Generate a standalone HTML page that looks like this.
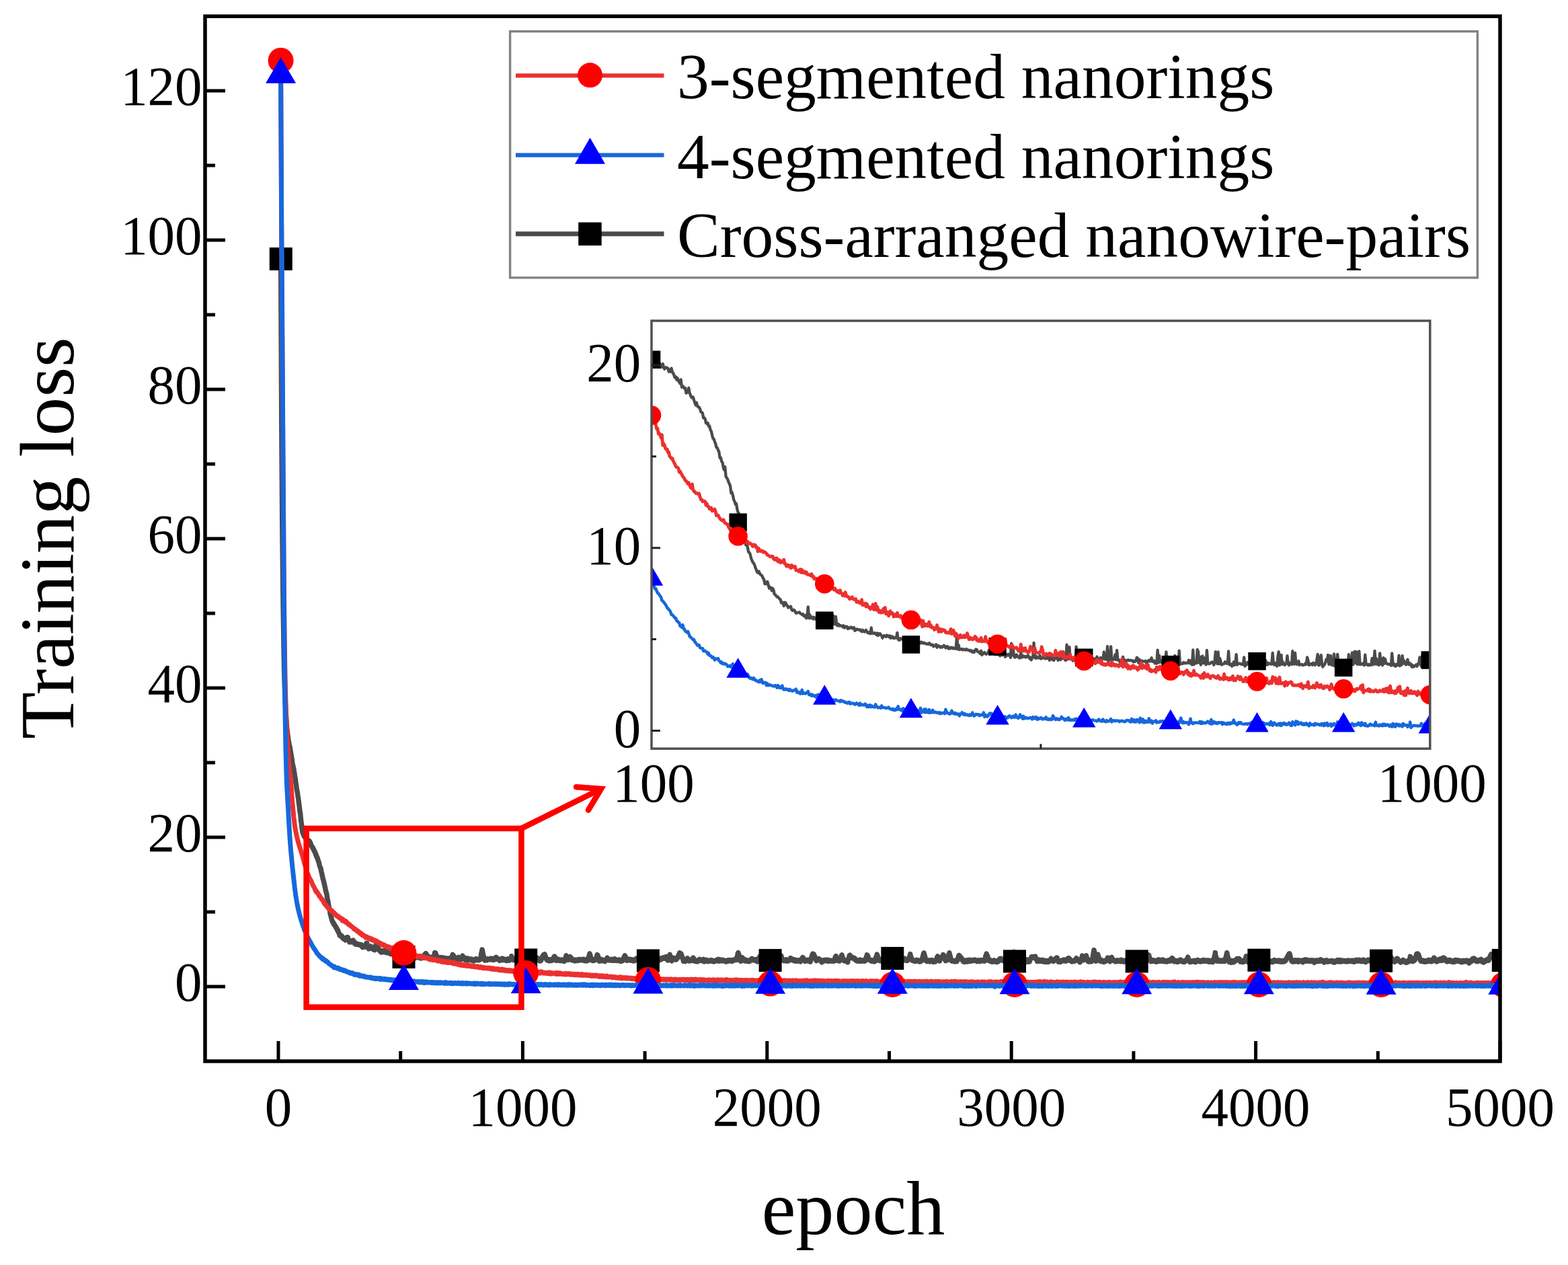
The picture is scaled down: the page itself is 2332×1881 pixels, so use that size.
<!DOCTYPE html><html><head><meta charset="utf-8"><title>Training loss vs epoch</title><style>html,body{margin:0;padding:0;background:#fff;overflow:hidden}svg{display:block}</style></head><body><svg width="2332" height="1881" viewBox="0 0 2332 1881">
<rect width="100%" height="100%" fill="#fff"/>
<defs><clipPath id="cm"><rect x="305.0" y="24.2" width="1926.0" height="1553.8"/></clipPath><clipPath id="ci"><rect x="969.0" y="477.0" width="1157.8000000000002" height="636.2"/></clipPath></defs>
<g clip-path="url(#cm)" fill="none" stroke-linejoin="round" stroke-linecap="round">
<path d="M417.6 383.7l.4 84.1 .4 75.9 .3 69.5 .4 64.8 .7 101.3 .4 40.9 .7 64.6 .4 26.7 .7 49.4 .4 20 .3 16.7 .4 14.7 .7 20.6 .4 8.9 .7 14.9 .4 5.3 .7 10.6 .4 5.8 .3 4.2 .4 3.3 .7 6.4 .4 3.2 .7 4.9 .4 2.3 .7 4 .4 1.7 .3 .9 .4 1.2 .7 5.1 .4 1.9 .7 4.4 .4 2.6 .7 3.6 .4 2.9 .3 2.7 .4 2.1 .7 3.4 .4 1.5 .7 3.4 .4 2.4 .7 4.1 .3 2.3 .4 2.9 .4 1.4 .7 6.2 .4 2.3 .7 4.4 .4 3.4 .7 3.8 .3 .6 .4 3.2 .4 3 .7 4 .4 4 .7 4.8 .4 3.2 .7 6.2 .3 1.4 .4 2.8 .4 3.5 .7 7.8 .4 1.8 .7 6.2 .3 2.5 .8 5.4 .3 .3 .4 1.6 .4 .7 .7 1.5 .4 1.7 .3-1.4 .4 1.1 .3 0 .4 0 .4 1.5 .3 1.4 .4-.2 .4 .5 .7-.2 .4 1.5 .3-.9 .4 1.4 .3-.6 .8 1.3 .3 .3 .4 .7 .4 .5 .3 1.1 .4-.4 .4-.6 .7 1.3 .3 .9 .4 1.5 .4-.3 .3 1.6 .4 .8 .4 .9 .7 1.6 .3 .6 .8 1.4 .3-.8 .8 2.6 .3 .2 .4 .6 .4 1.7 .7 .4 .3 1.2 .8 1 .3 2.1 .8 1.6 .3-.3 .4 2.8 .4 .1 .7 1 .3 1 .8 3.2 .3-.2 .8 3 .3 .5 .4 2 .4 1.8 .7 2.2 .3 .7 .8 2.1 .3 .6 .8 4.6 .3 1.1 .4 1.6 .3 1.8 .8 2.9 .3 2.4 .8 2.3 .3 1.4 .8 3 .3 1.8 .4 .8 .3 2 .8 3 .3 2.6 .8 2.5 .3 1.5 .8 2.6 .3 2.5 .4 2.5 .3 2.1 .8 3.1 .3 2.5 .8 4.2 .3 1.4 .8 4.1 .3 1.1 .4 .9 .3 3.8 .8 3.2 .3 .7 .8 3.6 .3 1 .7 2.3 .4 .6 .4 1.7 .3 .3 .8 .5 .3 .8 .4 1.6 .4-.1 .3-.1 .7 1.8 .4 1 .4-.2 .3 1.3 .8 1.5 .3-.6 .8 1.6 .3 1.6 .4-.1 .3 1.6 .4 .5 .4-.7 .3 1.7 .8 1.8 .3 .4 .7 1.7 .4 1.9 .4-.5 .3 .2 .4 .3 .4-.3 .3 .8 .8 1.4 .3-.7 .4-.2 .3 1.1 .4 .7 .4 .4 .3-.5 .4 1.9 .4-.1 .3-.1 .8 1 .3-.2 .7 .6 .4 .3 .4 .8 .3-1.1 .4-.9 .4 .5 .3-.9 .4-.9 .4 .4 .3-1.2 .4 .2 .3-.3 .4 .1 .7 3.1 .4 .3 .4 1.2 .3 .8 .7 1.7 .4-1.3 .4 .7 .3-.8 .4 .8 .4 .5 .3-.5 .4-.2 .4 .1 .3-.5 .7 .9 .4-2 .4-.1 .3 0 .4-.2 .7 1.5 .4 .8 .4 .3 .3-.2 .4 2.1 .3-.8 .4 1.6 .4 .3 .3-1.2 .4 .8 .4 .8 .3-.5 .4-.6 .4-.1 .3 1 .7-.4 .4 .8 .4-.4 .3 .3 .4 .4 .4 .1 .3-.2 .4 .1 .3 .5 .4 0 .4-.7 .3 .6 .4-.2 .4-.1 .3 .5 .4-.6 .4 1.9 .3-.6 .4 .9 .3-.9 .4 .3 .4 2.3 .3-.3 .4-.9 .4-.1 .3 0 .4 .4 .7-.4 .4 .4 .3-.7 .4 1.1 .4-2.3 .3 .2 .4-1.9 .7-.4 .4-1.5 .4 0 .3 1.2 .4 1.5 .3 .3 .4 .8 .7 2.7 .4 .5 .4 1.7 .3-.4 .4-.8 .3-.7 .4 .3 .4-.5 .3-.5 .4-.6 .4 .1 .3-.6 .4 1.2 .7 1.3 .4-.2 .7 1.4 .4-.9 .3 1.1 .4-.6 .4 .7 .3 1 .4 .1 .4-.3 .3 .4 .4 .2 .7-1.9 .4-2.3 .7-3.2 .4-.9 .3-1.4 .4-1.8 .7 3.2 .4 1.5 .7 2.6 .4 .7 .3-.2 .4 2.8 .4-.4 .3 1.6 .4-.4 .7 1.2 .4 .2 .3-.1 .4 1.4 .4 0 .3 .5 .4-.9 .4 .4 .3-.6 .4 .4 .3-1.1 .4 2 .4-.9 .3-.7 .4 .6 .4 .2 .3-.3 .4 .6 .4-.9 .3-1.3 .4 1 .7 1.5 .4 0 .3-.5 .4 1.2 .4 .2 .7-.8 .3 .5 .4 .2 .4 .1 .3-.6 .4 .7 .4-1.9 .3 .6 .4-.3 .4-.4 .7 2.3 .3-.8 .4 .2 .4 1.3 .3 .5 .4-.6 .4 .6 .3-1.8 .4 2 .4-.9 .7-.7 .3-.4 .4-.7 .4-.4 .3-1.4 .4 1.2 .4-1.9 .7-1.4 .4-.7 .7 2.7 .3 .2 .4 1.4 .4 1.6 .3-.4 .4 .9 .4 3.2 .7-2.2 .3 .9 .8 .5 .3 .1 .4-.2 .4 .2 .3-.6 .4 .8 .4 .1 .3 .6 .4-.5 .3 .6 .8-.8 .3 .4 .4-.1 .4 .1 .7 .3 .4 0 .3-.5 .4 1 .3-1.2 .8 1.6 .3 .1 .4 .3 .4-.3 .3 .7 .4-.8 .4 1 .3 .8 .4-.8 .3 .7 .8-1.8 .3 .2 .4 1.1 .4-.3 .3-1.4 .4 .8 .3 .2 .8-1.4 .3 .7 .4 .6 .4-.5 .3-.6 .4 .3 .4-.2 .3-1 .4 .1 .3-.9 .8-2 .3 1.6 .8-.8 .3-.5 .4-.6 .4 .7 .3-.1 .4 1.3 .3 .5 .8 1.1 .3 1.4 .8 1.1 .3 .6 .4 .6 .4-.3 .3 .9 .4-.5 .3-1.5 .4 2 .4-1 .3-.4 .4 .1 .4 0 .3-.7 .4-.3 .3-.2 .4 .7 .4-1.2 .3 .1 .8 .3 .3 .2 .8 1.5 .3-.4 .4 .3 .3 .4 .4-.3 .4 .7 .3-.1 .4-.7 .4 1 .3-1 .4 .3 .4-.3 .3 .8 .4-.5 .3-.6 .8-.6 .3 .6 .8 .4 .3-1.5 .7-1.6 .4-1.4 .4 .2 .3 0 .8-1.5 .3 .4 .4-.9 .4 1.2 .3 1.5 .4-.7 .3 .3 .4 1.4 .4 .7 .3 .1 .4 0 .4 .1 .3-.1 .8 .6 .3 .2 .7 1.9 .4-.7 .4-.3 .3 .4 .4-.7 .4 .8 .3 .3 .4-1.3 .4 .4 .3 .3 .7-.5 .4 .4 .4 1.6 .3-1 .8-.8 .3-1.7 .7-1.7 .4-.7 .4-2.8 .3 .4 .4-.6 .4 .3 .3 1 .8 1.9 .3 1.8 .7 1.9 .4 .7 .4 .8 .3-.5 .4 .2 .4-1.6 .3 2 .4-1.2 .4 .8 .3 .1 .7-.7 .4-.2 .7 .9 .4-.1 .4-.6 .3-.1 .4-.4 .4 .7 .3-.3 .4-.2 .3 .8 .4 1 .4-.1 .3 .2 .4-1.6 .4 1.4 .3-1.1 .4 .4 .3-.6 .4 .4 .7 .7 .4 0 .7 .6 .4-.2 .4-.8 .3 2 .4-1 .3 .8 .4-.7 .4-.5 .3 .4 .4-.5 .4 1.2 .3-1.6 .4 .8 .4-.8 .3 .4 .4 1.6 .3-1 .4-.5 .4-.6 .3 .7 .4 .1 .4 1 .3-2.3 .4-.9 .4 .3 .3-.6 .4 .1 .3-2.2 .4-1.7 .7 .6 .4 .9 .4 1.4 .3-.8 .4 1.9 .3-.1 .4 .2 .7 .7 .4 .2 .7 1.4 .4-.6 .7 1.2 .4 .2 .3-.6 .4 .5 .7-.5 .4-1.2 .7-1.5 .4 1.8 .7-.8 .4 .8 .3 .4 .4-.9 .7 2.1 .4 .3 .7-2.1 .4 .3 .7-2.2 .4-.7 .3 .1 .4-1.3 .7 2.5 .4-.2 .7 1.3 .4 1.4 .3-.4 .4 0 .4-.6 .3 2 .4-2.8 .4 1.9 .3-1.3 .4-.3 .7 .4 .4 1 .3-.7 .4 1 .4 1.3 .3-2.7 .4 1.5 .4-.4 .3 1.8 .4-1.5 .7-.4 .4 .7 .3 .5 .4-.8 .4 1 .7-1.2 .4 .8 .3-.2 .4 .2 .3-.9 .4 .5 .4 1 .3-.5 .4 1.2 .4-.2 .3-.7 .4 1.3 .4-.5 .3 .6 .4-.8 .3-.8 .4 1.2 .4-.7 .3 .4 .4-.1 .4-.1 .7-2.4 .4 .9 .3 .7 .4-.7 .3 .6 .4-.5 .4 .3 .3 .1 .4-.1 .4 .7 .3-.2 .4 .6 .4-.8 .3 .4 .4-.8 .3 .3 .4-.7 .4-.3 .7-2.6 .4-1.6 .7-4.9 .3-1.2 .4-1 .4-2.7 .7 3.6 .4 3 .3 3 .4-1.3 .4 2.4 .7 4.4 .3 .2 .4-.2 .4 .9 .7-1.1 .4 .1 .3-.6 .4 .6 .4-1.3 .3 1.6 .4-.7 .3 1.2 .4-.5 .4-1.5 .3 1.2 .4-.9 .4 .3 .3 .5 .4-.4 .4 0 .7-.7 .3 0 .4 .6 .4 .3 .3-.6 .4 .3 .4-.5 .3-.9 .4 1.1 .3 .6 .8 .5 .3 .1 .4 0 .4-.3 .3 0 .4-.6 .4 .6 .3-.1 .4 .3 .3-1.9 .4 .4 .4-1 .3 .3 .4-.6 .4 .7 .7-1.8 .4 2.4 .7-1.3 .3 .9 .8-.1 .3 1.2 .4-.4 .4 .9 .7 .3 .4-.1 .7 .1 .3 1.2 .4-2 .4 .3 .3 .2 .4 .5 .4-.3 .7-.4 .3 1 .8-2.6 .3 2.7 .4-1.6 .4 .3 .3 .3 .4-.9 .4 1.5 .7-1.3 .3 1.1 .4 .2 .4-.1 .3 .4 .4-1 .4 1.5 .3-1.1 .4 1 .4-1.2 .7 1.6 .3-1.7 .4 .5 .4-.5 .3-1 .8 1.7 .3-1.3 .4 .9 .3-.7 .8 1.7 .3-1.1 .8-1.7 .3-.1 .8-1.1 .3-.3 .4-2.1 .3 1.6 .8 1.2 .3-.2 .8 1.5 .3 .8 .8 1.1 .3-.2 .4-1.2 .3 .7 .8-.9 .3 .3 .4 .4 .4-1.1 .3 .9 .4 .6 .4-.5 .3 .3 .4 .8 .3-.5 .8 1.2 .3-1.1 .8 .1 .3 .6 .7-1 .4-.1 .4 .9 .3-.8 .4 1.2 .4-.3 .3-.7 .8 1.5 .3-.7 .4 .7 .3-.1 .4-.4 .4-.6 .3 1.8 .4-.9 .4 0 .3 0 .8-.5 .3-.8 .4 .5 .3-.7 .4-.4 .4 .5 .3-.6 .4-.6 .4 1 .3 .8 .4 0 .4 .8 .3-.4 .4-.1 .3 1.2 .4-.9 .4-1.4 .3 .3 .4-1 .4 .1 .3-.8 .7-2.9 .4 2 .7 1.3 .4 .3 .4 .2 .3 .8 .4-.5 .4 1.6 .3-1.1 .4 .1 .3-.7 .4 .7 .7-1.7 .4-.4 .4 .5 .3-1.3 .8 1.6 .3 .2 .7 .5 .4 1.3 .4 .2 .3-1.1 .4-.3 .4-.1 .3-.3 .8-1.2 .3-1.1 .4 .9 .3-1.1 .4 .6 .4 1.1 .3-.4 .4 1.5 .4 .5 .3 0 .4-.1 .3 .1 .4 .3 .4-.2 .3 1.5 .4-1.3 .4 1.2 .3-.2 .4 .1 .4-.6 .3-.8 .7-2.6 .4-1.3 .7-.9 .4-1.1 .7-1 .4 1.2 .4-2 .3 .7 .7-.8 .4-.5 .7 1.9 .4 1.4 .7 1.3 .4 1.7 .3 .1 .4 1.7 .7 .6 .4-.3 .4-.6 .3 1.2 .4-1.1 .7 .3 .4 1.4 .3-1.2 .4-.4 .4 .7 .3-.5 .4 1.4 .4-1.7 .3 .7 .4-.7 .4 1.6 .3-1.3 .4 .6 .3-.5 .4 1 .7-1.6 .4 1 .7-1.7 .4-.3 .7-3 .4 .6 .3-.2 .4-.9 .7 1.6 .4 .5 .7 2.1 .4 1.3 .3 .7 .4-1.4 .4 .9 .3-1.7 .4 1.2 .4 .3 .3-.8 .4-.6 .7 1.7 .4-.8 .3-.5 .4 1.1 .4 .2 .3-.9 .4 .6 .4 .8 .3-.4 .4 .2 .4-.6 .3 0 .4-.6 .7 1.5 .4-1.1 .3-.2 .4 .3 .4-.2 .3 .9 .4 .3 .4-.9 .3 1.1 .4 .7 .3-2.7 .4 .1 .4-1.1 .7-1.3 .4-1 .3-1.4 .4-1.3 .3 2.3 .4-.9 .4 1.9 .3 .7 .4-.2 .4 1.2 .3 1.6 .4-1.1 .4 1 .3-1.1 .4-.5 .3-1.2 .4 .5 .4-1.3 .3 .5 .4-1.6 .4 1.6 .3 .2 .4-.7 .4 1.3 .3 .7 .4-.7 .7 2.7 .4-.8 .3 1.1 .4-1.2 .4 .1 .7 1.1 .4-.3 .3 .1 .4 .5 .3-.9 .4 1.5 .4-1 .7-.1 .4-.4 .3 .8 .4-1 .3 .5 .4 .3 .4 .4 .7-.9 .4 .7 .7-1.1 .4-.1 .3-.3 .4 1 .3 .3 .4-1.2 .4 .3 .3-.5 .4 .7 .4-.6 .7 .3 .4 .2 .7 .2 .3 .1 .4-.5 .4 .9 .3-1.3 .4 1 .4-.6 .7 .7 .3-1.3 .8 2.1 .3-.2 .4-.1 .4-1.3 .3 1.2 .4-.2 .4 1.1 .7-1 .3-.7 .4 1.3 .4-.8 .3 .1 .4 .7 .4-.6 .7-1.2 .4-2.8 .7-1.9 .3-.8 .8-3.3 .3 .8 .4 1 .4 2.3 .7 2.3 .4 1.1 .7 2.4 .3-.6 .8 .8 .3 .1 .4-.3 .4 .7 .7-.3 .3 .1 .4-.4 .4 .1 .3-1.6 .8 .6 .3 .1 .4-1.4 .4 .2 .7-1.8 .3-.9 .8-1.5 .3-2.1 .8 1 .3 2 .4-.5 .4 2.3 .7 1.4 .3 .9 .4 2.4 .4-.5 .3 .4 .8-1 .3 0 .4 .1 .4-.3 .3 0 .4-.6 .3-.5 .4 1.9 .4-.9 .3 .2 .4-.5 .4 .9 .3-.4 .4 .6 .3-.8 .8 .7 .3-.2 .8 1.3 .3-1 .8-.6 .3-1.1 .4-.6 .3 .9 .8-2.5 .3-.4 .8 2 .3 0 .8 1.1 .3-.6 .4 1 .3 .2 .4-1.1 .4 .8 .3-.3 .8-.5 .3 .6 .4-.2 .4 .5 .3-1.4 .4 .7 .3 1.1 .8-.8 .3 .2 .4-.7 .4 .4 .3 .9 .4-.4 .3 .5 .4-.9 .4-.1 .3-1.6 .8 2.4 .3-.6 .4-.4 .4 .9 .3-.1 .7-.4 .4 .3 .4 .6 .3-1 .4 .7 .4-.1 .3 .5 .8-1.3 .3 1.3 .7-1.3 .4 .7 .4-.2 .3 .9 .4-1.3 .4 .3 .3 .5 .4 1.3 .4-.4 .3-1.1 .4-.4 .3 .8 .4-.5 .4 1 .3-.2 .8-1.3 .3 .1 .7-3.6 .4 .4 .7-2.8 .4-.4 .4 1.9 .3-.9 .8 2.5 .3-.5 .7 3.4 .4 .4 .4 .6 .3-.3 .4-.7 .4 .4 .3-.1 .4-1.3 .4 .4 .3-.1 .7 .3 .4-.5 .4 .8 .3-1 .4 1.6 .4-.3 .3 .6 .7-.9 .4-.5 .4 1.2 .3-.3 .4 .2 .7 .6 .4-.7 .4 1 .3-1 .7 .4 .4 .2 .4 .3 .3-1.8 .4 1.5 .4-1.8 .3 .3 .4 .3 .4 .2 .3-1.5 .4-.6 .3 1.3 .4-.2 .4-.5 .3 .6 .4-.7 .4 1.6 .3-.4 .4 1.2 .4-1.6 .3 1.5 .4 .8 .3-1.1 .4 0 .4-1.2 .3 1.2 .4-.2 .7-.9 .4 .9 .3-.6 .4 .3 .4 .4 .3-.2 .4 0 .4 .5 .3-1.9 .4 .8 .7-2.7 .4-.1 .3-.3 .4-1 .4-1.1 .3 .3 .4 .7 .7 1.4 .4 .1 .4 1.4 .3-.8 .4 .8 .3 .5 .4-.7 .7 2.6 .4-1.4 .4 1 .3-1.2 .4-.6 .4 1.8 .3-.3 .4 .3 .3-.2 .4-.1 .4-.2 .3 1.4 .4-1.3 .4 1.4 .3-.5 .4-.4 .7 1.3 .4 0 .3-.1 .4-.1 .4-1.3 .3 .7 .4-1.6 .7-1.3 .4-.6 .7-1.3 .4-.2 .3 .2 .4-.7 .4 2 .3-1.8 .4 .9 .4 0 .3 .3 .4 1 .3-.3 .4 .7 .4-.1 .3 1.6 .4-1.1 .4 1.1 .3 .8 .4 .2 .4-.1 .3 .1 .4-.4 .7-.5 .4 .6 .3-.7 .4 .1 .4-.8 .3-1.2 .4 .5 .7 .8 .4-.4 .7-1.4 .4 .7 .3-.5 .4 .4 .4-.5 .3-.7 .4 1.1 .3-.3 .4 .2 .4-1 .3 1 .4-.1 .4 .1 .7-1.2 .4-1.2 .3 2.4 .4-.5 .7 2.1 .4 .1 .7 1.2 .4-1 .3 1.1 .4-2.3 .3-1.1 .4-.5 .4-1.5 .7-2.1 .4-1.2 .7 3.7 .4-.8 .7 2.5 .3 1.2 .4 2.5 .4 .4 .7-.8 .4-1.4 .3 .5 .4-1 .4 .5 .7-2.2 .3 .8 .4 .4 .4-1.1 .7 2.3 .4 .2 .7-.9 .4 .6 .3 .2 .4-.5 .3-1.2 .4 .8 .4-1.7 .3-.3 .4 .4 .4-1.3 .7-2.4 .3 .5 .8-2.3 .3-.7 .4-1.4 .4 .5 .7 1.5 .4 0 .3-.9 .4 .1 .3 1.1 .8 2.1 .3 .9 .4 .9 .4 1.9 .7 1.5 .4 1.4 .3 1.5 .4-.7 .3 .4 .4-.7 .4 .7 .3 .2 .4-.2 .4 .2 .3 .4 .4-.7 .4-1.2 .7-1.4 .3 1.1 .8-1.7 .3-.9 .4 .8 .4 .5 .3-.2 .4 .8 .3 1.2 .4-.9 .4 .6 .3 1.4 .4-.9 .4 .7 .3-1.1 .4 .6 .4 .2 .3-.3 .4 .1 .3-.7 .8-.6 .3-.1 .4 1.4 .4-2.5 .3 .7 .4-1.5 .4-.9 .7 2 .3 .4 .8 1.3 .3 .6 .4 .8 .4-.6 .3 .7 .4-.5 .4 .7 .3-.1 .4 .2 .3-.3 .4-.2 .4 .4 .3 .3 .8-1.9 .3 .9 .4-.3 .3-1.2 .4-.1 .4 .1 .3 .5 .4-1.5 .4 1.1 .3 0 .8 1.1 .3 0 .4-1 .3 .1 .8 .9 .3 .2 .4-.6 .4 .7 .3-1.3 .8-1.1 .3 1.1 .4 .8 .3 .1 .4 1.4 .4-1.6 .3-.3 .4-.7 .4 .3 .3 .2 .4 .3 .4-.2 .3-.3 .4 1.5 .3-.3 .4 .7 .4-1.6 .3 .2 .8 1.5 .3-.6 .4 .3 .3-.1 .4 .2 .4-.6 .3 .4 .4-.8 .4 .2 .3 .1 .4-.2 .4 0 .3-.9 .4 .7 .3-.2 .4 .5 .4 .7 .3-1.3 .4 1.2 .4-.8 .3 .2 .4 1.2 .4-.3 .3-.2 .7 .6 .4-1 .4 .6 .3-.3 .4 .2 .4-.6 .3 .3 .7-1.2 .4 0 .7 .2 .4-.6 .4-.1 .3 .4 .4 .4 .4-.7 .3-1 .4 1.6 .3-.2 .4-.1 .4 1.6 .3-1.6 .4 .4 .4-1.2 .3 .9 .4 .2 .4-.3 .3-.1 .4 .6 .3-.2 .4 .9 .7-.9 .4-.5 .4 .9 .3 .2 .4-.5 .4 0 .3-.4 .7 .9 .4-.2 .4 0 .3 0 .4 .1 .4 .5 .3 .8 .4-.7 .3 .8 .4-1.2 .7 1 .4-1.3 .4-.1 .3 .4 .4-.9 .4-.1 .3 1.7 .4-1.3 .3 .3 .4-.2 .4-.4 .3 .8 .4-.2 .4 .1 .3-.2 .4-.5 .4 .9 .3-.1 .4-.8 .3 .4 .4-.1 .4 1.4 .3-.5 .4-.1 .4-.4 .3 .2 .4-1 .4 .5 .3-.2 .7-.6 .4 .5 .4-.9 .3 .4 .4 .2 .4 0 .3-.2 .4-.3 .3 0 .4 .3 .7-2.7 .4-2.1 .7-1.1 .4-3.3 .7-1.5 .4 1.1 .3 2 .4 0 .7 5.3 .4 .5 .7 2.5 .4 1.1 .4 .1 .3-1.9 .4-.3 .3-.5 .4 .3 .7-3.2 .4 2.4 .4-1.3 .3 1.4 .4-1.2 .7 2.3 .4-.3 .3 .8 .4 .6 .4-.7 .3 .6 .4 .7 .4-2.1 .3 1.3 .4 .2 .3-.6 .4 1.2 .4 .1 .3-.3 .4 .1 .7-.6 .4 1.1 .7-.6 .4 .9 .3-.9 .4 .6 .4-1.2 .7 .3 .4 .7 .3-1.2 .4 .2 .4-1.2 .3 .1 .4 .1 .7-1.5 .4 .4 .3-.7 .4 1.1 .4 .3 .3 0 .4 .8 .7 .3 .4-.7 .3 0 .4 1 .4-1.1 .3 .9 .4-.2 .4-.3 .3 .3 .4-1.2 .7 2.1 .4-1.3 .3 1 .4-.1 .4 1.6 .3-2.2 .4 .1 .4-.7 .3-.8 .4-1.1 .3 .3 .4-1.3 .4 .3 .7-2.4 .4 1 .3 1.6 .4-.2 .4 1 .3 1 .4 0 .7 2.4 .4 0 .3-1.3 .4 2 .4-.7 .7 .3 .3 1.2 .4-.2 .4-.4 .3-.6 .4 .7 .4 .1 .7-1.6 .4 .2 .3 .4 .4-.4 .3 .3 .4-.3 .4 1.3 .3-.6 .4 .3 .4 .7 .3-.6 .4 .2 .4 .4 .3-.3 .4 1.2 .3-.7 .4-.1 .4 .2 .3-.3 .4 1 .4-.1 .7-1.7 .4-1.2 .7 1 .3-1.2 .4 0 .4-.5 .3-3.2 .4 .4 .4-1.2 .7-2.4 .3 0 .8 2.4 .3 1 .4-.7 .4 .8 .7 2.4 .4 .8 .3 .6 .4-1.1 .3 .7 .8 .4 .3-.2 .4 .4 .4 0 .3 1 .4-.9 .4-1 .3 1.5 .4-.2 .3-.6 .4-.1 .4 .2 .3 .5 .4-2 .4 .2 .7-2.5 .4-.2 .7-3.5 .3 2 .8 2.2 .3 .5 .4 .8 .4 .4 .7 1.3 .3-.2 .8 .7 .3 0 .4-1 .4 .2 .3-.5 .4 0 .4 .7 .3-.5 .4 1.2 .3-2.1 .8 1.4 .3 .6 .4-.9 .4 1.3 .3-.6 .4-.9 .4 .4 .3 .3 .4-.8 .3 1 .4-.7 .4 .1 .3-.1 .4-1.1 .4 .5 .3-2 .4 1.1 .3-1.8 .4 1.4 .4-.7 .3 1.2 .4 .3 .4-.6 .3 0 .4 1.3 .4-1.1 .3 1.3 .4-.4 .3-.1 .4 0 .4 1.4 .3-1.8 .8 1.3 .3 .4 .4 .5 .4 0 .3-1 .4 .7 .3 .5 .8-1.2 .3 1.2 .8-1.3 .3 .3 .8 .3 .3 .3 .4-.4 .3-.5 .8-.2 .3 0 .8 .5 .3 .8 .4 .8 .3-.8 .4-.4 .4-.9 .3-.9 .8-.9 .3-1.3 .8-1 .3 .1 .7 2.3 .4 .2 .4-.3 .3 2.2 .4-.2 .4 .6 .3-.2 .4 1.2 .4-1.7 .3 .9 .4 .1 .3-.2 .4-.6 .4 .2 .3 .1 .4-.8 .4 1.1 .3 .2 .4-1.1 .4 .1 .3-.3 .4 1.2 .3-1 .4 .5 .4-.6 .3 1.8 .4-.6 .4 .4 .3 .9 .7-2.8 .4-.4 .7-3.5 .4-1.4 .4-1.4 .3-.3 .8-2.1 .3 1.1 .4 .3 .3-.6 .4-.2 .7 2.8 .4-.3 .4 .7 .3 .6 .8 2 .3 1.3 .7 2.2 .4 .5 .7-2.3 .4 .7 .4 .6 .3-.3 .4-.7 .4 .3 .3-.8 .4 .2 .3-.6 .4 1 .7 1.1 .4 .1 .4-.3 .3 .3 .4-.4 .3 1.3 .4-.6 .7 1.3 .4 1.4 .7-.8 .4-.7 .4 .3 .3-.6 .4 .3 .3-.3 .4-.2 .4-1.2 .3 .1 .4 .3 .4 .1 .3-.5 .4 .2 .4 .7 .3-1.4 .7 1 .4-.8 .7 .8 .4-.3 .4 .8 .3-.2 .4 .9 .3-2 .4 1.9 .4-1.3 .3 .9 .4 .3 .7-.5 .4 0 .4-.6 .3 .7 .4-.3 .3 .7 .4-.8 .7 .5 .4-.3 .7-.3 .4-.1 .7 .6 .4-.8 .3 1.3 .4-.6 .4-1.2 .3 1.6 .4-1.8 .4-1.5 .3 .6 .4-3.1 .4 2.1 .3-2.9 .4-.8 .3 1 .4 1.3 .7 1.7 .4-.3 .7 2 .4-.1 .3 1.2 .4-.3 .4-.3 .3 .9 .4-1.4 .7 1.6 .4-.8 .7-1.7 .4-1.4 .7-2.6 .4-.1 .3-1.9 .4-.5 .7 2.5 .4 1 .7 1.6 .4 .9 .7 2 .4 .5 .3 .3 .4-.4 .4 .2 .3-.8 .4 .3 .4 .9 .3-.1 .4-1 .7 1.3 .4-.7 .7 1.2 .4 .2 .3 1 .4-2.8 .7-1.8 .4-1.1 .7-2.9 .4-1.4 .7-.6 .4 1.4 .3-.5 .4 .6 .3 .8 .4-.6 .4 1.4 .7 .8 .4 .3 .7-.7 .4 1.4 .3-1.3 .4 .4 .3-.2 .4 .5 .4 1.2 .3 .2 .4-1.5 .4 1.2 .3 1.1 .4-.7 .4 .6 .3 1 .4 .5 .7-1 .4 .3 .3 .4 .4-.1 .4 0 .3 1.5 .4-1 .3 .2 .4 .3 .4-.4 .3-.3 .4 .1 .4 .6 .7-1.8 .4 1.8 .3 .4 .4-1.1 .3-.1 .4 .1 .4 1 .3-1.2 .4 1 .4 .2 .7-.6 .4-.5 .7 .4 .3-.5 .4 .4 .4-.5 .7 1.3 .4-1.3 .3 1.2 .4-.7 .4-1.1 .7-1.8 .3-2 .4 1.2 .4-2.9 .3-1.8 .4 .2 .4 1 .7 .7 .3 2.6 .8 1.3 .3 .5 .4 1.1 .4-.2 .3 .7 .4-.1 .4 .5 .3 .1 .4-.2 .3 .2 .4 .6 .4-1.4 .3 1 .4 .7 .4-1.3 .3 1.1 .4-.6 .4 .3 .3-.1 .4 .1 .3 .4 .8-1.4 .3 2.3 .4-1.2 .4-.2 .3 .8 .4-1 .3-3.1 .4 .2 .4-2.5 .3-.3 .8-2.3 .3-1.3 .4 .8 .4 1.4 .7 2.2 .3 .4 .8 3.4 .3 .8 .4-.5 .4 .6 .3-.1 .4 .4 .4-.3 .7-.6 .3 .6 .4-1.1 .4 1.2 .3-1.7 .8 1.5 .3 .6 .4 1.4 .4-1.4 .7-1 .3 1.9 .4-1.8 .4 1.3 .3-.4 .4 1.9 .4-1.4 .3 .1 .4-.7 .3 .2 .4 .6 .4-1.3 .3 .1 .8-.4 .3-.5 .8 .5 .3-.4 .4-1.9 .3-.1 .8-.2 .3 .2 .8 1.1 .3 .7 .4-1.1 .4 1.5 .3 .9 .4 .8 .3-.3 .8-.9 .3 .6 .4-.2 .4 .2 .3 .4 .4-1.3 .4 .5 .3-1.2 .4 1.8 .3-.4 .4-.5 .4 .6 .3 .6 .8-.8 .3-.2 .4 .2 .3-.6 .4-.1 .4 .4 .3 .1 .4 .1 .4-.2 .3-.1 .4 .7 .4 0 .3 .6 .4 .8 .3 0 .4-.8 .4 0 .3-.8 .4 .7 .4-.6 .3-.4 .8 .8 .3-.4 .4-.1 .3 .7 .4-.8 .4-.2 .3 .9 .4-1.3 .4 1.3 .3 .1 .8-.8 .3-1.1 .7-1.7 .4 0 .4-.4 .3-.1 .4 1.1 .4-.2 .3 .9 .4-.5 .3 1.1 .4-.5 .7 1.5 .4 .1 .4-.2 .3-.4 .4-.4 .4 .7 .3-.9 .4-1.4 .3 1.3 .4-.8 .7-1.1 .4-2.4 .4-.2 .3-1.1 .8-3 .3 3 .4-.1 .3 1.3 .4 1.2 .7 2.4 .4 .1 .4 1.6 .3 .2 .4-.5 .3 .3 .4 .2 .4 .2 .3-.8 .4 .7 .7 .7 .4-.4 .4 .4 .3-.8 .4-.1 .3 1.1 .4-1.2 .4-.4 .3 .3 .4 .6 .4-1.2 .3 1.1 .4 .3 .4 0 .3-.6 .4-.5 .3 0 .4 .6 .4 .9 .3-.2 .4 .3 .4-.3 .3 1 .4-1 .4-.4 .3 .3 .4-.5 .3 .6 .4 .1 .7-1.8 .4-.1 .7-2.9 .4-.6 .3-2.5 .4-.8 .7-3.1 .4-.5 .7 3.4 .4 .5 .7 3.2 .4 1.7 .3 .5 .4 2.6 .4 .1 .3-1.1 .4-.1 .7 1.8 .4-.7 .4-.6 .3 .3 .4-.8 .3 1.7 .4-1 .4 .8 .3-1 .4 .9 .4-.5 .3 1 .4 .3 .7-.8 .4 .1 .3-1.4 .4-.2 .7 1 .4-.3 .4 .5 .3-1 .4 .8 .7 .7 .4 1.1 .3-.5 .4 .1 .4-.8 .3 .1 .4 .5 .7-1.3 .4 1.4 .7-1.4 .4-.6 .7-2.5 .4-1.6 .3 1 .4-1.9 .4-.9 .3 .9 .4 1 .7 1.1 .4 1.7 .7 1.5 .4 .9 .3-.6 .4-1.3 .7-1 .4-.6 .7-.9 .4-.6 .3-1.1 .4 .1 .4-.3 .3-1.1 .4-.6 .3 .9 .4-2.4 .4 .5 .7 1.5 .4 1.5 .3 1.4 .4-.6 .4 2.8 .3 .5 .4 .4 .3 1 .4-.6 .4-.3 .3-1.2 .4 1.7 .4-.5 .3-.5 .4 .3 .4-.7 .3-2.2 .4-1.1 .7-3.2 .4-1.3 .7-2.2 .4 2.2 .7 2.2 .4 1.8 .3 1.1 .4 2 .7 1.2 .4 1.5 .3-.4 .4 .4 .4-.8 .7 .7 .3 .3 .4-.2 .4 .7 .3-.8 .4 .8 .4-.6 .3 .3 .4-.4 .4 .7 .3-.5 .4 .9 .3-1 .4 .3 .4-.4 .7-.7 .4 1.5 .3-1.5 .4 .1 .4-2.5 .3 .8 .4-1.5 .3-.6 .4-2.8 .4 .6 .3-1.7 .4 .8 .4 1.2 .7-.4 .3 1 .4-.2 .4 1.3 .3 .2 .4 .9 .4 .1 .3-.2 .4 1.4 .4 .7 .7 1.7 .3-.6 .4 1.4 .4-.1 .3-.5 .4 .2 .4-1.3 .3 2.4 .4-1.6 .4-.2 .3 1 .4-.3 .3-.6 .4-.7 .4 1.3 .3 .4 .4-1.5 .4-.3 .7 1.9 .4-2.2 .3 .9 .4-.9 .3 .6 .4 .1 .4 0 .3-1.1 .4 .1 .4 2.1 .7-2.1 .3 1.2 .4 .7 .4-.8 .3 .1 .4-.1 .4 .2 .3-.2 .4 .1 .4-.5 .3 .6 .4-.4 .3 0 .4-.9 .4 .5 .3 .3 .4-.4 .4 .1 .3-.4 .4 .3 .4-.6 .7 1.1 .3 .3 .4-.6 .4 .2 .3 .4 .8 1 .3-1.2 .4-.3 .4 0 .3 1.1 .4-1.3 .3 .8 .8-.5 .3 .6 .4-.1 .4 .8 .3-.7 .4 .5 .3-1.3 .4 .2 .4-.5 .3 .4 .4 .5 .4-.5 .3 .5 .4-.5 .4 .1 .3 .8 .4-.6 .3-.1 .4 .1 .4-.7 .3-.5 .4 1.1 .4-.1 .3 1 .8-3.6 .3-.4 .4-2.6 .3-1.5 .8-2 .3-1 .8 2.8 .3 .5 .4-.1 .4 2.3 .3 1 .4 1.5 .3 1.8 .8-.6 .3 .9 .8-1 .3 .3 .4 1.6 .3-.2 .4 .5 .4-1.3 .3 .5 .8 1.2 .3 .3 .4-.4 .4 .1 .3 .3 .7-1.3 .4 0 .4 .5 .3 .4 .8-1.7 .3 .5 .8 .7 .3-.5 .7 .8 .4 .9 .4 .1 .3-.5 .8 .6 .3-.5 .4-.9 .3 .5 .4-.8 .4 .8 .3-.4 .4 0 .4-1 .3-1.6 .4 0 .4-.7 .3-.6 .4-.1 .3 .2 .4 0 .4-.2 .3 .3 .4 .1 .4 .3 .3 .7 .4-.2 .4 .7 .3-.8 .4 2 .3-.8 .4-1.2 .7 2.5 .4-.4 .4-.5 .3 1 .4-.3 .4 .5 .3 .4 .4-1.8 .3 1.9 .4 .5 .7-.8 .4-.1 .4-.4 .3 .2 .4 .7 .3-1.2 .4 .3 .7 .7 .4-.4 .4 .1 .3-.4 .4 .9 .4-.8 .3-.1 .4 .5 .3-.6 .4-.1 .4-1.2 .3 1.6 .4-1.5 .4 .5 .3-.9 .4-2.3 .4-.7 .3-1.9 .7-4.1 .4-.9 .7-1.9 .4 1.6 .7 2.9 .4 1.7 .4 1.4 .3 2.5 .7 2.7 .4-.1 .4 .7 .3-.5 .4 .8 .4-.9 .3 .1 .4 .2 .3 .3 .4 0 .4 1.9 .3-1.9 .4 .6 .4-.1 .3 .2 .4 .7 .7-1.2 .4-.6 .3 1 .4 .1 .4-1.5 .3 1.2 .4-1.8 .7 1.6 .4-1 .4-.4 .3 1.7 .4-1.6 .3 1 .4-1 .7 1.9 .4-1.1 .7-.6 .4 .3 .7 1.3 .4 .2 .3-.2 .4 .1 .4-.4 .3 1.1 .4-1.7 .7-1.6 .4 .9 .3 .8 .4-.4 .4 1.1 .3-.2 .4 .9 .4-1.7 .3 .6 .4 1.1 .7-2.7 .4-.5 .7-.8 .4-.9 .7-2.3 .4 1 .3 .2 .4-1.2 .4 1.2 .3-1.1 .4 .5 .7-.7 .4 .5 .3 0 .4 .9 .4-.2 .3-.7 .4-.5 .3 0 .4-.5 .4 1.8 .7 .9 .4 1.2 .7 1.9 .4-.5 .3 1.9 .4-1 .3 .9 .4-1.5 .4 1 .3-1.1 .4 1.2 .4-.8 .3-1 .4 1.2 .4-.4 .3 .4 .4 1.1 .3-1.4 .4 0 .4 1 .3-.9 .4 .8 .4 .2 .3-.6 .4 .4 .4-1.6 .3 2.2 .4-1.3 .3-.1 .4 1.7 .4-.2 .3-1.2 .4 .5 .4-.5 .3-.4 .4 .9 .3 .3 .4 1.1 .4-1.6 .3 .8 .4-.6 .4 .1 .3 1.1 .4-1.7 .4 .5 .7 1.3 .3-.4 .4 .1 .4-.1 .3 .4 .4-.8 .4 .1 .7-.6 .4-1.5 .7 1.3 .3-1.7 .4-.8 .4-1.1 .7 1.4 .4 .6 .3-.4 .4 1 .4 .4 .3 .5 .4-.4 .3 .6 .4 .6 .4-1.4 .3 .7 .4-.6 .4-.1 .3-.5 .4 .1 .3 .4 .4-.8 .4 .2 .3-2.2 .4 .2 .4-1 .7 .9 .4-1.3 .7 2.2 .3 .8 .8 1.2 .3 1.9 .4-.8 .4 .8 .7-1.5 .4 .4 .7 1.3 .3-1.2 .4-.3 .4 .2 .3 .5 .4-.3 .4 .1 .7-1.3 .4-.3 .3 .9 .4-.6 .3-.2 .4 .6 .4-.2 .3-1.3 .4 1 .4-.4 .3 .8 .4-.2 .3 1 .8-1.4 .3-.4 .8 .9 .3 .5 .4-.3 .4-.8 .3-1 .4 .1 .3-1.5 .4 .5 .4-.2 .3-1 .8 1.2 .3-.8 .4 1.3 .4 .3 .7 .4 .3 1.6 .4-.9 .4 .7 .3 .3 .4 0 .4 1.2 .3-.2 .4-.3 .3-.2 .4 .5 .4-.1 .3-.7 .4-.3 .4 .4 .3-.3 .4 .8 .4 0 .3-.8 .4-.1 .3-.4 .4-1.6 .4 .6 .3-.1 .8-2.4 .3 1.3 .4-.4 .4 1.2 .3 .4 .4 .4 .3 0 .4-.9 .4 2 .3-1.3 .4 1.7 .4-.1 .3-.4 .8 .9 .3 1.3 .4-.8 .3-.3 .4-3.1 .4 .5 .3-1.3 .8-1.8 .3-.6 .4-2.3 .3 1.4 .4 .2 .4 1.4 .3 .6 .4-.2 .4 1.9 .3 1.2 .4-.5 .4 .1 .3-1.1 .4-1.4 .3 .2 .4-1.6 .4 .2 .3-2 .4-.6 .4 1.9 .3 .8 .8 1.5 .3 .4 .4 2.3 .3-.4 .4 2.2 .4-.3 .3 .5 .4-2.2 .4 1.1 .3-.1 .4 .5 .4-.9 .3 1.7 .7-2.2 .4 1.5 .4-.1 .3-.3 .4 .9 .4-.3 .3-.5 .7-3.8 .4-1.7 .7-4.5 .4-2.8 .4-1.7 .3-1.6 .8 3.5 .3 1.9 .7 5.6 .4 1.5 .7 3.9 .4-1.4 .4-1.5 .3-1.6 .8-1.5 .3-.9 .7-3.1 .4 1.8 .7 2.7 .4 .4 .4 1.9 .3 .3 .8 2.6 .3-.3 .4 0 .3 .7 .4-.4 .4-1.6 .3 1.9 .4-.5 .4-1 .3 .9 .7 1.1 .4-.8 .7-.1 .4 .9 .4-.3 .3 1 .4-.8 .4 .3 .3-.6 .7-.8 .4 1 .4-1.4 .3 .4 .4-.2 .4-1 .3 .1 .4-1.3 .4-.8 .3-.2 .4-1 .3 1.1 .4 .5 .4 1.4 .3-.1 .4 1.1 .7 .9 .4 .5 .4 .3 .3-.8 .7-2.6 .4-.7 .7-2 .4-.2 .7 1.9 .4 .5 .3 .3 .4 .2 .7 1.2 .4 .7 .4-.3 .3 .4 .4 .1 .7 .8 .4 .4 .3-.7 .4 .2 .7 .3 .4-1.5 .4 1.6 .3-.4 .4-.3 .4 .7 .3-.7 .4-1 .3 .5 .4 .2 .7 .3 .4-.5 .7 .7 .4-.3 .3-.5 .4 .3 .4-.2 .3 1.4 .4-1.8 .4-.7 .3 .5 .4 1 .4 .3 .3-.5 .4 .7 .3-.9 .4 .8 .4-.8 .3-.2 .4 1.9 .4-1.2 .3 .6 .4 .4 .7-.6 .4-.7 .3 1.5 .4-1.5 .4-.6 .3 .7 .4 0 .4 .3 .3 .5 .4-1 .4 .1 .3-.2 .4-.9 .7 1.4 .4-.6 .3 1.7 .4 0 .4-.4 .3 .2 .4-.7 .3 .6 .4-1.1 .4 .1 .7 1.1 .4-.5 .3-.2 .4 .9 .4-1 .3-.3 .4 .1 .3-.8 .4 0 .4 1 .3-.9 .4 .1 .4-1.2 .3 .3 .4-1.4 .4-.1 .3-.7 .4 .2 .3 1.3 .4-1.2 .4 1.6 .3-.2 .4 1.1 .4 .4 .3 0 .4 1.4 .4-.8 .3 1.5 .4-1.5 .3 .4 .4-.2 .4-.3 .7-1.2 .4 2 .3-1 .4 .5 .3-.9 .4 .9 .4-.4 .3 .5 .4-.5 .4-.1 .3 .8 .4-.2 .4 .8 .7-1.2 .3 .9 .4-.9 .4 1.2 .7-1.3 .4-1 .7-1.3 .4-.5 .3-.9 .4 1.1 .3 .9 .4 .4 .4-1.4 .3 2.9 .4-.7 .4-.5 .3 1 .4-.3 .4-1.5 .7-2.8 .3 .1 .4-2 .4-.7 .3-1.6 .4 1 .4 2 .7 1.8 .3 .3 .8 3 .3-.1 .4 1.8 .4-1.2 .3 .6 .4-.4 .4-.2 .3-.9 .4 1.2 .3-.3 .4 .6 .4-1.1 .3 .6 .4-.4 .4 .9 .7-1 .4 .7 .3-.4 .4 .1 .3 .6 .4 .7 .4-1.3 .3 .5 .4-.4 .4 1.7 .3-.4 .4 0 .3-.9 .4-1.3 .4 .1 .3 .1 .8-.9 .3 .7 .4-.2 .4 .3 .3 1.5 .4-.9 .3-.8 .8 1.1 .3 .1 .8-1.3 .3 .6 .4 .3 .4 1 .3-1.6 .4 .6 .3 .1 .4-1.3 .4 .2 .3 1.6 .4-1.4 .4 .4 .3 .8 .4-.6 .4 1.4 .3-.1 .4 .2 .3-.1 .4-.9 .4 1.3 .3 0 .4 0 .4-.7 .3 .2 .4-.8 .3 .7 .4 .3 .4-.6 .3-.4 .4 .4 .4-.7 .3-.8 .4 1.3 .4-.4 .3-.7 .4 1.1 .3 .1 .4 .1 .4-1.3 .3-.6 .8-.7 .3-1.1 .4-.3 .4 .8 .3-1.3 .4 .6 .3 .2 .8 2 .3 .4 .4 1.4 .4-.4 .3 .9 .4-.7 .4 .7 .3-.4 .4 .2 .3 0 .4-1.1 .4 .5 .3-.6 .4 1.1 .4-.5 .3 1.2 .4-.5 .3 .2 .4-.4 .4 .4 .3 .4 .8-1 .3-.6 .4-.5 .4 .1 .3-.3 .4-.7 .3 0 .4-.1 .4-.1 .3 .5 .8 1.8 .3-.4 .4 .4 .4-.4 .3 .9 .7-.4 .4 .7 .4-.1 .3-.9 .8 .7 .3 0 .4 .5 .4-1 .3 .1 .4-.3 .3 .2 .4-.5 .4-.1 .3-.9 .8-1.3 .3 .5 .7-1.3 .4-1.1 .4-1.4 .3 .9 .4 1.4 .4 .3 .3 1.4 .8 1.9 .3 .5 .4-.5 .3 1.5 .4-1.5 .4-.1 .3 .8 .4-.1 .4 .3 .3-.4 .4-.4 .4 .3 .3-.6 .4-.1 .3 .4 .4 0 .4 .1 .3-.2 .4 .7 .4-.8 .3 .2 .4 .6 .4-1.6 .3 1.8 .7-.6 .4 1.2 .4-.8 .3 .3 .4-.5 .4-.6 .3-.4 .7-.6 .4-.4 .7 1.2 .4-.8 .7 1.2 .4-1 .4 .5 .3 .5 .7-.4 .4 1.2 .4-.7 .3 .6 .4-.7 .4 .4 .3-1.1 .4 .2 .4 .5 .3-.6 .4 .4 .3-.9 .4-.5 .4 0 .3 1 .4-.7 .4-.2 .3 .3 .4-.3 .3 1.6 .4-.8 .4 .9 .3-.3 .4-.2 .4-.3 .3 .6 .4-.6 .7 .6 .4-1.2 .3 .2 .4 1 .7-.5 .4-.7 .7 .7 .4 1.6 .7-1.1 .4 .1 .3 0 .4 .4 .4-1.1 .3 .2 .4 .9 .4 .5 .3-1.6 .4 1.5 .7-1.2 .4 1.6 .3-.6 .4 .4 .7-1.8 .4-2.5 .7-2 .4-2.1 .7-2.3 .4-3 .3 3.1 .4 1.2 .7 3.1 .4 1.9 .4-.4 .3 2.4 .4 1.3 .3-.2 .4 .3 .4 0 .7-2.1 .4 .9 .3-.1 .4 1.2 .4-.8 .3 .7 .4-1.1 .3 .6 .4-.1 .4 .1 .7 .9 .4-1.2 .3 1 .4-.1 .4-.5 .3 .2 .4-.6 .3-.4 .4 .4 .4 0 .3 .2 .4-.5 .4 1.5 .3-1.2 .4 .7 .3 .2 .4-.7 .4-1.1 .7-3.6 .4 .5 .7-5.1 .4-.8 .3-1.7 .4 2.3 .7 3.6 .4 .5 .7 3.8 .4 1.3 .7 2.3 .4-.7 .3-1 .4-.3 .3 1.4 .4-1.1 .4 1.4 .7 1 .4-1.9 .3 .7 .4-1.6 .4 1.1 .3 0 .4 1.1 .3-1.9 .4 1 .4 0 .3 1.1 .4-1.7 .4 0 .3 .9 .4-.3 .3-.1 .4-.8 .4 0 .3-1.3 .4 .7 .4-.3 .3-.5 .4 .7 .4-1.4 .3-1 .4 .3 .3 .5 .4-.7 .4 1.3 .7-1.6 .4-.2 .3 1.3 .4-.4 .4-.1 .3 1.7 .4-.2 .3 1.8 .4 .7 .4-1 .3 .4 .4-.1 .4 .5 .7-.7 .3-.4 .8 1.9 .3-1.7 .4 .3 .4-.2 .3 .2 .4-1.3 .4 1.1 .3-.4 .4 1.2 .3-1.6 .8-2.2 .3-1.1 .4-.4 .4-2.3 .3 .6 .4-1.2 .4 .8 .7 2.2 .3 1.2 .4 1.7 .4 0 .3 2.2 .4 1.1 .4 .3 .3 0 .4-.9 .4-.6 .7-1.4 .3 1.4 .4-1.1 .4 .6 .3-1.6 .4 1.3 .4 .1 .3 .6 .4-.9 .3 .9 .4-.2 .4 .6 .3-2.5 .8-1 .3-1.1 .4 .1 .4-.7 .3-1.1 .4 .8 .3 1.1 .8 1.5 .3 0 .8 1.8 .3-.4 .4 1.8 .4-.8 .3-1.2 .4 1.1 .3 .6 .4-1.8 .4 .4 .3 .9 .4-.9 .4 1.1 .3 .3 .4-.5 .4 .3 .3 .5 .4-.3 .3 .5 .8-.7 .3-.5 .8 1.1 .3-.1 .4-.6 .3-1.1 .8-.8 .3-1.9 .4 .2 .4-2.2 .3-.2 .8-2.6 .3 1.1 .4 .2 .3 1.3 .8-.2 .3-1.1 .8 3.3 .3 1 .4-.8 .4 2 .3-.1 .4-.3 .3 1.3 .4-1.1 .4 .6 .3 1 .8 .5 .3 .1 .8-1 .3 .2 .4 .1 .3 .6 .4-.4 .4 1.1 .3-.7 .4-.7 .4 .2 .3 1.1 .4 .1 .3-1.2 .4-.3 .4 1.6 .3-.7 .8-1.3 .3 1 .4-1 .4 .5 .3-1.6 .7 1.4 .4 0 .4-.8 .3 .2 .4 .9 .4-.7 .3 .9 .4-.3 .4 .3 .3 0 .4-.4 .3 .2 .4-.8 .4-.2 .3 .6 .4 .5 .4-1.1 .3 1.6 .7-1.5 .4 0 .4 0 .3 .7 .4 .7 .4-.3 .3-.5 .8 1 .3 .5 .7-1.5 .4 .1 .4 .8 .3-.2 .4-.4 .4-.7 .3 .8 .4-.5 .4 1.1 .3-.5 .7-1.3 .4 1.2 .7-1.1 .4-.2 .4-.7 .3-1.4 .8-1.9 .3-.6 .7-1.1 .4-.6 .4 .2 .3-.8 .4-1.6 .4 .9 .3-2 .7-.5 .4 1 .7 2.4 .4 2.2 .7 2.6 .4 .2 .4 1.9 .3 1.1 .4-.3 .3 .3 .4-.3 .7-1.1 .4 2.3 .4-1.5 .3 .3 .4 .5 .4-.4 .3 .1 .7-.9 .4 1.3 .4-1.7 .3 1 .4-1 .4 .7 .3-.4 .4 .4 .4-.2 .3 .6 .4 .6 .3-.8 .4 0 .4-.8 .3 2.3 .4-1 .4-.7 .3 1.3 .4-.5 .3-1.4 .4 .3 .4 1.2 .3-1.3 .4 0 .7 .3 .4 0 .4 .7 .3 0 .4-.6 .3 .4 .4-.8 .7 2.6 .4-1.1 .7-.9 .4-.1 .4 .2 .3-1.6 .4 1 .3-1.1 .4 .3 .4 .7 .3-1.3 .4 2.3 .7-1.3 .4 .7 .4-.5 .3 .6 .4 .2 .3-1.5 .4 1.3 .4-.1 .3 .5 .4-.2 .4-.8 .3 0 .4 .3 .3 .5 .4-.8 .4 1.4 .3-.7 .4 0 .4 .4 .3-.5 .4 .5 .4 .1 .3-1.4 .4 .7 .3-.2 .4 .7 .4-.5 .3 .2 .4-.2 .4-.6 .3 1.4 .4-.2 .7 2.1 .4-1.1 .7-1.2 .4 .6 .7-1.2 .4 .9 .3-1.1 .4-.3 .7 1.5 .4-1.3 .7 1 .4-.2 .3 .4 .4-.9 .4 .2 .3-.3 .4 .3 .3 .7 .4-.5 .4-.6 .3 .6 .4-2 .4 1.7 .3 .2 .4-.9 .4 .2 .3 .5 .4 .1 .7-.5 .4 .1 .3 .7 .4-.2 .4-.1 .7 2.5 .4-1.1 .3 .1 .4-.2 .7-.9 .4 0 .3 .2 .4-.2 .4-1.1 .3 1.1 .4-.6 .3-.6 .4 .9 .4 1.4 .3-1.2 .4 .6 .4 0 .3-.5 .4 .5 .4 .3 .3-.7 .4 .2 .3 .1 .4-.2 .4 0 .3 .2 .4 0 .4-.3 .7 .6 .4-1.4 .3 .8 .4-.2 .3 .1 .4-.2 .4 .2 .7 .9 .4-.8 .3 1.1 .4-.7 .4 1.8 .7-1.7 .3 .4 .4 .1 .4-.8 .3 .5 .4-.9 .4 1.1 .3-1.2 .4 .1 .3-.7 .4-.2 .4 1 .3-1.4 .4 1.2 .4 .8 .3 .2 .4-2.2 .4 1 .7 .4 .3 .2 .4-1.3 .4 .8 .3-1 .4 1.2 .4 1.2 .3-1.7 .4 .7 .4-.1 .3-1 .4 1.1 .3-.8 .8 1.1 .3-.7 .4 .6 .4-1 .7 .6 .4-.3 .7 .6 .3-.6 .4 .7 .4-.4 .3 1 .4-.6 .4-.1 .3 .6 .4-.3 .3 0 .4-.8 .4 .8 .3-.8 .4-.6 .4 .5 .3 1.2 .4-1 .4-.5 .3 .8 .4-.7 .3 .3 .8 .5 .3 .1 .8-.5 .3-.3 .4 0 .4 .3 .7-.5 .3 1.3 .4-.4 .4 .2 .3-.2 .8 .3 .3 .5 .4-.7 .4 0 .3 .9 .4-1 .3 .4 .4-1.7 .4 1 .3-.1 .4-.5 .4 .2 .3-.1 .4-.9 .3 .8 .8-.5 .3 1.2 .4-1.5 .4 .6 .3-.1 .4 1 .4-.9 .3 .3 .4 .5 .3-1.5 .8 1.5 .3-.2 .8-.5 .3 .4 .8-.5 .3 1.6 .4-.6 .3 .1 .8-1.6 .3 .2 .4 .8 .4-.5 .3-.9 .7 1.2 .4 0 .4 1.5 .3-1.1 .8 .7 .3 1.1 .8-.7 .3-.7 .7-.4 .4-1.1 .4 0 .3 .9 .8-1.3 .3 1.1 .8-1 .3 1.2 .7-.3 .4 .5 .4 .1 .3-.3 .4-.7 .4 .7 .3-.1 .8 .6 .3-1.6 .4 2.1 .3-.9 .4-.7 .4 1.1 .3-1.2 .4-.3 .4 1.1 .3-.5 .4 .9 .3-.8 .4 .4 .4 0 .3-.5 .4 .6 .4-.4 .3 .4 .4 .9 .4-.8 .3-.2 .4 1.1 .3-1.6 .4 .6 .4-.2 .3 .5 .4-.7 .4-.4 .3 .1 .4-.4 .4 1 .3-2.1 .7 1.9 .4-.6 .4 .1 .3-.6 .4 .9 .4-.5 .3 .8 .4-1.6 .4 .9 .3-.7 .4 1.6 .3-.9 .4 1 .7-.9 .4 1.3 .4-.1 .3 .2 .4 .4 .3-.2 .4 .3 .4 .5 .3-.7 .4-.1 .4 .8 .3-.7 .4-.5 .4-.2 .3 0 .7-1.3 .4-.2 .7-1.9 .4-.5 .4 .6 .3-.7 .4-1.4 .4 .5 .3-1.2 .7 .9 .4-.1 .4 .9 .3-.4 .4 .9 .4-2.2 .3 .6 .4 .6 .4 1.1 .3 .1 .7 1 .4 .6 .4 1.5 .3-.2 .4 .7 .7 .7 .4-.7 .3-.1 .4 1.5 .4-1.5 .3 .4 .4 .3 .7-1.4 .4-1.2 .4 .1 .3-.3 .4-1.4 .3 .7 .4-.8 .4 0 .3 .9 .4 .2 .7 1 .4 .9 .4 1 .3-.1 .4 .2 .3-.5 .4 .1 .7 1.8 .4 .3 .7-1.2 .4 .2 .3-.1 .4 .1 .4-1.3 .3 .1 .4-.2 .7-1.1 .4 1.3 .4-.8 .3 .4 .4 .9 .3-.3 .4 .8 .4 .6 .3-.3 .4 .3 .4-.8 .3 .2 .4-.3 .4-.2 .3 2.2 .4-1.9 .3 1.1 .4-1.2 .4 .5 .7-1.4 .4 1.7 .3-1.2 .4 .1 .4 .2 .3-2.3 .4-.5 .7-1.3 .4-3 .3 1.1 .4-.1 .4 .4 .3 .5 .4 .8 .7 2 .4 0 .7 2.7 .4-.4 .7-1.1 .4 .2 .3 .4 .4-.3 .7-1.3 .4 .3 .7-3.1 .4-.3 .7-3 .4-.9 .3-1.8 .4-.1 .7 1 .4-.1 .3-1 .4 2 .4-.6 .3-.2 .4 1.5 .4 .8 .3 1.4 .4 .8 .7 2.7 .4 .9 .7 1.4 .4-.2 .3 .7 .4-1.1 .3-.5 .4 0 .4 .3 .3 1.3 .4-1.3 .4 1.3 .7-1.2 .4 1.8 .3-1 .4 .5 .3 .3 .4 .3 .4-.7 .3 .4 .4-.9 .4-.2 .3 1.4 .4-.5 .4-.2 .3 .4 .4-.2 .3-.8 .4 0 .4 .7 .7-1.4 .4 .8 .7-1.5 .4 .1 .3 1.6 .4-.1 .3-1 .4 .9 .4-.5 .3 .1 .4-.5 .4 1.8 .7-.7 .3-1.2 .8 1.6 .3-1.8 .4-.6 .4 0 .7-1.4 .4-.9 .3 .1 .4-.8 .3 1 .8 1.7 .3-.1 .4 .9 .4 .6 .3 0 .4 .8 .4-.3 .3 1.3 .4-1.3 .3 .6 .4 0 .4 0 .3-1.2 .4 .1 .4 .6 .7-1 .4 0 .3-1.5 .4 1.5 .3-.1 .8-1.2 .3 .1 .4-.2 .4-.6 .7 1.8 .3 .8 .8-1.8 .3 .2 .4-1.3 .4 .2 .3-1.3 .4 .2 .4 .3 .3-.7 .4 1.1 .3 .6 .4-.5 .4 .2 .3-.1 .8 2.3 .3 1.1 .4-1.1 .4 .4 .3 .6 .4-.6 .3 .1 .4 1.5 .4-1.4 .3 .4 .4 .2 .4 0 .3-1.3 .4 0 .3-.2 .4 1.6 .4-.4 .3-.9 .4 1.3 .4-.1 .3 .7 .4-1.8 .4 .6 .3 .4 .4 .3 .3 .5 .4 .1 .4-.5 .3 .8 .4-1 .4 1 .3 .3 .4-1.1 .4 .8 .3-.7 .4 .3 .3 .7 .4-1.9 .4 .7 .3-1.6 .4 1.1 .4-.1 .3-1.1 .8 .4 .3 .9 .4-1 .3 1.4 .4-.4 .4 .3 .3-.3 .4-.7 .4 .8 .3-.7 .4-.1 .3 1.3 .4-.4 .4-.5 .3 .4 .4-.3 .4 1.5 .3-1.3 .8 1 .3 .9 .4-.6 .3 .2 .4-.8 .4 .2 .3-.6 .4 .5 .4-1.2 .3 2 .8-1.7 .3 1.1 .4-1.2 .3 1.1 .4-.7 .4 .6 .3-.2 .4-.4 .4 .2 .3 .2 .4-1.4 .4 1.3 .3 .5 .4-1 .3 .1 .4-.2 .4-.2 .3 1.7 .4-.9 .4 .1 .3 .7 .7 2 .4-1.2 .4-1.5 .3 1.8 .4-.9 .4-.7 .3-.4 .4-.8 .4 1.7 .3-1.2 .4-.9 .3 .7 .4-1.2 .7-1.7 .4 0 .4 1.3 .3-1.9 .8 .9 .3 .3 .4-1.4 .3 2.2 .4 .8 .4-.3 .3 .7 .4 .2 .4-.1 .3-.3 .8 1.3 .3-.5 .4-.2 .3 .6 .4-1 .7 1.1 .4-.8 .4-1 .3 .2 .4 .8 .3-.6 .4 .6 .4 .1 .3-1.4 .4-.1 .7-.5 .4-.5 .4 .2 .3 .1 .7 1.5 .4 .1 .7 2.1 .4-.6 .7 .9 .4-.1 .4 .4 .3-1.2 .4-.5 .3 .9 .4-1.4 .7-.3 .4 .7 .4-1 .3 1 .4-1.8 .3 .7 .4 .6 .7-1.5 .4 .8 .4-1.7 .3 1.7 .4-.9 .4-.6 .3 1.8 .4-2 .3-.3 .4-1 .7-2.1 .4-.2 .7-2.3 .4-.5 .4-1 .3 2.1 .4 .2 .3 .3 .4 .4 .7 .6 .4 1.1 .7 1.1 .4 .2 .7 2 .4 1.4 .3-1.7 .4 1.3 .4 .4 .3-.1 .4 .5 .4 .3 .3-.4 .4 0 .7 .6 .4-.9 .3-.8 .4 .3 .4-.5 .3 .8 .4-1.3 .4-.3 .3 .3 .4 .6 .3-.8 .4 1.1 .4-.3 .3 .9 .4-.2 .7 1.9 .4-.8 .4 .1 .3-.6 .4 .5 .7-.8 .4-.2 .3 .1" stroke="#4b4b4b" stroke-width="7.5"/>
<g fill="#000" stroke="none"><rect x="400.8" y="368.0" width="34" height="34"/><rect x="583.5" y="1406.0" width="34" height="34"/><rect x="765.2" y="1410.5" width="34" height="34"/><rect x="946.9" y="1411.5" width="34" height="34"/><rect x="1128.6" y="1411.1" width="34" height="34"/><rect x="1310.3" y="1408.0" width="34" height="34"/><rect x="1492.0" y="1412.4" width="34" height="34"/><rect x="1673.7" y="1412.4" width="34" height="34"/><rect x="1855.4" y="1410.7" width="34" height="34"/><rect x="2037.1" y="1411.7" width="34" height="34"/><rect x="2218.8" y="1411.0" width="34" height="34"/></g>
<path d="M417.6 89.8l.4 103.1 .4 88 .3 76.1 .4 65.4 .7 112.2 .4 49.9 .7 93 .4 48.4 .7 104.1 .4 45.1 .3 36.9 .4 30.4 .7 49.8 .4 19.6 .7 32.4 .4 13.3 .7 20.9 .4 7.7 .3 6.5 .4 5.7 .7 11.3 .4 5.6 .7 10.6 .4 4.9 .7 8.8 .4 3.7 .3 3.3 .4 3.1 .7 6.3 .4 3.5 .7 8.6 .4 4.9 .7 9.8 .4 4.5 .3 4.4 .4 4.3 .7 8.2 .4 3.8 .7 7.2 .4 3.3 .7 6.1 .3 2.7 .4 2.3 .4 2.3 .7 4.1 .4 1.9 .7 3.5 .4 1.6 .7 3.1 .3 1.6 .4 1.4 .4 1.5 .7 2.7 .4 1.3 .7 2.4 .4 1.1 .7 2.3 .3 1.2 .4 1.1 .4 1.1 .7 2.4 .4 1.1 .7 2.3 .3 1.1 .8 2.4 .3 1.3 .4 2.1 .4 .6 .7 3.1 .4 1.1 .7 3.1 .3 1 .8 2.5 .3 1.2 .4 1.6 .4 .7 .7 3.4 .4 .2 .7 2.4 .3 1.1 .8 1.7 .3 1.4 .4 .4 .4 .7 .7 2.1 .4 .8 .7 1.2 .3 .5 .8 1.4 .3 .8 .4 .6 .4 .7 .7 1.7 .3 .9 .8 1.8 .3 .8 .8 1.7 .3 0 .4 .9 .4 .7 .7 1.1 .3 1.3 .8 1.8 .3 .9 .4 .5 .4-.9 .3 2.1 .4-.4 .4 .1 .3 1.4 .4-.3 .3 .4 .4 .9 .4-.1 .3 1.3 .4 1.1 .4 0 .3 .9 .4 .9 .4 .5 .3-1.1 .4 1.7 .3 .3 .8 1 .3 .6 .8 1.5 .3 .7 .4 .2 .3 .1 .4-.2 .4 1 .3 .2 .8 1.9 .3 1.1 .4 0 .4 1.4 .3-.2 .4-.4 .3 1.1 .8 1.3 .3 1 .8 .5 .3-.3 .8 1.8 .3 .3 .4 .3 .3 .5 .4 .8 .4-.2 .3 .2 .8 1.4 .3-.1 .4 1.1 .4-.9 .3 1.2 .4 0 .3 .4 .8 1 .3 .6 .4-1.2 .4 .9 .3 .3 .4-.5 .3 1.3 .4 0 .4 .6 .3-.2 .8 1 .3 .6 .4 0 .4 0 .3 1.7 .4-.5 .3 .4 .4 .3 .4 1.1 .3-.9 .8 1.1 .3 .4 .4 .8 .4-.2 .3 .9 .4-.1 .3 .1 .4 .1 .4 .3 .3 .4 .4-.7 .4 1 .3 1 .7 .3 .4 .1 .7 .8 .4-.9 .4 1 .3 .4 .8 .4 .3-.5 .4 .6 .3 0 .4 2.1 .7-1.4 .4-.2 .4 1.1 .3 1 .4-.8 .4 .8 .3 .8 .7-.8 .4 .2 .7 1.5 .4-1.4 .4 2 .3-.3 .4 .9 .4-.9 .3 .7 .7 .7 .4 .4 .7 1.4 .4-1 .4 .3 .3 .9 .7 .3 .4-.2 .7 1.2 .4 .6 .4 .7 .3-.1 .4 0 .4 .4 .3 .2 .4 0 .3 .4 .4 .4 .7 .6 .4 .4 .7 1.3 .4-1 .4 1.4 .3-.7 .4 .7 .3-.2 .4 .7 .4 .8 .3-.7 .4 .7 .7 .6 .4-.1 .4 .3 .3 .6 .4 1 .3-.2 .4 0 .4-.4 .3 .8 .4 .5 .4-.3 .3 .8 .4 .3 .3 .1 .4 1 .4-.8 .3 .5 .4 .5 .4 .7 .3-.4 .4-.2 .7 1.6 .4-.5 .3 1.2 .4 .5 .4-.5 .3 .3 .4 .1 .4 .3 .3-.2 .4 .5 .7 .6 .4-.3 .3 .1 .4 .2 .7 2.3 .4-.8 .7-.2 .4 1 .4-1.2 .3 .7 .4 .6 .3-.2 .4 .4 .4 .4 .3-.4 .4 .6 .4 .6 .3-.2 .4-.1 .3 .6 .4-.9 .4 1.2 .3-1.1 .4 .5 .4 1 .3-.3 .4-.3 .7 1.3 .4-.4 .3-.7 .4 1.7 .4-.7 .7 .6 .4 .3 .3 .1 .4-.4 .7 1.2 .4-1 .3 1.4 .4-.7 .4 .4 .3-.3 .4 .6 .4-.2 .3 .7 .4-.3 .4 .5 .3-.7 .4 1.5 .3-.7 .4 .5 .4 .4 .3 .5 .4-.3 .4 1.1 .3 .1 .4-.7 .3 1.2 .4-1.2 .4 1 .3-.1 .4 .3 .4 0 .7 .7 .4 .1 .3-.3 .4 .1 .7 .7 .4 .5 .3 .8 .4-.9 .4 .1 .3 .8 .4-.4 .4-.1 .3 .7 .4-.2 .7 1.5 .4-.4 .3 .2 .4-.3 .4 .8 .3 0 .4 .4 .3-.3 .4 .1 .4-.2 .7 .6 .4 .1 .7 .4 .4-.5 .3 1.9 .4-.8 .3-.1 .4-.2 .4 1.1 .7-.6 .4 .7 .3 .8 .4-.6 .4 .5 .3-.6 .4 .7 .3-1 .4 .9 .4 .5 .3 0 .4 .4 .4-.6 .3-.4 .4 .9 .4-.4 .3 1 .4-.5 .3-.8 .4 1.8 .4-1.1 .7 1.6 .4-.1 .7-.9 .3 .8 .8-.3 .3 .3 .4 .1 .4 .3 .3-.5 .4 .9 .4-.9 .7 1.3 .3-.6 .8 1.4 .3-.9 .4 .9 .4-.2 .3-.6 .4 .9 .4-.4 .3 .4 .4-.9 .3 1 .8 .7 .3 0 .4-.3 .4 .2 .3-.3 .4 .5 .4 .1 .7 .4 .3-.1 .4-.1 .4 .1 .3 .7 .4 .7 .4-.3 .3-.4 .4 1.4 .3-.8 .4-.3 .4 .6 .3 .4 .4-1.2 .4 .3 .3 .8 .4-.6 .4 .1 .3 1.2 .4-1.5 .3 1.7 .4-.2 .4 .4 .3-.4 .4 .7 .4-.4 .3-.4 .4 .4 .4 .3 .3-.7 .4 1.2 .3-.7 .4 .6 .4-.1 .3 .1 .8 .2 .3 .4 .4 0 .4-.3 .7 .8 .3-.1 .4 .1 .4-.2 .3 0 .8 .5 .3-.2 .4 .7 .3 .7 .4-1.2 .4 .8 .3-.2 .4 .2 .4-.8 .3 .9 .4-.5 .4 .4 .3 .4 .4 .2 .3-.8 .4 .1 .4-.1 .3-.4 .8 .9 .3 .3 .4 0 .4 .2 .3 .4 .4-1.2 .3 1.8 .4-.9 .4 0 .3 .2 .4 .6 .4-.2 .3 .2 .4 .3 .3-.3 .4 .2 .4 .2 .3-.5 .4 .9 .4-.6 .3 .6 .4-.4 .4 .2 .3 .1 .4 .6 .3 0 .4 .1 .4-.4 .3-.1 .4-.1 .4 .8 .3-.2 .8 1.2 .3-.5 .4 0 .3 .5 .4 .2 .4-1 .3 .7 .4 .5 .4-1.7 .3 1 .4 .3 .4-.4 .3 .8 .4-1 .3 1.5 .4-.1 .4-.4 .3 .4 .4-.9 .4 1.4 .3-.3 .7-.4 .4-.2 .4 .4 .3-.7 .4 1.2 .4-.2 .3-.2 .8 .6 .3 .2 .7 .4 .4-.1 .4 .5 .3-.8 .4 .9 .4-1.5 .3 .2 .8 1 .3 .2 .4-.7 .3 .5 .4-.1 .4 .6 .3-.7 .4 .9 .4-.3 .3 .8 .8-.8 .3 .5 .4 0 .3-.5 .4 .4 .4-.5 .3 1.7 .4-1.3 .4 .1 .3 .9 .7-.9 .4 .9 .7-.7 .4 .5 .4-.3 .3 .6 .4-.5 .4-.3 .3 .4 .4 1.2 .3-1.3 .4 .4 .4 .4 .3-.9 .4 1.4 .4-1.6 .3 1.2 .4-.9 .4 .8 .3 .6 .7-.6 .4-.1 .4-.1 .3 .9 .4-.5 .4-.1 .3 .5 .4 .4 .4 .1 .3-.7 .7 .9 .4 .3 .4-1.1 .3 1.3 .4-.6 .7 1 .4-.8 .3 .2 .4-.6 .4-.3 .3 1.2 .4-.5 .7 .9 .4 .2 .4-1 .3 1 .4-.1 .3 .2 .4 0 .4 .3 .3-.6 .4-.1 .7 1.3 .4-.6 .4 .8 .3-.4 .4-.7 .3-.4 .4 .9 .4 .7 .3-.8 .4 1.4 .7-1.5 .4 .4 .7 1.2 .4-1.1 .3 .5 .4 .3 .4-.4 .3 .5 .4 .6 .4-1.1 .3 .7 .4 .2 .3 .2 .4-.7 .4 .6 .3-.6 .4 .4 .4-.5 .3 .7 .4 .2 .4 .6 .3-.3 .4-.8 .3-1 .4 2 .4-.1 .7-.5 .4 .5 .3-.3 .4 .8 .7-1 .4-.2 .7 .9 .4-.3 .3-.2 .4 .3 .4 .6 .3-.4 .4-.3 .7 1.2 .4-.8 .3 .1 .4-.2 .4 .4 .3 .4 .4 0 .4 .3 .3 0 .4-.1 .3 0 .4-.7 .4 1.1 .3-.5 .4 .3 .4-.8 .7 .9 .4-.5 .3 .4 .4 .3 .3-.9 .4 .4 .4-.4 .7 .5 .4 .4 .3 .6 .4-.8 .4 .3 .3-.2 .4 .4 .7 .5 .4-.7 .3-.2 .4 .7 .4-.3 .3-.3 .4 1 .3-.2 .4 .4 .4-.9 .7 .8 .4 .5 .7-1 .4 .6 .3 .1 .4-.4 .3 .8 .4-.5 .4-.2 .7 .7 .4-.4 .7 .3 .4-.2 .7 .6 .3 0 .4-.5 .4-.2 .3-.1 .4 1 .4-.8 .7 .6 .4-.2 .7-.5 .3 1.3 .4-.7 .4 .4 .3 .1 .4-.6 .4 .2 .3 .8 .4-.2 .3-.2 .4 .8 .4-1 .3 .4 .4 0 .4-.1 .3-.6 .4 .9 .4 .2 .3-.9 .4 1 .3 .1 .4 .4 .4-1 .3 .4 .4-.1 .4 .2 .7 .5 .4 0 .3-.5 .4 .2 .3-.6 .4 1.1 .4-.1 .3 .3 .4-1 .4 1.1 .7-1.1 .4 .8 .3-.4 .4 1.3 .3-.7 .4 .6 .4-.8 .3 .2 .4 .3 .4-.7 .7 .7 .3 .1 .4 .4 .4-.5 .3-1 .4 1.3 .4-.4 .3 .4 .4-.5 .4 .2 .7 1 .3-.5 .4-.7 .4 .7 .3-.4 .8 1.2 .3-1 .4 .1 .4 .5 .7-.4 .3 .5 .4-.4 .4 .3 .3 .9 .4-.9 .4 .2 .3 .2 .4-.5 .3 .4 .8-.6 .3 .4 .4 .8 .4-.3 .3-.7 .8 .8 .3-.3 .4-.2 .3 .1 .4-.1 .4 .7 .3-.3 .4 .1 .4-.1 .3 .9 .4-.8 .4 .6 .3-1.2 .4-.1 .3 0 .8 1 .3-.6 .4 .5 .4-.3 .3 .7 .8-.5 .3-.6 .4 .8 .3-1 .4-.2 .4 1.8 .3-.5 .4 .5 .4-.4 .3 .2 .7-.6 .4 0 .4 .4 .3 .1 .4 0 .4 0 .3-.2 .4 .3 .4-.2 .3 .8 .7-1.3 .4 .8 .4 .7 .3-1.2 .8 1.9 .3-1.1 .4-.4 .4 .1 .3-.3 .7 .5 .4 1 .4-.4 .3-.5 .4-.2 .4 .8 .3-.2 .4-.5 .4 1.1 .3 .1 .7-1 .4 .4 .4 .8 .3-1 .4 .6 .4-.8 .3 .3 .7-.3 .4 .6 .7-.8 .4 .4 .4-.3 .3 .8 .4-.6 .4 .3 .3 .6 .4-.4 .3 .2 .4 0 .7-.6 .4 .6 .4-.2 .3 .7 .8-1.1 .3 .2 .7 .6 .4 .2 .4-.3 .3 .5 .4 0 .4-.9 .3 .8 .4-1.2 .4 1.5 .3-.8 .4 .7 .3-.6 .4 .6 .4-.5 .3 .1 .4 .2 .4-.4 .3-.4 .4 .9 .3-.6 .4 .4 .4 0 .3-.9 .4 1.9 .4-.6 .3 .5 .4-.6 .4-.1 .3-1.7 .4 1.5 .3-.6 .4 .2 .4 .8 .3-.4 .4-.5 .7 .7 .4-.1 .4 .9 .3-.3 .7-.5 .4 .6 .7-.3 .4 0 .4-.3 .3 .3 .4 0 .3 .7 .4-.2 .4-.6 .3 .9 .4-.8 .7 .5 .4-.6 .7 .7 .4-.1 .3-.3 .4-1.1 .4 2.1 .3-.9 .4 .1 .4-.5 .3 .6 .4 1 .4-1.7 .3 1.1 .4-.4 .3 .6 .4-.1 .7-.9 .4 .1 .4 .6 .3-.4 .4 .4 .7-.2 .4-.2 .3 .5 .4-.2 .4-.1 .3 .1 .4 .4 .4-1.1 .3 1 .4-.5 .3 .2 .4-.4 .4 1.5 .3-1.8 .4 1 .4 .5 .3-.6 .4-1 .7 1.6 .4-.3 .3-.8 .4 1.3 .4-.6 .3 .1 .4-1.1 .4 1.1 .3-.6 .4 .8 .4 .1 .3-.8 .4 .2 .3 1.1 .4-1 .4 0 .3 .6 .4-.4 .4 0 .3 .4 .4 0 .4 .1 .3-.2 .4 .5 .3-.5 .4 .6 .4-.7 .7 .6 .4-.8 .3-.5 .4 .3 .3 1.2 .4-1.2 .4 .5 .7 .4 .4-.2 .3-.6 .4 .4 .4 .4 .3 .2 .4-.1 .7-1 .4 1.3 .3-.4 .4 .1 .4 .2 .7-.5 .4 .9 .3-.2 .4-.9 .3 .4 .4-.1 .4 .5 .7-.4 .4 .4 .3 .3 .4-.5 .4-.3 .3 .8 .4-.9 .7 .9 .4-.3 .3 0 .4-.3 .4 0 .7 1 .3-1.1 .4 .5 .4-.2 .3 .1 .4-.5 .4 1.2 .3-1 .4 .9 .4-.7 .3-.2 .4 1.2 .3-.8 .4 .4 .4 0 .3-.1 .4 .5 .4-.1 .7-.7 .4 .6 .3 .4 .4-1.6 .3 .6 .4 .3 .4 .6 .7-.5 .4 .6 .3-1.1 .4 .6 .3-.1 .4 .7 .4 0 .3-.1 .4-.4 .4 .2 .3 .1 .4-.3 .4 .1 .3-.5 .4 .7 .3 .4 .8-1 .3 .9 .4-.3 .4 .2 .3-.3 .4 .1 .4 .5 .7-.7 .3 0 .8 .1 .3 .6 .4 0 .4-.5 .3 .9 .4-.5 .4 .9 .3-.7 .4 .2 .3 .3 .4-.8 .4 .6 .3-.1 .4-.1 .4 .3 .3-.9 .4 .8 .3-.2 .4 .6 .4-.3 .3 0 .8 .1 .3-.2 .4-.6 .4 .7 .7 .2 .3-1.2 .8 .9 .3-.1 .4 .7 .4-.2 .3-.2 .4 .1 .4 .5 .7-.6 .3 .1 .4 1.1 .4-.9 .3-.5 .4 .9 .4-.4 .3 .8 .4-1 .4 .9 .3 .1 .4-.4 .3-1.1 .8 1.6 .3-.7 .4 .1 .4-.6 .3 1.3 .4 .2 .3-.5 .4-.3 .4 0 .3-.2 .4 1.1 .4-.2 .3-.3 .4-.4 .4 .2 .3 .4 .4 .3 .3-.8 .4 0 .4-.8 .3 1.3 .4-.7 .4 1.2 .3-.2 .4 .1 .4-.1 .3 .2 .4-.1 .3-.2 .4 .2 .4-.4 .3 .3 .8-.6 .3 .5 .8 .2 .3 0 .4-.2 .3 .7 .8-1 .3 .2 .8 1.2 .3-.4 .7-.5 .4 .4 .4 .1 .3-.7 .4 .9 .4-.7 .3 .1 .4 1 .4-.7 .3 .4 .7 .6 .4-.1 .4-.8 .3 .4 .4-.3 .4 .6 .3-.3 .8 .6 .3 .1 .4-.9 .3 .2 .4 .4 .4-.3 .3-.3 .4-.5 .4 1.2 .3-.6 .4-.6 .4 .9 .3-.6 .4 1.8 .3-1.7 .4 .6 .4 .9 .3-1.2 .8-.1 .3 0 .7 .9 .4-.1 .7-.3 .4 .4 .4-.2 .3-.4 .4 .3 .4-.8 .3 0 .4 1.5 .3-.2 .4 .3 .7-.7 .4 .7 .4 0 .3-.3 .4-.5 .4 .6 .3 0 .4-.6 .3 .3 .4 0 .4-.2 .3 .9 .4-.5 .4 .3 .3-.7 .7 1 .4-1 .4 1.1 .3-1 .4 .4 .7 .6 .4-.3 .4-.1 .3 .3 .4-.5 .3 .8 .4-.5 .7 .8 .4-.9 .7 1.2 .4-.8 .4-.1 .3-.5 .4 .6 .3-.8 .4 0 .4 .2 .3-.1 .4 .4 .4 .5 .3-.6 .4-.1 .4 .4 .3 .2 .4 .6 .3-1 .4 .2 .4 .7 .3-.6 .4-.3 .4 .4 .3-.4 .4 .1 .3 1 .4-.5 .7-.5 .4-.2 .4 1.4 .3-.8 .4-.3 .7-.4 .4 1.2 .3-.3 .4 .3 .4-.8 .3 1 .4-1.1 .7 .3 .4 1.2 .7-1.3 .4 1 .3-.5 .4-.1 .4-.4 .3 .3 .4 0 .4 .3 .3-.2 .4 .1 .4-.4 .3 .5 .4-.6 .3 1.2 .4-1.2 .4 .6 .3-.6 .4 .5 .7-.6 .4 .9 .3-.3 .4 .2 .4-.2 .3 .8 .4-.6 .7 .3 .4-.3 .4 .6 .3-1.3 .4 .5 .3-.7 .4 1.3 .4 .1 .3-.6 .4 .8 .4-.8 .3 .4 .4-.1 .4-.3 .3 .1 .4-.8 .7 1.4 .4-.9 .3 1 .4-.6 .4 .6 .3-.2 .4-.9 .7 .8 .4 0 .7-.9 .4 1.2 .3 0 .4-.8 .4 1 .3-.5 .4-.7 .7 .7 .4 .2 .3 .1 .4-.2 .4-.3 .3-.5 .4 .2 .4 .6 .3 .1 .4-.6 .3 1.1 .4-.6 .4 0 .3 .3 .4 0 .4-.6 .3 .9 .4-.3 .4-.1 .3-.4 .4 .7 .3-1.1 .4 .6 .4 0 .7 .2 .4 .2 .3-1 .4 .5 .3 .1 .4-.5 .4 .8 .3-.6 .4 .3 .4 .4 .3-.7 .4 1 .4-1 .3 .7 .4-.5 .3-.5 .4 .4 .4 .5 .3-.2 .4 .1 .4 .4 .7-.5 .4-.2 .3 1 .4-.8 .3-.2 .4 .2 .4 .5 .3-.9 .4 1 .4-.8 .3-.4 .4 1.6 .4-1 .3-.1 .4 .1 .3 .4 .4-.2 .4 .5 .7-.8 .4 .5 .3 .1 .4-.2 .3-.2 .4 0 .4 .1 .3-.1 .4 .6 .4 .7 .7-1.8 .4 1.2 .7-.7 .3-.3 .4 .1 .4-.2 .3 .6 .4-.2 .4 0 .3 .3 .4-.7 .4 .3 .3-.2 .4 .6 .3-.6 .4 .9 .4-.6 .3 1.3 .4-.7 .4-.7 .3 .5 .4-.3 .4 .8 .3-1.3 .4 .4 .3 .2 .4-.1 .4 0 .3-.5 .4 .6 .4 .7 .7-1.2 .3 .3 .4 .5 .4-.5 .3 .2 .4-.2 .4 1 .3-.3 .4-.7 .4 .4 .7-.9 .3 1 .4-.3 .4 .4 .3 0 .4-.2 .4 .6 .3 .3 .4-1.5 .4 .6 .3-.5 .4 .4 .3 0 .8-.2 .3 .8 .4-1 .4 .9 .3-.5 .4-1 .4 1.1 .3-.7 .4 .9 .3-.4 .4 .2 .4-.1 .3 .5 .4 .1 .4-.6 .3 .9 .4-.4 .3-.6 .8 .7 .3 .1 .4-.6 .4 .3 .3-.2 .4 .1 .4-.9 .3 1 .4 .7 .3-.9 .4 0 .4 0 .3 .7 .4-1.1 .4 .5 .3 0 .4 .7 .4-.9 .3 .2 .4-.6 .3 .8 .4 .3 .4-.6 .3 .5 .4-.6 .4 .7 .3-.4 .4 0 .4-.1 .3 .3 .4 .1 .3-.3 .4 .2 .4-.3 .3 .2 .4 .8 .4-.9 .3-.6 .4 .4 .3-.1 .4 .1 .4 .4 .3 .4 .8-1.1 .3 .3 .8 0 .3 .2 .4-.1 .3 .1 .4-.1 .4 .5 .3-.1 .4-.5 .4 .4 .3 .9 .4-1.1 .4 1 .3-1.8 .7 .6 .4 .6 .4 .2 .3-.4 .4-.1 .4 .3 .3-.4 .4-.2 .3 0 .4 .7 .4 .5 .3-.9 .4 .3 .4-.5 .3-.5 .8 .6 .3-.3 .4-.3 .3 .7 .4-.1 .4-.2 .3 .4 .4 .2 .4 .1 .3-.3 .4 .2 .4-.6 .3 .5 .4-.7 .3 .1 .4 1 .4-1 .3 .7 .4-.8 .4 .4 .3 .2 .4-.3 .4 .6 .3-.4 .4 0 .3 .2 .4-.2 .4 .6 .3-.7 .4 .8 .4-.8 .3 0 .4 0 .3 .5 .4-1.5 .4 1.4 .3-.2 .4 .4 .4-.9 .3 .8 .4-.6 .4 .8 .3-.5 .4 .2 .3-.5 .4 .5 .4 .3 .3-.6 .4 .7 .7-.8 .4 1.1 .4-1.1 .3 .5 .4 .2 .3-.5 .4-.1 .4 .5 .3-.2 .4-.4 .7 .4 .4 .3 .4 .1 .3-.2 .4-.5 .3 0 .4 .1 .4-.4 .3 .7 .4 0 .4 0 .3-.9 .4 1.7 .3-1 .4-.1 .4 .2 .3-1 .4 .5 .7 .9 .4-.6 .4 .4 .3-.2 .4-.1 .3 .3 .4-.4 .4-.4 .3 .2 .4 .4 .4 .9 .3-1.3 .4 0 .7 .7 .4-.5 .3 .6 .4-.7 .4 .8 .3 0 .4-.4 .4 .6 .3-.6 .4-.2 .4 .7 .3-.9 .4 .6 .3-.4 .4 .1 .7 .3 .4 .5 .4-.4 .3 .1 .4-1 .7 1.2 .4-.9 .3 .3 .4 .2 .7-.5 .4 .6 .7-.3 .4 .5 .3-.5 .4 .1 .4 .3 .3 0 .4-.4 .4-.3 .3 .3 .4 .5 .4-.7 .3 .2 .4-.1 .3-.3 .4 .9 .4-.3 .7 .3 .4-1.2 .3 .4 .4 1.2 .3-.9 .4 .4 .4-.7 .7 .5 .4-.1 .3-.1 .4 .2 .4 .1 .3-.1 .4-.2 .3 .7 .4-.5 .4 0 .3 .2 .4-.5 .4 .8 .3-.3 .4 .2 .4-.6 .3 .4 .4-.2 .3-.1 .4 .8 .4-.9 .3 .5 .4-.2 .4 0 .3-.4 .4 0 .4-.4 .3 .7 .4 .3 .3 0 .4-.5 .4-.4 .7 .9 .4-.3 .7 .1 .3 .3 .4 .8 .4-.9 .3-.6 .4 .3 .4 1 .3-.9 .4 .8 .4-1.6 .7 1.3 .3-.8 .4 .7 .4-.6 .7 .7 .4-.7 .3 .8 .4-1.1 .4 .5 .7 .8 .3-1.4 .4 .1 .4 1.1 .3-1.2 .4 .6 .4 .2 .3-.1 .4 .1 .4-.7 .7 1.4 .3-1.6 .4 .5 .4 .8 .3-.3 .4 .2 .4-.4 .3-.1 .4 0 .3 .4 .4 .1 .4-.7 .3 .4 .4-1 .4 1.3 .3-.7 .4 .4 .4 .3 .3-.9 .4 .5 .3 .5 .8-.8 .3 .9 .4-1.1 .4 .3 .3 .4 .4-.6 .4-.2 .7 .7 .3-.7 .8 1.1 .3-.3 .4 0 .4 .1 .3 .5 .4-1 .4 .3 .7-.5 .3 .8 .8-.3 .3 .3 .4-.2 .4-.3 .3 .3 .4-.6 .3 .9 .4-.4 .4 .7 .3-.5 .4 .2 .4-.9 .3 .3 .4 .1 .4-.5 .7 .4 .3 .6 .4 .3 .4-.5 .3 .1 .4 .1 .4-.1 .3 .5 .4-1.3 .4 1.1 .7-.7 .3 1 .8-1.1 .3 .5 .4 .3 .4-.2 .3 .6 .4-1.4 .3 .6 .8 .4 .3-.6 .4-.4 .4 1.1 .3-.2 .4 .5 .4-1.1 .3 .3 .4-.9 .3 1 .8 .2 .3-.6 .4 1 .4-1 .3 .2 .8 .5 .3-.8 .4-.3 .3 1 .8-1 .3 1 .4-.1 .4 .4 .3-.4 .4-.1 .4 .2 .3 .1 .4 .4 .3-.1 .8-.9 .3 .5 .4 .2 .4-.7 .3 .1 .4 .5 .3 0 .4-.5 .4 .1 .3 .5 .4-.5 .4 .2 .3-.5 .4 .8 .4-.7 .3 .2 .4 .6 .3-.9 .4 .1 .4 .9 .3-1.4 .4 1.4 .4-.1 .3-.3 .4-.4 .4 0 .3 .3 .4-.6 .3 .4 .4-.4 .4-.6 .3 1.1 .4 1.2 .4-.9 .3 .3 .4-.5 .4 0 .3 .6 .7-.5 .4 0 .4 1.1 .3-1.6 .8 .5 .3-.2 .4 .6 .3-.4 .4-.5 .4 0 .3 .3 .4 .3 .4 .2 .3-.9 .8 .8 .3 .7 .4-.5 .3 .4 .4-1.3 .7 .8 .4-.2 .4-1.2 .3 .6 .4 1.1 .4-.5 .3 .5 .4 .2 .3-.8 .4-1 .7 1 .4 .2 .4-.2 .3-.4 .8 1.3 .3-1.7 .4 .7 .3-.5 .4 .6 .4-.6 .3 .9 .4-.4 .4-.5 .3 .2 .4 .7 .3-.6 .4 .7 .4 .3 .3-.8 .4-.4 .7 1.2 .4-1 .4 .1 .3 .5 .4 .9 .3-1.5 .4 0 .7 1.2 .4-.1 .4-1.1 .3 .1 .4 .1 .4 .3 .3-.2 .4 .4 .3-.1 .4 .2 .4-.5 .3 .3 .4-.6 .7 .8 .4-1.1 .3 1.3 .4-.7 .7-.4 .4 1.6 .7-1.6 .4 0 .4 1.6 .3-.7 .4-.3 .3 .2 .4-.8 .4 .9 .3-.8 .4 .3 .4 .9 .3-.2 .4-.3 .7-.6 .4 .5 .3-.5 .4 1.1 .4 .7 .3-1.2 .4-.4 .7 .7 .4-.6 .4-.7 .3 .9 .4 .3 .3 0 .4-1.2 .4 .9 .3-.3 .4-.3 .7 1 .4-.8 .7 .2 .4-.3 .3 .7 .4-.2 .4 .2 .3-.5 .4 .6 .4-.5 .3 .7 .4-.4 .3 .1 .4-.1 .4-.1 .3 .1 .4 0 .4 .8 .3-1.4 .4 .8 .4-.2 .3 .3 .4-.8 .3 .8 .4-.6 .4-.3 .3-.2 .4 .2 .4 .3 .3 .8 .4-1.1 .7 .2 .4 0 .7 .6 .4-.7 .3-.1 .4 1 .4-.8 .3 .3 .4-.3 .3 .3 .4-.4 .4 0 .7 1.1 .4-1 .7 .9 .4-.8 .3 .9 .4-1 .3-.3 .4 .9 .4-.6 .3 .2 .4-.1 .4 .9 .3-.8 .4 .2 .4-.3 .3 .3 .4-.4 .3 .3 .4-.2 .4-.3 .3 .6 .4-.4 .4 .4 .3-.2 .4 .5 .4-.6 .3-.2 .4 .6 .3-.4 .4 .2 .4 .7 .7-1.1 .4 .8 .3 .6 .4-.9 .3 .4 .4-1.1 .4 .8 .3 0 .4 .3 .4-.4 .7 .5 .4-.4 .3 .4 .4-1 .3 1.1 .4-.5 .4 .3 .3 .3 .4-1.3 .4 1.6 .3-1.5 .4 1.2 .4-.6 .3-1 .4 2 .3-.4 .4-1.1 .4 .5 .3 .3 .4-.2 .4 .4 .7-1.1 .4 .8 .7-.7 .3-.3 .4 1.1 .4-.4 .7 .5 .4-.2 .7 .6 .3 .1 .8-.9 .3-.4 .4 .7 .4-.1 .7-.4 .4 .4 .7-.9 .3 1 .8 .5 .3-.9 .4 .3 .4-.9 .3 1 .4-.5 .4-.1 .3-.3 .4 1.3 .3-1.2 .8 .7 .3 .1 .4 0 .4 0 .3 .9 .4-1.3 .3 .2 .4 .5 .4-.4 .3-1 .8 1.1 .3-.9 .4 1.1 .4-.3 .3 .2 .4-.1 .3-.4 .8 .6 .3-.3 .4 0 .4 .2 .3-.2 .4 .3 .4 0 .3-.3 .4 .5 .3-.7 .8 .6 .3-.1 .8-.2 .3-.1 .4 .1 .4 .3 .3-1 .4 .2 .3 .4 .4-.4 .4 .3 .3 .3 .8-1.3 .3 .7 .4 0 .3 .6 .8-1.1 .3 .8 .8-.4 .3 .3 .4-.4 .4 .6 .3-.1 .4 .4 .3-1.4 .8 1.1 .3-.5 .4 .8 .4-.2 .3 .3 .4-.3 .4 .2 .3-.4 .4 .3 .3 .2 .8-.2 .3 .1 .4-.6 .4 .1 .3 .3 .4 .5 .4-.7 .3 .8 .4-.7 .3 .1 .8 .4 .3-.1 .4-1.1 .4 .9 .3 0 .4-.5 .3 .3 .4-.3 .4 1 .3-.1 .4-1.9 .4 1.5 .3 .1 .8-.6 .3 1 .4-.7 .3 .2 .4-.3 .4 .2 .3 .3 .8 .8 .3-1.4 .4 1 .4-.4 .3-.9 .4 .9 .3-.5 .4 .4 .4-.4 .3 .3 .4 .2 .4-.8 .3 .7 .4 .5 .4-.5 .3-.3 .4 .7 .3-.8 .4 0 .4-.6 .3 1.2 .4-.6 .4 1 .3-.5 .7-.3 .4 .2 .7 .2 .4-.1 .4-.3 .3-.1 .8-.2 .3-.1 .4 1.3 .3-.5 .4-.2 .4 .2 .3-.7 .4 .1 .4 .4 .3-.1 .4-.5 .4 .7 .3 0 .4-.5 .3 .2 .4-.4 .4 .4 .3-.1 .4 .5 .4 .2 .3-.4 .4 1.1 .3-1.3 .4-.2 .7 .5 .4-.6 .4 .5 .3-.4 .4-.5 .4 .6 .3-.1 .7 .3 .4 0 .4 .1 .3-.4 .4 1.1 .7-1 .4 .7 .4-.3 .3 .2 .7-.6 .4-.3 .7 .9 .4-.4 .7-.4 .4 1.5 .4-1.1 .3 .9 .4-1 .3 .1 .4-.1 .4-.1 .3 .2 .4 .4 .7-.7 .4 .5 .3 0 .4 .5 .4-1 .3 .7 .4 .1 .4-.1 .3 .2 .4-.3 .4-.6 .3 .2 .4-.3 .3 0 .4 1 .7-1 .4-.4 .7 1.6 .4-.8 .7 .6 .4-.5 .3 .5 .4 .6 .7-1 .4-.2 .4-.2 .3 .4 .4 .1 .7 .6 .4-.5 .3-.6 .4 .2 .4-.6 .3 .9 .4 .7 .7-1.2 .4 1 .3 .1 .4-.7 .4-.2 .3 .7 .4-.3 .7 .4 .4 0 .4-.6 .3 .2 .4 .2 .3 .8 .4-1.9 .4 1.2 .3-.4 .4 .5 .4-.7 .3 .8 .4-.6 .4 .1 .3-.5 .4 .9 .7-.4 .4-1 .3 1.5 .4-.7 .4 .4 .3-.4 .4-.2 .4 .3 .3-.1 .4 0 .3 .4 .4-.2 .4 .6 .3-.5 .4 .2 .4-.3 .3-.4 .4 .2 .7-.3 .4 1.5 .3-1.2 .4 .2 .4 0 .3 .5 .4-.8 .4-.2 .3 0 .4 .5 .7-.4 .4-.4 .7 .7 .4 0 .7 0 .4 .3 .3-.5 .4 .6 .3 0 .4-.5 .4 .4 .3-.1 .4 .8 .4-1.2 .7 .3 .4-.2 .3 .1 .4 .4 .3-1.1 .4 1 .4-.6 .3-.4 .4 1.1 .4-.3 .3 .4 .4-.8 .3 .6 .4 .3 .4-1 .7 .9 .4-.9 .3 .4 .4-1 .4 .4 .3 1 .4-.2 .3 .3 .4-.4 .4 0 .3-.3 .4 .3 .4 .7 .7-1.3 .4 .2 .3 .5 .4 0 .3 0 .4-.1 .4 .8 .3-1.1 .4 .6 .4-.3 .3 1.1 .4-1.1 .3-.5 .4 1.5 .4-1.6 .3 .5 .4 .5 .4 .4 .3-1.2 .4 .4 .4-.2 .7 .6 .3-.7 .4 .8 .4-.8 .3 1.1 .4-.3 .4 .2 .3-1.2 .4 1.3 .4-.2 .3-.8 .4 .2 .3-.8 .8 .6 .3 0 .4 1.1 .4-.4 .7-.3 .4 .5 .7-.2 .3-.8 .8 .6 .3-.1 .4-.2 .4 .4 .3-.2 .4 .7 .3-1 .4-.2 .4 .3 .3-.1 .4 .1 .4-.7 .3 .8 .4 .6 .4-.1 .7-.9 .3 .1 .4 0 .4 .3 .3 .7 .4-.3 .4 .4 .3-.6 .4 .4 .4-.6 .7 .9 .3-1.1 .4 0 .4 .9 .3-.7 .4-.2 .4 .4 .3-.5 .4 .3 .4-.4 .7 .6 .3-.3 .4-.1 .4 .2 .3 .3 .4 .1 .4-.1 .3 0 .4-.3 .3 0 .4 .1 .4 0 .3-.1 .4-.6 .4 .2 .3 .8 .4-.5 .4 .4 .3-.1 .4 0 .3 .2 .8 .8 .3-1.2 .4-.4 .4 .9 .3-.6 .4 .4 .4-.3 .3 .5 .4-.3 .3 0 .4 1 .4-1.1 .3 .1 .4 1 .4-1.3 .3 .3 .8-.2 .3 .3 .4 .3 .3-.2 .8-1.2 .3 .2 .4 1 .4-.1 .3-.3 .4-.1 .3 .6 .4 .1 .4-1.3 .3 .4 .8 1.2 .3-.4 .8-.5 .3 .3 .4 .6 .3-.8 .4-.2 .4 .3 .3 .2 .4-.4 .4 .2 .3 .5 .4-.5 .4 .6 .3-1 .7 .8 .4-.5 .4-.4 .3 1.4 .8-1.6 .3 1.4 .4-.6 .3 .5 .4-.5 .4 1 .3-.4 .4-.4 .4-.3 .3-.1 .8-.4 .3 .2 .4 0 .3 .8 .4-.4 .4-1.4 .3 .4 .4 .6 .4 0 .3-.1 .4 .6 .4-1 .3 1 .7-1.1 .4 1.9 .4-1.1 .3 .9 .4-.5 .4-.2 .3 .1 .4-.2 .4 .4 .3-.3 .4 .5 .3-.4 .4 .5 .4-.9 .3 .8 .4-.8 .4 .5 .3-.1 .4-.6 .3 .4 .4 .9 .4-1 .3 1.5 .4-1.4 .7 .7 .4-.6 .4 .1 .3-1 .4 1.1 .3-1.1 .4 .3 .7 1 .4-1 .4 .7 .3-.2 .4 .2 .4 .4 .3-.3 .7 .5 .4-.6 .4-.9 .3 .1 .4 .7 .7-.2 .4-.4 .4 .5 .3 .3 .7-.7 .4-.6 .7 2 .4-1.2 .4 .4 .3-.1 .4-.5 .3 .5 .4 .6 .4 .3 .3-.8 .4 .4 .4-.6 .3 .7 .4-.4 .4 .5 .3-.5 .4 0 .3-.4 .4-.3 .7 .9 .4-1.2 .4 .7 .3-.1 .4 0 .4-.4 .3 .2 .4 .2 .3-.1 .4 .7 .7-.3 .4-.1 .4 .1 .3-.2 .4 .2 .7 .7 .4-1.1 .3 .1 .4 .7 .4-.6 .3 0 .4 .1 .4 .9 .3-.3 .4-.3 .3-.9 .4 1.1 .4-.3 .3 .4 .4-.3 .4-.4 .3 1.1 .4 .3 .4-1.5 .3 .3 .4 .3 .3-.7 .4 0 .4 1.3 .7-1.4 .4 .8 .3-.2 .4-.5 .7 .9 .4-.2 .3 .3 .4-.8 .4 1 .3-1.2 .4 1.1 .4-.7 .3 .7 .4-.5 .7-.7 .4-.1 .3 .7 .4-.1 .4-.1 .3-.2 .4 .5 .4-.7 .3 .4 .4-.4 .3 .3 .4-.1 .4 .7 .3-.2 .4 .4 .4-.4 .7-.5 .4 .9 .3-2 .4 1.5 .3-.6 .4 .1 .4 1.6 .7-1.8 .4 1.7 .3-1.4 .4 .8 .4-.2 .3-.3 .4 .9 .3-.9 .4 .3 .4 .1 .7-1.9 .4 1.4 .3-.1 .4 .3 .3 .3 .4-.5 .4-.5 .3 .6 .4-.3 .4 .5 .3-1.3 .4 1.9 .4-1 .7 .2 .3 .6 .4 0 .4-.4 .3-.2 .4 .6 .4 0 .7-1 .4 .7 .7 .1 .3-1.4 .4 .9 .4 .2 .7-1 .4 .5 .3 1.1 .4-.6 .4 .2 .3 0 .4 .3 .3-.3 .4 .3 .4-.6 .7 .7 .4 .2 .7-1.1 .3 .1 .8 1.7 .3-1.3 .4 .1 .4-.1 .3 .4 .4-.4 .4 .1 .3-1.5 .4 .9 .3 .4 .4-.1 .4 .1 .3-.2 .4 .3 .4-.2 .3-.4 .4 .1 .4 .2 .3-.5 .4 .5 .3 .6 .4 .3 .4-.5 .3-.2 .4-.2 .4-.3 .7 .8 .4-.7 .3-.2 .4 .8 .3-.4 .4-.5 .4 .5 .3 .2 .4 .9 .4-1.5 .7 .5 .3 .3 .4 .3 .4-.5 .3 0 .4-.5 .4 1 .3-1.2 .4 .6 .4-.5 .3 1 .4-.6 .3-.4 .8 1.2 .3-.5 .4-.4 .4 .9 .3 0 .4-.7 .4 .5 .3-.7 .4 .8 .3 .3 .8-1.5 .3 1.1 .8-.5 .3 .5 .4-.9 .3 .4 .4-.1 .4 .9 .3 .1 .4 .4 .4-1.1 .3 0 .8-.8 .3 .8 .4 0 .3-.3 .4-.5 .4 1.1 .3-.7 .8 .4 .3-.5 .8 .9 .3-.8 .4 .3 .3 .1 .8-.3 .3 .4 .4-.5 .4 .1 .3-.5 .8 .3 .3 .5 .4-.1 .3 .3 .4-1.6 .4 1.4 .3-.3 .4-.4 .4 1.2 .3-.2 .4-.2 .3 .3 .4 .1 .4-.3 .3-.9 .8 .6 .3 0 .4 .8 .4-1.1 .3 .1 .4 .7 .3-.6 .4 .2 .4 .2 .3 .2 .4-.2 .4 .2 .3-.7 .8 .1 .3 .2 .4 .1 .3-1.1 .4 1.8 .4-1.4 .3 .4 .8 .4 .3-.2 .8 .6 .3-.6 .4 .7 .3-1.1 .4-.1 .4 2 .3-.9 .4-.8 .4 .1 .3 0 .7-.3 .4 0 .4-.4 .3 .7 .4-.3 .4 1.1 .3-.7 .4 .5 .4-1.2 .3-.4 .7 1.6 .4-.5 .7-.1 .4-.4 .4 0 .3 1.6 .4-1.7 .4 .8 .3 0 .4-.9 .3 .8 .4 .5 .7-.6 .4-.4 .4-.3 .3 .8 .4 .1 .4-.9 .3 .9 .4-.9 .3 .6 .4 0 .4 .2 .3-.2 .4 .3 .4 .1 .3-.3 .4 .3 .3-.4 .4 .1 .4 .1 .3 0 .4 0 .4-.9 .3 .8 .4 .3 .4-.2 .3-.4 .4 .4 .3 0 .4 0 .7-.3 .4 0 .4 .9 .3-.2 .4 .7 .4-1.5 .3-.2 .4-.1 .3 .5 .4-.4 .7 .6 .4 .6 .7-.4 .4-.7 .4-.3 .3 .9 .4-.3 .3 0 .4 .5 .4 .4 .3-.4 .4 .3 .7-.6 .4 0 .3 0 .4-.3 .4 .6 .3-.8 .4 1.2 .7-.9 .4 .5 .4 .3 .3-.9 .4 .5 .3-.6 .4 0 .4 .3 .3 0 .4-.4 .7 .9 .4-.5 .4-.2 .3 .2 .4 0 .3 .1 .4 0 .7 .6 .4-1.1 .4 .7 .3-.3 .4 .7 .3-.7 .4 .4 .4-1.7 .3 1.8 .4 0 .7-.9 .4 1.4 .7-1.3 .4 .9 .3-.8 .4 .5 .4 .2 .3-.3 .4 .1 .4 .4 .3-1.6 .4 1.2 .4 .1 .3-.7 .4 .4 .3-.6 .4 .7 .4-.3 .3 .1 .4 0 .4 .2 .3-.1 .4-.8 .4 1.1 .3-.1 .4-.1 .3-.4 .4 .1 .4-.2 .3 1 .4-.7 .4 .2 .3 0 .4-.2 .3 1 .4-1 .4 0 .3 .7 .4-.6 .4-.7 .3 .9 .4-.5 .4 .4 .3 .3 .4 0 .7-1 .4 .2 .3 .7 .4-.7 .4 .5 .3 .2 .4-.5 .4 .6 .3 .3 .4-1.3 .3 1.4 .4-1 .4 .9 .3-.7 .4 .1 .4 .1 .3 .8 .4-.9 .4-.1 .3 .4 .4-.4 .3-.4 .4 .7 .4-.4 .3 .6 .4-.7 .4-.1 .3-.8 .4 .7 .3 .2 .4-.4 .4 1.1 .3-.9 .4 .7 .4 0 .3-.8 .4 .4 .4-.5 .3 1.3 .4-.8 .3 .4 .4-.2 .4 .8 .3-1.3 .4 .3 .4 .6 .3 .1 .4-.2 .4-1 .7 .8 .3-.4 .4 .2 .4-.1 .3-.2 .4 .2 .4-.2 .3 .9 .4-.6 .4 .2 .3-.2 .4 .1 .3 .2 .4-.1 .4-.6 .7 1 .4-.8 .3-.2 .4 .6 .3-.2 .4 .4 .4-.3 .3-.5 .4 .1 .4 .3 .7 .8 .4-.9 .7-.3 .3-.4 .4 .7 .4-.3 .3 .9 .4-1 .4 .2 .3-.2 .4 .3 .4 .1 .3-.5 .4 .9 .3-.5 .4-.2 .4 .8 .3 .2 .4-.7 .4 .1 .7-.2 .3 .6 .8-.8 .3 .6 .4 0 .4 .4 .3-.9 .4-.5 .4 1.5 .7-1 .3 .6 .4-.1 .4 .3 .3-.1 .8-.6 .3 .2 .4-.3 .4 .3 .3 .6 .4-1.2 .3 .2 .4 .8 .4-1.1 .3 .6 .4 .1 .4-.8 .3 2 .4-.4 .4-1 .7 .7 .3-1.1 .8 1.2 .3-.2 .8-1.1 .3 1.7 .4-1 .3 .3 .4 .5 .4-.6 .3 .6 .8-1.4 .3 .5 .4-.1 .4 0 .3 .1 .4-.2 .3 .9 .8-.9 .3 .7 .8-.8 .3-.2 .8 1.1 .3-.7 .4 .2 .3 .4 .4-.6 .4 .1 .3 .2 .4-1.3 .4 .7 .3 .2 .8-.9 .3 .8 .4 .8 .3-.4 .8 .4 .3-.4 .8 .1 .3 .2 .4-.5 .3 1 .4-1 .4 .3 .3-.1 .4 1.1 .4-1.7 .3 1.5 .8-1.1 .3 .6 .4-.1 .3 .8 .4-.8 .4-.3 .3-.2 .4 .4 .4-.2 .3-.1 .8 .6 .3-1.2 .4 1.2 .3-.9 .4 .5 .4-.6 .3 .9 .4-.5 .4 .1 .3 .2 .4-.2 .4 .5 .3-.3 .4 .1 .3-.5 .4 .4 .4 .5 .3-.4 .4-.1 .4 .3 .3-.9 .4 .4 .3-.2 .4 .7 .7-.8 .4 1.1 .4-.8 .3 .1 .4 .3 .4-.3 .3 .5 .4-.5 .3 .6 .4 0 .4-1.2 .3 1 .4 .6 .4-1.4 .3 .8 .4 1.2 .4-1.5 .3-.4 .4 .2 .3-.6 .4 .8 .4-.3 .3 .7 .4-.5 .4-.6 .3 .4 .8 1.1 .3-.7 .4 .4 .3-.9 .4 .7 .4-.5 .3 .6 .4-1.3 .4 1.4 .3-.6 .4-1.1 .3 1.1 .4 .5 .7-.9 .4 .1 .4 1.2 .3-.9 .4 1 .4-1.8 .3 .8 .4 .3 .3-.5 .4 .1 .4 .7 .3-1.2 .4 .8 .4 .7 .3-1.4 .4-.1 .4 .1 .3 .3 .4 .7 .3-.8 .4-.4 .4 .4 .3-.3 .4 1 .4-.8 .3 .1 .4 1 .3 .1 .4-.4 .7-.5 .4 .3 .4-.1 .3 0 .4 0 .4-.3 .3 .1 .4 .2 .3-.1 .4 .3 .4-.5 .3 .5 .4-.9 .4 .7 .3-.1 .4 .4 .7-.4 .4 .1 .3 .3 .4 .2 .7-.6 .4-.1 .4-.3 .3 .7 .4 .7 .4-.8 .3 .7 .4-.2 .3-1 .4 .2 .4 .5 .3 0 .4-.2 .4 .7 .3-1 .4 .4 .3-1 .4 1.3 .4-.9 .3 .7 .4-.7 .4 .9 .3-.8 .4 .5 .4 .2 .3-.3 .4-.3 .3 .1 .4-.6 .4 .4 .3 1.5 .4-1 .4 .7 .3-.7 .4-.4 .4 .8 .3 0 .4-.6 .3 .2 .4-.9 .4 .6 .7-.6 .4 1 .3-.3 .4 .5 .7-.9 .4-.2 .7 1 .4 0 .3 .3 .4-.7 .4-.6 .3 1.7 .4-.1 .3-1.6 .4 1.4 .4-.9 .3 .7 .4-.9 .4 0 .3 .3 .4-.3 .4 .3 .3-.2 .4-.6 .7 1.1 .4 .1 .7-.2 .4-.2 .3 .3 .4-.5 .4 .2 .3-.1 .4 .2 .3-.3 .4 .8 .4-1.2 .3 .5 .4 0 .4-.1 .3-.2 .4 .1 .4 .3 .3 .1 .4 .7 .3-.8 .4 .2 .4 0 .3-1.2 .4 1.9 .4-.9 .3-.5 .4 .1 .3-.1 .4 1.1 .4-.1 .3-.7 .4 .4 .4-.9 .7 .7 .4-.1 .3 .3 .4-.2 .3 .4 .4-.3 .4 .2 .3-.3 .4 .7 .4 0 .3-.8 .4 .1 .4 .5 .3-.3 .4 .4 .3-1.4 .4 1.6 .4-1.5 .3 1.2 .4-.6 .4 .3 .3 .1 .4-.6 .3 0 .8 .8 .3-1.3 .4 .3 .4 .5 .3 .2 .4-.2 .4 .1 .3-.5 .4 .9 .3-.4 .4 .3 .4-.9 .3-.2 .4 .8 .4-.2 .3-.4 .4 .7 .4 .3 .3-.9 .4 .3 .3 .3 .4-.7 .4 .5 .3 .9 .4-.9 .4 .1 .3-.8 .4 .8 .4 .1 .3-.3 .4 .1 .3 .7 .4-.6 .4 .2 .3-.8 .4-.4 .4 1.5 .7-.1 .3-.1 .4 0 .4-.3 .3-.5 .8 1.2 .3 .1 .4-1.3 .4-.1 .7 1.4 .3-.8 .4-.5 .4 .1 .3 .3 .4-.2 .4 .2 .3 .4 .4-1.1 .4 .8 .3 .5 .4-.3 .3 .5 .8-1.1 .3 1 .8-1.5 .3 .8 .4 .7 .4-.2 .3-.2 .4 .4 .3 0 .8-.5 .3-.3 .4 .8 .4-1.4 .3 .4 .4 .1 .3 .6 .4-1 .4 .9 .3-1 .8 1.3 .3-.2 .4-1.1 .4 .4 .3 .5 .4-.1 .3 0 .4 .4 .4-.3 .3 .3 .8-.5 .3 .6 .4-.8 .4 .3 .3-.3 .4 0 .3-.2 .4 .3 .4 0 .3 .3 .4-.3 .4 .7 .3-.3 .4-.5 .4 .4 .3-.2 .4 .6 .3-1 .4 .8 .4-.4 .3 .2 .4-.4 .4 .5 .3 .3 .4 .4 .3-.7 .4 .4 .4-.8 .3-.4 .4 1.7 .4-.4 .3-.8 .4-.4 .4 .5 .3-.1 .7-.1 .4-.4 .4 .4 .3 .8 .8-.6 .3 .5 .4-.3 .4 .1 .3 .1 .4-.6 .3 .5 .4 .3 .4-.2 .3-.3 .4-.9 .4 .8 .3-.6 .7 1.7 .4-1.2 .7 .8 .4-.1 .4-1.3 .3 1.5 .8-1.2 .3 .2 .4 1.1 .3-.7 .4 .1 .7-.5 .4 .6 .4-.1 .3-.8 .4 1.4 .4-.6 .3-.4 .4 .8 .3-.3 .4 .3 .4-.6 .3 .3 .4-.6 .4-.1 .3 .4 .4 .2 .4-.3 .3 .1 .4 .6 .3-1.1 .4 .4 .4-.2 .3 .9 .4-1 .4-.5 .3 .7 .4 .9 .3-.7 .4 .1 .4-.2 .3 .2 .4-.3 .4 .4 .3-.3 .4 .4 .4-.3 .3-.4 .4 .7 .3-.6 .4 .7 .7-.2 .4-.7 .4 .9 .3-.9 .4 1.2 .4-.6 .3-.5 .7 .9 .4 .1 .4-.9 .3 .9 .4-.8 .4 .5 .3-.2 .4-1.1 .4 .4 .3 .3 .4 1 .3-.8 .4 .1 .4 .1 .3-.6 .4 1.3 .4-.9 .3 .1 .4 .4 .3-1.1 .4 1.3 .7-.6 .4 1.1 .7-.6 .4-.8 .4-.1 .3 .2 .4 .2 .3 1.1 .4-1.1 .4 .3 .3-.7 .4-.1 .4-.4 .3 .7 .4-.1 .4 .8 .3-.5 .4 .6 .3-.9 .4 .9 .4-.4 .3 .3 .4-.2 .4-.4 .3 .4 .4-.3 .4 .5 .3-1 .4 .9 .3-.8 .4-.5 .4 2.1 .3-.7 .4-.3 .4-.6 .3 .7 .4-.4 .3 .5 .4-.6 .4 .8 .3-.9 .4 1.8 .7-2.2 .4 .7 .4 .5 .3-1.4 .4 .5 .3 0 .4 .7 .4-.5 .7 1.1 .4-1.1 .3 .4 .4-.7 .4 0 .3 .9 .4 0 .7-.6 .4 .5 .7-.5 .4 .1 .3-.3 .4 .4 .7 .9 .4-1.1 .7 .5 .4 0 .3 .5 .4-.5 .4 1 .3-1 .4 .2 .3-1.2 .4 .6 .4 .3 .7-.4 .4 .7 .3-.3 .4 .1 .4-1.3 .3 1.1 .4 .9 .7-2 .4 1.6 .3-2 .4 1.6 .4-.5 .3 .7 .4-.1 .4 .4 .3-.1 .4 .5 .3-1.5 .4 1.1 .4-.7 .7 .4 .4-.3 .7 .3 .3-.3 .4 0 .4 .5 .3 .2 .4-.3 .4-.4 .7-.6 .4 .5 .3-.3 .4 .4 .3-.4 .4 .4 .4-.1 .3 .3 .4-.1 .4-.9 .3 1.4 .4-.5 .4 .2 .7-1.1 .3 1 .4 1.1 .4-1.5 .7 1 .4-.6 .3-.1 .4 1 .4-1.3 .7 .2 .3 .6 .4-.2 .4 0 .3-.5 .4 .6 .4-1.1 .7 1.7 .3-1.8 .8 1 .3-.3 .4 .9 .4-.9 .3 1.2 .4-.6 .4-1.1 .7 .8 .3 .2 .4-.8 .4 .4 .3-.1 .4-.2 .4 .8 .3-.9 .4 1.4 .4-1.7 .3 1.4 .4-.4 .3 0 .8-.6 .3 .1 .4 0 .4 0 .7 1.1 .4 .2 .7-1.1 .3 .1 .8-.2 .3 .2 .4 .4 .4 .2 .3 .2 .4-1.4 .3 .1 .4 1.1 .4-.5 .3-.4 .4-.5 .4 1 .3-.4 .4-.4 .4 1.3 .7-.7 .3 .3 .4-1.3 .4 .5 .3 .3 .4 .6 .4-.9 .3 .1 .4 .6 .4-.1 .3 .5 .4-.6 .3-.5 .4 0 .4 .2 .3-.1 .4 .6 .4 0 .3-.8 .4 .3 .4 .6 .7-.7 .3 0 .8 .6 .3-.4 .4-.6 .4 .7 .3 .4 .4-.5 .3 .7 .4-.6 .4 .2 .3-.6 .4 .4 .4-.4 .3-.6 .8 1.4 .3-.5 .4 .2 .3-.1 .4 .3 .4-.5 .3 .2 .4 1.1 .4-.9 .3-.3 .4-.4 .4 .8 .3 .1 .4-.9 .3 .9 .8-.5 .3-.2 .8 .9 .3-1 .7 .7 .4-1.1 .4 .5 .3 .9 .8-.4 .3 .2 .4 .6 .4-1.3 .3 0 .7 .6 .4-.3 .4-.2 .3 .8 .4-.4 .4 .1 .3-.5 .8 .9 .3-.3 .4-1.1 .3 1.2 .4-.5 .4 .4 .3-.9 .8 .8 .3 .3 .8-.9 .3 .1 .4 .9 .3-1.3 .4 .8 .4 .4 .3-.6 .4 .4 .4 0 .3 0 .4-.2 .3 .1 .4 .6 .4-1 .3 .5 .4-.8 .4 .3 .3-.1 .4 .2 .4-.5 .3 .8 .4 .3 .3-.6 .4 1.4 .7-1.4 .4 .3 .4-.8 .3 .3 .8 .5 .3-.7 .4 .8 .3-.1 .4-.5 .4 .1 .3-.7 .4 1 .4 .8 .3-1.2 .4-.2 .4 .6 .3-.8 .4-.1 .3 1.1 .4 0 .4 .3 .3-.8 .4-.1 .4 .1 .3 .8 .4-.2 .3 .3 .4 .1 .4-.1 .3 .1 .4-.7 .7-.3 .4 .3 .4 .3 .3-.3 .4-.3 .3 .4 .4-.2 .7 .3 .4-.3 .4 .6 .3-1 .4 1.2 .4-1 .3 .9 .4-1.3 .3 .3 .4 .7 .4-.1 .3 .3 .4-.5 .7-1.2 .4 1.8 .4-1.2 .3 .8 .7-.6 .4 .1 .7 .4 .4-.1 .7-.6 .4 1.2 .3-.4 .4 .3 .7-.2 .4-.8 .4-.5 .3 .4 .4 1.1 .4-.6 .3 .6 .4-.7 .3-.4 .4 .3 .4-.1 .3 .4 .4 .9 .4 0 .3-.9 .4-.3 .4-.3 .3 .7 .4-.1 .3-.1 .4-.4 .7 1 .4-1 .7 .3 .4 .8 .3-.6 .4 .8 .4 .1 .3-.8 .4 .1 .7-.9 .4 .7 .4-.8 .3 1.1 .4-.7 .3 1 .4-.7 .4 .2 .3 0 .4-.4 .4 1.2 .3-1 .4 .5 .7-.6 .4 .4 .7 .3 .4-.7 .3 .5 .4-.5 .4 .9 .3-1.3 .4 1.1 .4-1 .3 .7 .4-.4 .3 .3 .4-.4 .4 .3 .3-.6 .4 .3 .4 0 .3-.4 .4 1 .3-.9 .4 .6 .4 .7 .3-.9 .4 .3 .4-.8 .3 .9 .4-.2 .4-.1 .3 1 .4-1.1 .3 .7 .4-1.1 .4-.1 .7 1.4 .4-.8 .3 0 .4-.2 .4 .5 .3 .4 .4-.5 .3 .4 .4-1.3 .4 1.2 .7-.3 .4 .5 .7-.5 .4 .2 .3-.1 .4-.7 .7 1.1 .4-.4 .3-.5 .4 .6 .4-.3 .3 .1 .4-.3 .3 .3 .4 0 .4 .3 .3-.5 .4 .6 .4-1.2 .7 .8 .4-.4 .3 .4 .4-.1 .3 .1 .4 .3 .4 .1 .7-1 .4 .8 .3-.1 .4 .1 .4-.6 .3-.5 .4 1.3 .3-.7 .4 .2 .4 .2 .3-.4 .4 .8 .4-.9 .7 .8 .4-1.2 .3 .4 .4-.2 .3 1.2 .4-.5 .4 .1 .7-.8 .4 1.4 .3-.8 .4 0 .3-.5 .8 1 .3-.4 .4 .3 .4-.1 .3-.3 .4 .2 .4-.4 .3 .9 .4-1.8 .3 .5 .8 1.2 .3 .4 .4-.6 .4-.3 .3-1.1 .4 .4 .4 .8 .7-.8 .3 .6 .4-.6 .4 .4 .3 .5 .4 .2 .4-.5 .3-.5 .4 1.1 .4 .1 .3-1 .4 1.5 .3-2 .4 1 .4-.5 .3-.6 .4 1.6 .4-.2 .3-1.5 .4 1.1 .3 0 .8-.6 .3-.1 .8 .7 .3-.1 .4-.1 .4-.5 .3 .5 .4-.7 .3 1.2 .8-1.2 .3 .2 .8 1 .3-.1 .4-.2 .4-.2 .7 .8 .3-.4 .8-.7 .3 1 .4-.4 .4 .6 .3-.5 .4-1.9 .3 1.6 .8 .3 .3 .3 .4 .3 .4-.9 .3 .1 .4-.8 .4 1.5 .3-1 .4-.4 .3 1.5 .4-1.2 .4 1.1 .3-1 .4-.4 .4 .6 .3-.1 .4 .4 .4-.4 .3-.4 .4 .6 .3 0 .8-.4 .3 1.1 .4-.8 .4 .3 .3-.5 .4-.2 .4 .3 .3-.5 .4 1.1 .3-.3 .4 .3 .4-.5 .3 0 .8 .6 .3-.5 .4 .1 .3-.4 .4 .4 .4-.7 .3 .4 .4 1 .4-.8 .3 .6 .8-1.3 .3 .7 .4-.3 .3 .9 .4 .4 .4-.8 .3-.1 .4 .5 .4-.7 .3-.1 .8-.6 .3 .4 .4 .5 .3-.2 .4-.2 .4 .7 .3-1.1 .8 .8 .3 .1 .4-2 .4 1.4 .3-.1 .4-.4 .3 .4 .4 .4 .4-.3 .3 .8 .4-.8 .4 1.1 .3-.9 .4-.1 .3 1 .4-1.6 .4 1.4 .3-1 .4 .7 .4-.4 .3 .5 .4-1.5 .4 .7 .3-.4 .7 .5 .4 .3 .4 .2 .3-.4 .4 .2 .4 .1 .3 .6 .8-.9 .3 .5 .4-.4 .3 .2 .4 .4 .7-.1 .4-.2 .4 0 .3-.6 .8 1.4 .3-1.2 .4 .5 .3-.2 .4-1.2 .7 .9 .4-.2 .4 .4 .3-.4 .7 .8 .4-.1 .4-.9 .3 0 .4 1 .4-.9 .3 .7 .4-.6 .4 .6 .3-.6 .7 .6 .4-.1 .4-.1 .3 .3 .4 .4 .4-1.4 .3 1 .4 .6 .4 .2 .3 .3 .7-1.9 .4 1.3 .4-.6 .3 .7 .4-1.3 .7 .3 .4-.4 .3-.2 .4 .3 .7 1.1 .4-.1 .4 .3 .3-1.6 .4 .9 .7-.2 .4-.8 .3 1.2 .4-.8 .7 .6 .4 .8 .4-1.3 .3 .7 .4-.1 .4-.3 .3 .1 .4-.5 .3 .8 .4-.4 .4 0 .3 .1 .4-.3 .4 .4 .3-.6 .4 .8 .4 .4 .3-.7 .4-.5 .3 .7 .4 .1 .7-.4 .4 .2 .4-.2 .3 .9 .4-1.5 .7 1.1 .4-1 .3 .4 .4-.5 .4 1.3 .3-1.3 .4 .7 .4 1 .3-1.3 .4 .5 .3 .3 .4-.4 .4 .8 .3-1.1 .4 .3 .4 0 .3-.7 .4 .6 .7 .5 .4-.4 .3-.6 .4 .8 .4 .2 .3-.9" stroke="#ec3030" stroke-width="7"/>
<g fill="#f00" stroke="none"><circle cx="417.6" cy="89.9" r="19"/><circle cx="600.5" cy="1417.0" r="19"/><circle cx="782.2" cy="1447.0" r="19"/><circle cx="963.9" cy="1457.0" r="19"/><circle cx="1145.6" cy="1462.6" r="19"/><circle cx="1327.3" cy="1464.0" r="19"/><circle cx="1509.0" cy="1464.0" r="19"/><circle cx="1690.7" cy="1464.0" r="19"/><circle cx="1872.4" cy="1464.0" r="19"/><circle cx="2054.1" cy="1464.0" r="19"/><circle cx="2235.8" cy="1464.5" r="19"/></g>
<path d="M417.6 110.6l.4 85.3 .4 72.9 .3 62 .4 51.2 .7 107.5 .4 61 .7 121.7 .4 58.3 .7 119.7 .4 51.8 .3 43.2 .4 36.9 .7 62.3 .4 25.2 .7 39.8 .4 16 .7 26 .4 10.3 .3 8.5 .4 7.2 .7 12.5 .4 6.2 .7 12.9 .4 6.5 .7 12.7 .4 6 .3 5.8 .4 5.6 .7 10.2 .4 4.7 .7 8.5 .4 3.9 .7 7.5 .4 3.5 .3 3.5 .4 3.5 .7 6.8 .4 3.3 .7 6.7 .4 3.3 .7 6.2 .3 3 .4 2.9 .4 2.8 .7 5.3 .4 2.5 .7 4.6 .4 2.1 .7 3.9 .3 1.9 .4 1.8 .4 1.7 .7 3.3 .4 1.6 .7 3 .4 1.4 .7 2.7 .3 1.4 .4 1.2 .4 1.3 .7 2.5 .4 1.1 .7 2.3 .3 1.1 .8 2.2 .3 1.1 .4 1.2 .4 .9 .7 1.8 .4 1.1 .3 1.7 .4-.2 .3 1.4 .8 1.6 .3 .7 .4 .6 .4 1.4 .7 1.4 .4 1 .7 1.6 .3 .9 .4-.1 .4 1.6 .3 .2 .4 1.2 .4 .3 .7 1.2 .4 1.3 .7 .8 .3 1 .8 .8 .3 .6 .4 1.2 .4 .5 .7 1.7 .3 .1 .8 1.4 .3 1 .8 1.2 .3 .1 .4 1 .4 .3 .7 1.3 .3 .5 .4-.2 .4 1.1 .3 .2 .8 1.4 .3 .6 .4 1.2 .4-.1 .7 1.6 .3 0 .8 .7 .3 .4 .8 .9 .3 1 .4 .4 .4 0 .7 .7 .3 .6 .8 .6 .3 .4 .4 .4 .4-.6 .3 .8 .4 .9 .3-.3 .8 .3 .3 .9 .4 .6 .4-1.1 .3 1.4 .4 .3 .4-.2 .3-.1 .4 .3 .3 .9 .4 0 .4 .5 .3 0 .4 .5 .4-.8 .3 .7 .8 1 .3-.3 .4 1 .3 .1 .8 .5 .3-.3 .8 1.6 .3 .3 .8 .6 .3 .3 .4 .1 .3-.1 .8 .8 .3 0 .8 .7 .3 .5 .4-.3 .3 .5 .4 .3 .4 .3 .3 0 .8 .9 .3-.1 .8 1.2 .3-.4 .4-1.1 .3 1.6 .4-.4 .4-.1 .3 .5 .8 .5 .3 .1 .8 .4 .3-.2 .4-.1 .3 0 .4-.1 .4 .5 .3-.7 .8 1.7 .3 .2 .7-.5 .4 .1 .4 .4 .3-.3 .4 .6 .4 .2 .3 .1 .4 0 .4 0 .3 .7 .4 .1 .3-.6 .4 .6 .4-.4 .3 .3 .4 .3 .4-.2 .3 .6 .4-.2 .4 .1 .3 .1 .4 .8 .3-.2 .4-.4 .4 .4 .3-.1 .4 .1 .4 .8 .3 0 .4-.4 .4 .4 .3 .6 .4-.3 .3 .2 .4 .4 .4 .1 .3-.3 .4 .2 .4 .7 .3 .1 .4-.1 .3 0 .4 .1 .4 .4 .3-.3 .4 1 .7-.5 .4 .1 .4 .2 .3-.1 .7 .5 .4-.6 .4 .7 .3-.8 .4 1.6 .4-.8 .3 .8 .4 .3 .4-.1 .3 .7 .7-.7 .4 .4 .7-.3 .4 .5 .4-.5 .3 .7 .4-.8 .4 .7 .3 .6 .4-.6 .3 .2 .4 .7 .4-1 .3 .9 .4-.3 .4-.6 .3 1.2 .4 .1 .3-.3 .4 1.1 .4-1.1 .3 .7 .4-.7 .7 1.1 .4 .1 .4-.8 .3 .9 .4-.3 .3-.1 .4 0 .7 .7 .4-.5 .4 .2 .3-.1 .4 .8 .4-.8 .3 .4 .4 .4 .3-.3 .4 .3 .4 .7 .3-.3 .4-.3 .7 .2 .4 .4 .4 .2 .3-.2 .4-.1 .3 .1 .4 0 .7 .4 .4 .1 .4-.1 .3 .2 .4-.1 .3 .2 .4-.6 .4 .8 .3 .1 .4-.4 .4-.3 .3 .7 .4 .4 .4-.6 .3 .6 .4-.2 .7 .5 .4-.7 .7 .5 .4-.1 .3 .5 .4-.2 .7-.3 .4 1 .3-.8 .4 .6 .4 .4 .7-1 .4 .8 .3-.6 .4 .3 .7-.5 .4 .2 .7 .9 .4-.1 .3-.1 .4 .1 .4-.2 .3-.1 .4-.4 .7 1.2 .4-1.3 .7 1.1 .4 .5 .7-1.3 .4 .8 .3-.2 .4 .1 .3-.2 .4 .7 .4 0 .7-.5 .4 .6 .7-.5 .4 .2 .3 .3 .4-.8 .7 .5 .4 .3 .3 .4 .4-.2 .4-.1 .3 .3 .4-.6 .3 .8 .4-1 .4 .8 .3 .1 .4-.1 .4-.3 .3-.1 .4 .7 .4-.5 .7 .7 .3 0 .4-.8 .4 .9 .7-.4 .4-.5 .3 1.3 .4-.7 .4 0 .3 .6 .4-.4 .3 0 .4-.2 .4 .3 .3 .1 .4-.2 .4-.3 .3 .9 .4-.5 .4 .1 .7-.3 .3 .6 .4 .3 .4-.4 .3 .4 .4-1 .4 .1 .3 .9 .4-.3 .3 .5 .4-.4 .4 .1 .3-.8 .4 .5 .4 .2 .3-.3 .4 .5 .4-.3 .3 .5 .4 0 .3-.8 .4 1.6 .4-1.1 .3 .5 .4-.6 .4 .6 .3-.3 .4 .6 .4-.8 .7 .9 .3 .7 .8-1.3 .3 .7 .4 0 .4-.4 .3 .1 .4-.1 .4 .2 .3-.7 .4 1.1 .3-.2 .8-.3 .3-.3 .4 .5 .4-.2 .3 .1 .4-.8 .3 1.3 .4-.7 .4 .5 .3-.1 .8-.2 .3 .6 .4-.1 .4 .3 .3 .6 .4-1.6 .3 .7 .8 .4 .3-.2 .8-.4 .3 .3 .4 .1 .4 .4 .7-.3 .3 .7 .8-.6 .3-.5 .4 1.1 .4-.1 .3-.7 .4 1.1 .4-1.6 .3 .8 .4-.3 .3 .2 .4 .8 .4-.8 .3 .6 .8-.3 .3-.1 .4-.1 .3 .2 .4-.3 .4 .3 .3 .3 .4-.3 .4 .3 .3-.4 .8 .4 .3-.4 .4 1 .3-.8 .4 .4 .4-.4 .3 0 .4 .6 .4-.5 .3-.4 .4 .7 .4-.4 .3-.5 .4 1.5 .3-.6 .4-.7 .4 .7 .3 .1 .8 .9 .3-1.2 .4 .1 .3-.3 .4 .3 .4 .6 .3 .3 .8-1.1 .3 .3 .8-.4 .3 .8 .7-.5 .4 .5 .4 .2 .3-.1 .4-.4 .4 .5 .3-.1 .4-.2 .4 .4 .3-.1 .4-.2 .3 0 .4 .3 .4 0 .3-.5 .4 .5 .4-.2 .3 .1 .4 .2 .4-.5 .3 .4 .4 .5 .3-1.2 .4 .7 .4-.1 .3-.1 .8 .5 .3 0 .7-.5 .4 .3 .4-.2 .3 .9 .4-.4 .4-.4 .3 .5 .4-.7 .4 .4 .3 0 .4 .3 .3-.3 .4 .5 .4-.8 .3 .2 .4 .2 .4 .3 .3-.5 .4 .4 .4-.6 .3 .1 .4 .5 .3-.1 .4-.7 .4 .4 .3-.1 .4 .5 .4-.4 .3 .7 .8-.8 .3 .5 .4-.3 .3 .3 .4 0 .7-.2 .4 .1 .4-.1 .3 .5 .4 .2 .3-.7 .4 1 .7-.3 .4-.7 .4 0 .3-.8 .4 1.2 .4 0 .3-.1 .4 .5 .3-.8 .4 .6 .7-.3 .4 .2 .7-.4 .4 0 .4 .3 .3 .3 .4-.3 .3 .4 .4 .1 .4 .1 .3-.9 .4 .8 .4-.8 .3 .4 .4 .1 .4-.1 .3-.5 .4 1 .3-.6 .4 .3 .7 .6 .4-.4 .4 0 .3-.3 .4-.3 .3 .2 .4 .2 .4-.7 .3 .8 .4-.2 .4 .2 .3-.4 .4 .1 .4 .2 .3-.2 .4 .1 .3 .3 .4-.5 .7 .5 .4-.4 .4 .4 .3-.2 .4-.8 .7 1 .4 .1 .3-.6 .4 .3 .4 .4 .3-.5 .4 .8 .4-1 .3 0 .4-.1 .4 1 .3-.7 .4-.4 .3 .5 .4 .2 .4-.5 .3 1 .4-.5 .4-.1 .3 .3 .4-.2 .3-.3 .4 .1 .4 .3 .3 .4 .4 .1 .7-.3 .4 .1 .4-1.2 .3 1 .4 0 .3-.3 .4 .7 .4-.3 .3-.3 .4 .4 .4-.6 .3 .6 .4-.3 .4-.4 .3 .1 .4 .4 .3 0 .4-.2 .4 .4 .3 .2 .4-.7 .4 0 .3 .3 .4 .1 .3 .4 .4-.2 .4-.1 .7-.4 .4 .3 .3-.1 .4 .6 .4-.5 .3-.3 .4 .6 .3 .4 .4-.9 .4-.2 .7 .7 .4-.4 .3 .9 .4-.7 .4 .3 .3-.6 .4 .7 .7-1.1 .4 .1 .7 .9 .4-.1 .3-.4 .4 .2 .4 .3 .3-.1 .4 .2 .3-.4 .4 .2 .4-.5 .7 .6 .4-.6 .3 1.2 .4-.2 .3-.3 .4-.4 .4-.4 .7 .5 .4 .1 .3 .6 .4-.4 .4-.5 .7 .6 .3-.2 .4 .2 .4 .4 .3-.5 .4 .1 .4 .2 .3-.3 .4 0 .4-.1 .3 0 .4 0 .3 .1 .4 .2 .4-.2 .7-.3 .4 .3 .3 .2 .4-.5 .4 .3 .7-.7 .3 .5 .4 .7 .4-.2 .3-.4 .4 .7 .4-.4 .3-.2 .4 .2 .3 .2 .4-.3 .4 .1 .3 .1 .4-.4 .4 .4 .7-.6 .4 .2 .7 .3 .3-.1 .8 .5 .3-.2 .4-.6 .4 .7 .3-.9 .4 .4 .4 .2 .3 .2 .4-.2 .3-.2 .4 .1 .4-.3 .3 .3 .4 .4 .4-.4 .3-.1 .4 .3 .4 .3 .7-.5 .3 .5 .4-.9 .4 .4 .3 .8 .4-.2 .4-.4 .3 .4 .4-.3 .3-.4 .8 .7 .3-.6 .4-.1 .4 .6 .3-.4 .4 .4 .4 .2 .3-.8 .4 0 .3 .7 .4 .6 .4-1.2 .3 .5 .4-.3 .4 .6 .3-.6 .4-.2 .4 .3 .3-.2 .4 .2 .3-.2 .8 .5 .3 .5 .8-.6 .3 .3 .4-.7 .3 .4 .4-1.1 .4 .8 .3 .5 .8-.5 .3-.1 .4-.1 .4 .6 .3-.5 .4 .4 .3-.3 .4 .3 .4 0 .3-.1 .4 .3 .4-.2 .3-.1 .4 .7 .4-.4 .3 0 .4-.5 .3 .3 .8 .3 .3-.4 .4 .3 .4-.5 .3 .5 .8-.3 .3 0 .4 .7 .3-.6 .8 .7 .3-.2 .4-.7 .4 .2 .3 .3 .4-.5 .3 .9 .4-1 .4 .6 .3-.6 .8 .6 .3-.2 .4 .2 .4-.5 .3 .1 .4 .4 .3-.1 .4 0 .4-.6 .3 .6 .4-.3 .4 .3 .3 .3 .4 .3 .4-.7 .3 0 .4 0 .3-.3 .4 .2 .4-.4 .3 .4 .4 .6 .4-.7 .3 .7 .4-.3 .4 .4 .3-.7 .4-.2 .3 .9 .4-.1 .4-.1 .3 .4 .4-.6 .4 .1 .3 .4 .4 .3 .3-.3 .4-.5 .4 .6 .3-.6 .4 0 .4-.2 .3 .3 .8-.5 .3 .7 .7-.6 .4 .8 .4-.6 .3 1.1 .4-.4 .4 0 .3-.4 .4-.1 .4 .8 .3-1.4 .4-.1 .3 .3 .4 .5 .4-.2 .3 .4 .4-.1 .4 .1 .3-.4 .4 .3 .4 0 .3-.8 .4 .8 .3-.4 .4 .1 .4 .3 .3 0 .4-.5 .4 .5 .3-.4 .4 .4 .3 0 .4-.6 .4 1.1 .3-.4 .4 0 .4-.4 .3 .4 .4-.2 .4-.2 .3-.5 .7 1.2 .4-1.1 .7 .9 .4-.4 .4 .5 .3-.2 .4 .1 .4-.1 .3 .7 .4-1.3 .3 .4 .4-.2 .7 .3 .4-.5 .7 .6 .4-.4 .3 .4 .4 0 .4-.3 .3 .2 .4 0 .4 .7 .3-.4 .4-.3 .4-.2 .3 0 .4 .4 .3-.3 .4 .5 .7-1 .4 .7 .4 .3 .3-.7 .4 .4 .7-.2 .4 .3 .3-.4 .4 .5 .4 0 .3-.3 .4-.1 .4 .1 .3-.2 .4 .3 .4 .2 .3-.4 .4 .7 .3-.5 .4-.3 .4 .1 .3-.2 .4 .5 .7 .1 .4 0 .7-.5 .4 .3 .3-.5 .4 .3 .4 .9 .3-.9 .4 .4 .4-.2 .3 .3 .4-.1 .3-.9 .4 .4 .4 .4 .3 .2 .4-.1 .4 0 .3-.4 .4-.1 .4 .9 .3-.7 .4 .2 .3 0 .4-.3 .4 .5 .3 0 .4-.2 .4 .2 .3-.1 .4-.4 .4 .7 .3-.8 .4-.1 .3 .6 .4-.3 .4 .5 .3-.2 .4 0 .4 .2 .3-.6 .4 .2 .3-.2 .4 .8 .4-.5 .7 .5 .4-.9 .3 .4 .4-.1 .4-.4 .3 .7 .4-.7 .3 1.1 .4-1.1 .4 .2 .7 .7 .4-1.2 .3 1 .4-.6 .4 .3 .3 .1 .4 .1 .3 .3 .4 0 .4-.1 .3-.6 .4 1 .4-.3 .3-.5 .4 .2 .4 .1 .3 .2 .4 .2 .3-.3 .4 .2 .4-.3 .7 .4 .4-1 .3 1.2 .4-1 .3 .4 .4 .1 .4 .2 .7-.2 .4 .5 .3-1 .4 .3 .4 0 .3 .1 .4-.4 .3 .3 .4-.2 .4 .5 .3-.8 .4 .8 .4 .1 .7-.6 .4-.3 .3 .4 .4-.5 .3 1 .4-.1 .4-.1 .3-.6 .4 .8 .4-.3 .3 .4 .4-.5 .3 .4 .4-1.3 .4 .7 .3 .5 .4-.5 .4 .3 .3 .2 .4-.4 .4 .7 .3-1 .4 .1 .3 .8 .4-.3 .4 .6 .3-.9 .4 .1 .4 .1 .3 .2 .4-.1 .4 .2 .3-.2 .4 .2 .3 0 .8 .6 .3-.6 .4-.5 .4-.2 .3 .7 .4-.2 .4-.5 .3 1 .4-.6 .3 .7 .4-.7 .4 .2 .3-.1 .4 .1 .4-.8 .3 1.6 .4-.4 .3-.6 .4 0 .4 .4 .3-.4 .4 .1 .4 0 .3-.4 .4 .7 .4-.3 .3-.3 .4 .5 .3-.6 .8 1 .3-.2 .8-.7 .3 .5 .4-.1 .4 0 .3-.2 .4 .5 .3-.3 .4 .3 .4-.5 .3-.1 .4 1.1 .4-.9 .3 .2 .4-.4 .4 .5 .3-.2 .4 .4 .3-.7 .4-.5 .4 .7 .3-.4 .4 0 .4 .6 .3-.1 .4 0 .3-.3 .4 .5 .4-.4 .3 .5 .4-.5 .4 .2 .3 .6 .8-.7 .3 .2 .4-.1 .3-.7 .4 1.2 .4-.2 .3 0 .4-.2 .4 .1 .3-.1 .4 .2 .4 0 .3-.9 .4-.2 .3 .9 .4-.1 .4 .6 .3-.4 .4-.4 .4 .1 .3 .3 .8-1.1 .3 1.1 .4 .2 .3-.5 .4-.1 .4 .6 .3-.3 .4-.4 .4 .3 .3 .4 .4-.6 .3 .6 .4-.8 .4 .5 .3 .7 .8-.9 .3-.4 .8 .7 .3-.8 .4 1.2 .3-.8 .4 .9 .4 0 .3-.2 .4-.6 .4 .2 .3 .1 .4-.2 .4 .4 .3-.8 .4 .5 .3-.1 .4 .6 .4-.4 .3 .4 .4-.7 .4 .8 .3-.8 .4-.1 .4 .2 .3-.2 .4-.1 .3 .6 .4 .1 .4 0 .3-.2 .8 .1 .3-.7 .7 .8 .4-.7 .4 .9 .3-.4 .4-.2 .4 0 .3 .6 .4 .1 .4-.1 .3-.1 .4-.7 .3 .5 .4-.2 .4 .4 .3-.1 .4-.4 .4 .1 .3 .2 .4-.4 .4 .5 .3 0 .4 0 .3 .1 .4-.5 .4 .8 .3-.7 .4 .8 .4 0 .3-.6 .4-.1 .3 .1 .4 .7 .4-1.1 .3 0 .4 .7 .4-.8 .3 .7 .4-.2 .4 .2 .3 .1 .4 .2 .3-.4 .4-.3 .4 .3 .3-.3 .4-.1 .4-.2 .3 .2 .4 .3 .4-.1 .3 .1 .7 .4 .4-1 .4 .9 .3-.5 .4-.3 .7 .7 .4-.3 .4-.4 .3 .8 .7-.1 .4-.4 .4-.1 .3 .5 .4-.2 .4-.3 .3 .7 .4-.3 .3-.2 .4-.1 .7 .7 .4-.4 .4 .1 .3-.2 .4-.1 .4 .2 .3-.1 .4-.7 .3 .1 .4 .3 .4 .3 .3-.6 .4 .9 .4 .3 .3-.5 .4 .3 .4 .4 .3-.4 .4-.2 .3 0 .4-.3 .4 0 .3 0 .4 .5 .7-.9 .4 .6 .7-.2 .4 0 .3 .2 .4-.2 .7 .8 .4-.4 .7-.2 .4 .2 .3 .1 .4-.4 .4-.1 .3 .3 .4 0 .4-.1 .3 .2 .4-.4 .7 .8 .4-1.2 .3 .5 .4-.2 .4 .4 .7-.1 .4 0 .3 0 .4 .3 .4-.5 .3 .2 .4-.6 .3 .9 .4-.2 .4-.1 .3 .6 .4-.3 .4 .4 .3-.5 .4-.2 .4 0 .3-.3 .4 .2 .3-.2 .4 .1 .4 1 .3-.8 .4 .5 .4-.7 .3-.2 .4 0 .7 .4 .4 .5 .3-.7 .4 .1 .4 .2 .7 .4 .4-.3 .3-.4 .4 .2 .3 .3 .4-.5 .4-.1 .7 .4 .4-.2 .3 .2 .4-.2 .4 .5 .3-.8 .4 .4 .3-.7 .4 1.4 .4-.4 .3 .2 .4-.5 .4-.1 .3 .3 .4-.2 .3 0 .4 .3 .4-.2 .3 .3 .4-.2 .4 .1 .7 .1 .4-.4 .3 .1 .4-.6 .3 1.3 .4-.7 .4-.1 .3-.1 .4 .1 .4-.7 .7 1.3 .4-.7 .3 .5 .4-.4 .3 .2 .4-.8 .4 1 .3-.9 .4 .4 .4 .1 .7 .4 .4-.3 .3-.1 .4 .2 .3 .3 .4-.2 .4-.1 .3-.1 .4 .5 .4-.6 .3-.3 .4 .4 .3-.5 .8 .6 .3 .2 .4 .1 .4-.2 .3-.1 .4 .3 .4-.3 .3-.7 .4 1.2 .3-.7 .4 .1 .4-.1 .3 0 .4 .1 .4 .1 .3 0 .4 .2 .4-.1 .3-.2 .4 0 .3 0 .8 .4 .3-1.1 .4 .5 .4-.1 .3 .2 .4-.1 .4-.1 .3-.1 .4 .4 .3-.2 .4-.1 .4 .8 .3-.5 .4-.1 .4 .4 .7-.7 .3 .3 .8 .3 .3-.2 .4-1.1 .4 1.1 .3 .3 .4 .3 .4-.9 .7 .6 .3-.7 .8 .7 .3 0 .4-.4 .4 .1 .3-.1 .4-.2 .4 .5 .3-.3 .4 .6 .3-.7 .4-.1 .4 1.3 .3-.6 .4-.5 .4 .7 .3-.6 .4-.2 .4 .2 .3-.2 .4 .3 .3-.4 .8 .5 .3 .2 .4 .2 .4-.5 .3-.1 .4 .1 .3 .3 .8-.7 .3 .3 .4-.4 .4 .3 .3 .3 .4-.9 .4 1.1 .3 .2 .4-.3 .3-.3 .4-.2 .4 .2 .3 .2 .4-.6 .4 .3 .3 .1 .4 .2 .4-.7 .3 .1 .4 .7 .3-.7 .8 .5 .3-.4 .4 .6 .4-.3 .3-.4 .8 .9 .3-.2 .4-.3 .3 .3 .8-.5 .3 .4 .4 .3 .4-.6 .3-.4 .4 .6 .3-.2 .4 0 .4 0 .3 .6 .8-.6 .3 .4 .4-.4 .4 .4 .3 .1 .7-.7 .4 .1 .4 .2 .3-.5 .4 .8 .4-.5 .3 .4 .4 .6 .4-1 .3 .2 .4 .5 .3-.3 .4-.3 .4 .3 .3-.4 .4 .8 .4-1.3 .3 .8 .4 .2 .3 0 .4 0 .4 .3 .3-.1 .4-.5 .4-.2 .3 .7 .4-.5 .4 .2 .3-.9 .4 .6 .3-.1 .4 .2 .4-.1 .3 .3 .4 .2 .4-.9 .3 .1 .8 .8 .3-.3 .4-.2 .3 .2 .4 .6 .4-.6 .3 .4 .4 0 .4-.6 .3 1.3 .4-1.5 .4 .7 .3-.1 .4-.1 .3 0 .4 0 .4 .2 .3-.3 .4 .4 .4-.4 .3 0 .4 .1 .3-.5 .4 .5 .4 .1 .3-.9 .4 .2 .7 .6 .4-.6 .4 .4 .3 .2 .7-.4 .4 .2 .7 .8 .4-.9 .4 .2 .3-.3 .4 .2 .4-.2 .3 .1 .7 .3 .4 .5 .7-1.3 .4 1 .7-1 .4 .6 .4 .8 .3 .2 .7-.7 .4-.5 .7 .5 .4-.4 .4 .7 .3-.3 .4-.5 .3-.6 .4 1.2 .4 .1 .3-.4 .4-.1 .4-.1 .3 0 .4-.3 .4-.1 .3 .4 .4 .6 .3-.3 .4-.1 .4 .1 .3-.5 .4 .2 .7 .2 .4-.3 .7 .7 .4-.2 .3 .2 .4-.2 .4 .7 .3-.8 .4 .2 .7-.6 .4 .1 .4 .8 .3-.6 .4-.1 .3 .5 .4-.5 .7 .6 .4-.6 .4 .3 .3-.9 .4 .7 .3 .2 .4-.2 .4 0 .3 .1 .4 .2 .7-.8 .4 .8 .4-.8 .3 .8 .4-.5 .3 .2 .4-.4 .4 .4 .7 .2 .4-.2 .3-.2 .4-.1 .4 .4 .3 0 .4 0 .3 .6 .4-.7 .4 .4 .3-.4 .4 .2 .4 0 .3-.1 .4 .4 .7-1 .4 0 .3-.1 .4 .3 .4 .2 .3-.5 .4 .6 .4-.3 .3 .1 .4 .2 .3 .3 .4-.4 .4-.5 .7 .7 .4-.1 .3 .2 .4-.1 .4 .2 .3-.5 .4 .4 .7-.1 .4 .5 .7-1.1 .4 .8 .3-1.1 .4 .8 .4 .2 .3-.3 .4 0 .3 .3 .4-.3 .4 .6 .3-.7 .4 .5 .4 .2 .3-.4 .4 .4 .3-.8 .4-.2 .4 .9 .3-.2 .4 .3 .4 0 .7-.4 .4 .4 .7-1.2 .3 1.1 .4-.3 .4 .1 .3 .7 .4-.2 .4-1.2 .3 .6 .4-.6 .4 .5 .7-.3 .3 .5 .4-.6 .4 0 .3 .5 .4-.1 .4 .4 .3-.9 .4 .9 .4-.4 .3 .2 .4 0 .3-.5 .4 .3 .4-.3 .3 .4 .4-.4 .4 .7 .3-.1 .4 .9 .3-1.5 .8 .8 .3-.1 .4-.3 .4 .3 .7-.9 .4 .5 .3 0 .4 .1 .3 .4 .4 .1 .4-.3 .3-.2 .4-.4 .4 .6 .7-.9 .4 0 .7 .3 .3 1.2 .8-.9 .3 .1 .4-.3 .4-.1 .7 .7 .4-.2 .3 .2 .4-.7 .3 .2 .4-.3 .4 .4 .3 .4 .4-.3 .4 .3 .7 .2 .3-.8 .8 .6 .3-.1 .4-.2 .4 0 .3 .1 .4 .1 .4-.5 .3 .4 .4-.7 .3 .9 .4 .6 .4-.6 .3-.5 .4 .1 .4-.1 .3-.1 .4-.3 .4 .8 .3-.6 .4 .3 .3 .1 .4-.6 .4 .1 .3 1 .4-.8 .4 0 .3 .7 .4-.2 .3-.1 .8-.5 .3 0 .8 1.3 .3-.6 .4-.4 .4 0 .3-.4 .4 0 .3 .1 .4 .7 .4-.8 .3 .8 .4-.9 .4 .2 .3 .2 .4-.1 .4 .1 .3 .2 .4 .4 .3-.7 .4 .1 .4 0 .3 .3 .4-.5 .4 .6 .3 .2 .4-.8 .4 .5 .3 .1 .4-.1 .3-.6 .8 .6 .3 .2 .8-.3 .3 .5 .7-.4 .4 .3 .4-.3 .3 .2 .8-.8 .3-.1 .4 .9 .4-.3 .3-.2 .7 .7 .4-.3 .4 .1 .3 .1 .4-.5 .4 .1 .3 .3 .4-.8 .4 .6 .3-.7 .4 .7 .3-.2 .4 .2 .4 0 .3 .2 .4 .1 .4-.1 .3-.5 .8-.1 .3 .7 .4-.9 .3 .4 .4 .4 .4-.2 .3-.1 .4-.1 .4 .8 .3-.2 .4-.7 .3 0 .4 .5 .7-.6 .4 .3 .4 .1 .3 .5 .8-.7 .3 .1 .4-.1 .3 .5 .4 .4 .7-.6 .4-.1 .4-.5 .3 0 .8 .4 .3-.1 .4 .2 .3-.4 .4 .9 .4-.8 .3 .1 .4 .2 .4 .4 .3-.6 .8 .5 .3-.3 .4 0 .3-.1 .4 .3 .7-.8 .4 .5 .4 .3 .3 0 .7-.8 .4 .4 .4-.4 .3 .4 .4-.4 .4 1.1 .3 0 .4-.6 .4-.1 .3 .5 .4-.2 .3 0 .4-.4 .7 .6 .4-.2 .4 .1 .3-.3 .4 .1 .4-.3 .3 .4 .4 0 .3 .1 .4-1 .4 1 .3-.5 .4 .1 .4 .5 .3-.6 .4 .1 .3 .4 .4 .2 .4-.3 .3 0 .4 .2 .7-.5 .4 .4 .4 .1 .3-.4 .4-.4 .3 .8 .4 0 .4-.8 .3 1.1 .4-.6 .4-.5 .3 .5 .4 .1 .7-.4 .4 .5 .3-.2 .4 .1 .4-.3 .3 0 .4 .4 .7-.3 .4-.4 .7 .7 .4-.3 .3-.6 .4 .2 .4 0 .3 .9 .4-1.1 .7 .5 .4 .1 .3-.1 .4 .8 .4-1 .3 .8 .4-1 .7 .8 .4 .1 .7-.9 .4 .5 .3 0 .4 .3 .4-.8 .3 .6 .4 .2 .4-.4 .3 .3 .4-.1 .4 .5 .3 0 .4-.7 .3 .4 .4-.4 .4 0 .3-.1 .4 0 .4-.1 .3 .4 .4 .1 .4-.5 .3 .7 .4 0 .3 .1 .4-.2 .4-.7 .3 0 .4 .6 .4 .3 .3-.2 .4-.3 .3-.5 .4 .6 .4-.4 .7 .8 .4-.8 .3-.1 .4 .3 .4 .2 .3-.5 .4 .3 .3 .1 .4-.1 .4-.3 .3 .8 .4-.3 .4 .1 .3-.2 .4 0 .4 .2 .3-.2 .4 .1 .3-.5 .4 .1 .4 .4 .3-.1 .4 .1 .4 .2 .7-.6 .4 1 .3-.3 .4-.7 .3-.1 .4 .8 .4 0 .3 .1 .4-.8 .4 .3 .7 .3 .3-.5 .4 .4 .4-.6 .3 .5 .4-.3 .4 .1 .7 .2 .4-.6 .7 .9 .3-.9 .4 1 .4-.6 .3-.1 .4 .2 .4 .4 .7-.6 .4 .5 .7-.3 .3 .3 .4 .1 .4 .1 .7-.8 .4 .4 .3 0 .4-.6 .4 .1 .7 .3 .3 0 .4-.2 .4 .3 .3-.3 .4 .3 .4-.3 .3 .8 .4-.1 .3-.8 .8 .7 .3 .1 .4-.7 .4 .4 .7-.5 .4 .3 .3 .1 .4-.4 .3 1 .8-1.6 .3 .8 .4-.3 .4 .8 .3-.9 .4 1.1 .4-.6 .7 .5 .3-.5 .4 1.2 .4-1.3 .3 .3 .4 .2 .4 .2 .7-.1 .3 0 .4-.3 .4 .5 .3-.3 .4 .4 .4-1.3 .3 .5 .4 1 .4-1.1 .3-.6 .4 .8 .3-.1 .8-.5 .3-.1 .8 1.4 .3-.6 .4 .5 .4-.1 .3-.8 .4 .4 .3 .1 .8-.4 .3 .5 .4-.7 .4 .8 .3-.6 .4 .4 .4-.1 .3 .1 .4-.5 .3 .1 .4 .3 .4-.4 .3 .8 .4-.6 .4 .6 .3 .5 .4-.4 .3-.8 .4 .3 .4-.1 .3 .4 .4-.1 .4 .2 .3-.4 .4-.1 .4 .1 .3 0 .4 0 .3-.1 .4-.2 .4 .5 .3-.4 .4-.2 .4 .8 .3-.2 .4-.1 .4 .2 .3-.2 .4 .1 .3-.8 .4 .5 .4-.4 .3 .5 .4 0 .4 0 .3 0 .4-.9 .4 .4 .3 .4 .4 .8 .3-.6 .4-.5 .4 .3 .3 .2 .4-.4 .4 .2 .3 .3 .7-.5 .4 0 .4 .3 .3 .2 .8-.4 .3 .1 .4-.3 .4 .5 .3-.1 .4 0 .3-.2 .4 .5 .4-.8 .3 .6 .8-.6 .3 .9 .8-.6 .3 .2 .4-.2 .3 .5 .4-.7 .4 .3 .3 .1 .4 .8 .4-1.1 .3 .7 .4-.9 .4 .1 .3 .8 .4 .1 .3-.7 .4-.3 .4 .4 .3 0 .4 0 .4-.5 .3 .4 .4 .6 .3-.9 .4 .1 .7 .4 .4-.5 .4 .3 .3 .2 .4-.4 .4 .5 .3-.1 .4 .6 .3-.5 .4-1 .4 1.4 .3-.1 .4-.8 .4 .6 .3-.5 .4-.3 .4 .7 .3 .1 .4-.6 .3 .2 .4-.3 .4 .5 .3-.2 .4 .4 .4 .1 .3 0 .7-.9 .4 .3 .7 .3 .4 0 .4-.4 .3 .4 .4 .5 .4-.5 .3 .6 .4-.5 .3 .2 .4 .3 .7-.6 .4-.2 .7 .5 .4 0 .4-.4 .3-.2 .4 0 .3 .3 .4 .3 .4-.5 .3 .1 .4 .3 .4 .1 .3-.1 .4-.6 .4-.1 .3 .6 .7-.6 .4 .9 .7-.3 .4-.2 .4 .6 .3-.7 .4 .7 .3-.8 .4 .3 .4 .2 .3-.5 .4 .3 .4 .3 .3-.6 .4 .4 .7-.6 .4 1 .3-.7 .4-.1 .4-.5 .3 1.4 .4-.9 .4-.5 .3 .7 .4 .1 .7 .6 .4-1.1 .3 .9 .4 .2 .7-1 .4 .1 .7 .6 .4-.3 .7 .3 .4-.4 .3 .4 .4-.2 .4-.6 .3 .5 .4 .1 .4-.4 .3 .7 .4-.5 .3-.3 .4 .2 .4 .5 .3-.6 .4 .4 .4-.4 .3 .6 .4 .1 .4-.9 .3 .6 .4 0 .3 .3 .4-.2 .4-.7 .7 .5 .4 .6 .3-.9 .4 .2 .4-.3 .3 .5 .4-.3 .7 .7 .4 .2 .3-.9 .4 .3 .4-.1 .3 .6 .4-1.2 .7 1.2 .4-.1 .7-.8 .4 .2 .3-.1 .4 .4 .4-.5 .3 .3 .4-.3 .3 .6 .4-.1 .4 .1 .3-.1 .4 .1 .4-.5 .7 .7 .4-.3 .3 .1 .4 .3 .3-.6 .4 0 .4 0 .3-.5 .4 1 .4-.7 .7 .6 .4-.8 .3 .8 .4-.4 .3-.2 .4 .3 .4 .2 .7-.7 .4 .6 .3-.6 .4 .3 .4 .5 .3-.6 .4 .3 .3 .1 .4-.3 .4 0 .3 .4 .4-.1 .4-.4 .7-.4 .3 .6 .4 0 .4 .3 .3-1 .4 .6 .4 0 .3-.3 .4 .2 .4 .5 .7-.7 .3 .3 .4 .3 .4-.1 .3-.5 .4 .8 .4-.3 .3-.5 .4 .1 .4 .7 .7-.5 .3 0 .4 .2 .4 .1 .7-.2 .4 0 .3-.6 .4 .5 .3-.1 .8 .3 .3-.4 .4 .5 .4-.5 .7 .5 .4-.5 .3 .4 .4-.4 .3 .6 .8-.7 .3 .6 .4 .5 .4-.4 .3-.5 .4 .2 .4 .5 .7-.3 .3 .5 .8-.6 .3 .1 .4 0 .4-.6 .3 .9 .4-.3 .4-.6 .7 .9 .3-.6 .4 .9 .4-.6 .3-.4 .4 .7 .4-.7 .7 .2 .3-.8 .8 .8 .3 .6 .8-.4 .3-.2 .4-.2 .4 .5 .7-.4 .3 .6 .8-.8 .3 .4 .4-.1 .4 0 .3-.1 .4 0 .4 .2 .3 .1 .4-.1 .3-.3 .4 .5 .4-.7 .3 1.3 .8-1.4 .3 .5 .4-.2 .4 .1 .3-.8 .4 .6 .3-.2 .4 .7 .4-.2 .3 .2 .4-.1 .4 .1 .3-.2 .4 .3 .3-.6 .4 .3 .4-.2 .3 .4 .8-1 .3 .5 .4 .1 .4-.1 .3-.1 .4-.1 .3 .7 .8-.3 .3-.4 .8 .6 .3-.3 .8 .3 .3 .1 .4 .4 .3-.1 .8-1.1 .3 .5 .4-.2 .4 .2 .3 .2 .4-.6 .4 .5 .3-.3 .4 .2 .3 .3 .8-.4 .3 .3 .4-.5 .4 .5 .3-.3 .7 .2 .4-.2 .4 .3 .3 .1 .8-.3 .3 0 .4-.3 .4 .3 .3-.2 .4 0 .3 .4 .4-.5 .4 .6 .3 .4 .4 .4 .4-.9 .3-.5 .8 1.9 .3-1.9 .7 .7 .4-.4 .4-.3 .3 .6 .4 0 .4-.3 .3-.2 .4 .3 .3-.1 .4 0 .4 0 .3 0 .4 .4 .4 .3 .3-.4 .8 .5 .3-1.1 .4 .7 .3-.6 .4 .6 .7-.4 .4 0 .4 .2 .3 0 .8-1 .3 .5 .4 .7 .3-.2 .4 .3 .4-.9 .3 .2 .4 .4 .4 .3 .3 0 .4-.2 .4 0 .3-.1 .4 0 .3 .3 .4-.4 .4 0 .3-.2 .4 .7 .4-.7 .3-.1 .7 .6 .4 0 .7-.4 .4 0 .7 .7 .4-.5 .4-.1 .3 .2 .7-.5 .4 .7 .4-.5 .3 .4 .4 0 .7-.9 .4 .4 .4 .3 .3-.5 .4 .4 .3-.1 .4 .5 .4 0 .3 .1 .4-.8 .4 .8 .3-.9 .4 .9 .4-.5 .3 0 .7 .7 .4-.5 .4-.7 .3 .1 .4 .9 .4-.5 .3 .1 .4-.4 .3 .2 .4 .4 .4-1 .3 .5 .4 .5 .4-.7 .3 .2 .4-.2 .4 .8 .3-.4 .4 .3 .3-.2 .4 0 .4-.2 .3 .5 .4-.7 .4 .5 .3-.3 .4 .2 .7-.3 .4 .4 .3-.5 .4 .5 .4-.3 .3 .2 .4 .2 .4 .5 .3-.5 .4 0 .7-.7 .4 .8 .3-.6 .4-.6 .4 1.1 .3-.4 .4-.1 .4 .2 .3 0 .4-.2 .3-.6 .4 1.1 .4-.4 .3 .1 .4-.7 .4 .2 .3-.1 .4 .4 .7 .2 .4 .1 .3 .2 .4-.4 .4-.1 .7 .7 .4-.7 .3-.7 .4 .9 .4 .4 .3-.8 .4 .8 .7-.5 .4 .3 .3 .1 .4-.4 .4 .5 .3-.5 .4 0 .3 .5 .4-.6 .4 .6 .3-.5 .4 .4 .4 .1 .7-.4 .4-.2 .3 0 .4 .5 .3-.2 .4 .8 .4-1.1 .7 .3 .4 0 .3 .6 .4-.8 .4 .1 .3 .1 .4-.4 .7 .5 .4-.5 .7 .6 .4 .5 .7-.6 .4 .2 .3-.5 .4 .7 .7-.6 .4-.3 .7 .4 .4-.4 .3-.1 .4 .4 .3 .3 .4-.4 .4 .5 .3-.8 .4 .3 .4 .4 .3-.9 .4 1.1 .4-.8 .7 .5 .3 .3 .4 .2 .4-.7 .3 .4 .4-.7 .4 .3 .7-.6 .4 1.2 .3-.6 .4 .2 .3-.4 .4 .3 .4 .1 .3 .1 .4-.2 .4 .4 .3-.7 .4 1.2 .4-1.1 .7 .1 .3 .1 .4-.4 .4 .1 .3 0 .4 .4 .4-.3 .7 .3 .3-.5 .4 .8 .4-.4 .3 .4 .4 .2 .4-1.1 .7 .3 .4 .5 .7-.6 .3 .9 .4-.9 .4 .1 .3-.5 .4 1 .4-1 .3 .6 .4-.1 .4-.1 .3-.5 .4 .4 .3-.3 .4 .6 .4-.2 .3-.1 .4 .8 .4-.5 .3 0 .4-.2 .4-.3 .7 .4 .3 .1 .8 .5 .3-.4 .4 .2 .4 .2 .3-.8 .4 .6 .3 .1 .4 .2 .4-.9 .3-.1 .8 .5 .3-.2 .4 0 .4 .1 .3 0 .4 .6 .3-.6 .4 .2 .4-.1 .3 0 .4 .4 .4-.5 .3-.2 .4 1 .4-.2 .3-1 .4 .9 .3-.7 .8-.4 .3 .7 .4 .2 .4 0 .3 0 .4 .3 .3-.2 .8-.2 .3-.4 .8 .2 .3 .6 .4-.7 .4 .2 .3 .6 .4-.5 .3 .1 .8-.4 .3-.4 .4 .8 .4-.3 .3 .4 .4-.2 .4 .3 .3-.4 .4-.2 .3 .3 .4-.6 .4 .5 .3-.3 .4 .4 .4-.1 .3-.6 .4 .9 .4-.6 .3 .8 .4-.5 .3-.3 .4-.5 .4 .5 .3 .2 .8 .2 .3-.2 .7-.4 .4 .7 .4 0 .3-.6 .8 .5 .3-.1 .4-.2 .4 .2 .3 .2 .7-.5 .4 .6 .4-.2 .3-.3 .4 .7 .4-.5 .3-.3 .4 .5 .4-.5 .3-.5 .7 1.1 .4-1.1 .4 .5 .3-.1 .8 .6 .3-.2 .4 0 .4-.6 .3 .1 .4 .5 .3-.1 .4-.1 .4-.3 .3 .1 .4 .7 .4-.7 .3 .7 .4-.2 .3 .3 .4-.3 .4-.4 .3 .2 .4-.3 .4 0 .3 .4 .4 .1 .4-.6 .3 .2 .7-.2 .4 .5 .4 .2 .3-.3 .4 .2 .4 .1 .3 0 .4-.2 .4 .1 .3-.3 .7-.3 .4 .3 .4 .1 .3-.1 .4 .1 .4-.1 .3 .3 .4-.2 .4 .5 .3-.8 .4 .3 .3-.1 .4 .6 .7-.2 .4 .4 .4-1 .3 .1 .4 .2 .3-.3 .4 1 .7-1 .4 .1 .4 .3 .3-.2 .4 .1 .4 .2 .3 0 .4 .2 .3-.3 .4 0 .4-.3 .3 .8 .4-.5 .7 .2 .4-.1 .4-.6 .3-.1 .4 1.3 .3-1.1 .4 .9 .7-.2 .4 .1 .7-1 .4 1.2 .4-.8 .3 0 .4 .3 .3 0 .4-.1 .7 .3 .4-.3 .7-.1 .4 .4 .3-.6 .4 .7 .4-.2 .3 .2 .4 .2 .4-.7 .3 .3 .4-.6 .4 .5 .3-.4 .4 .6 .3-.1 .4-.4 .7 .5 .4-.3 .4-.4 .3 .2 .4 0 .4-.6 .3 .5 .4 .4 .3-.2 .4 .5 .7-.9 .4 .3 .4 .6 .3-.2 .4 .3 .3-1.3 .4 .9 .4 .3 .3-.9 .4 .4 .4 .4 .3 0 .4 0 .7-.3 .4-.2 .3 .5 .4-.1 .4-.4 .3-.2 .4-.3 .7 1.1 .4-.3 .4-.3 .3 .5 .4 .1 .3 .1 .4-.5 .4 .2 .3-.1 .4 .3 .4-.5 .3 .3 .4 .2 .4-.1 .3 .1 .4-.6 .3-.1 .4 .5 .4 0 .3-.9 .4 .4 .4-.2 .3 .3 .4 .1 .7-.4 .4-.3 .7 .7 .4-.3 .7 .4 .4 .2 .3 0 .4-.8 .3 .7 .4 0 .4 0 .3 .3 .4-.6 .4 .2 .7-.5 .4 .5 .3-.1 .4 .3 .3-.5 .4 .1 .4-.2 .3-.2 .4 1 .4-1 .3 1 .4-.1 .4 .3 .3-1.2 .4 .7 .3-.3 .4 .4 .4-.8 .3 1 .4-.4 .4 .3 .7-.8 .3 .4 .4 0 .4-.2 .7 .7 .4-.1 .7-.7 .4 .4 .3 .1 .4-.2 .3 .3 .4-.5 .4 0 .3 .5 .4-.8 .4 1 .3-.6 .4 .3 .4-.4 .3 0 .4 .2 .3 0 .4 .5 .4 .1 .7-.6 .4 .2 .7-.5 .4 .9 .7-1.2 .3 .7 .4 0 .4 0 .3-.2 .4 1 .4-1 .3 .3 .4-.3 .3 .4 .8-.4 .3-.2 .4 .4 .4-.2 .3 .5 .4-.3 .4-.2 .3-.5 .4 .9 .3-.3 .4 .2 .4-.3 .3 .4 .4-.5 .4 .6 .3-.9 .4 .5 .4 .1 .7-.1 .3-.1 .4-.2 .4 .3 .3 .3 .4 .2 .4-.3 .3 .2 .4-.7 .3 .7 .8-.4 .3-.4 .4 1 .4-.5 .3-.4 .4 .9 .4-.8 .3 1 .4-.7 .3 .3 .8-.5 .3-.3 .4 .7 .4-.8 .3 0 .4 1 .4-.5 .7-.4 .3 .2 .8 .4 .3-.4 .4 .5 .4-.3 .3 0 .4 .3 .4-1 .3 .7 .4-.7 .3 .4 .8 .6 .3-.1 .4-.2 .4 .1 .3 .4 .4-1.2 .3 0 .8 .7 .3 .1 .4 .3 .4-.5 .3 .2 .8-.4 .3-.4 .4 .8 .3-.1 .4 .1 .4-.2 .3 .5 .4-.9 .4 .4 .3 .6 .8-.8 .3 .1 .4 .5 .3-.5 .8 .5 .3-.4 .4 .5 .4-.2 .3 .3 .8-.8 .3 .5 .4-.2 .3-.4 .4 1 .4-.5 .3-.2 .4 0 .4 .3 .3 .5 .7-1 .4 .6 .4-.3 .3 .1 .4-.3 .4 .5 .3-.3 .8 .4 .3-.4 .4-.3 .3 .2 .4 .4 .4 0 .3 .2 .4-.1 .4 .4 .3-.8 .8 .1 .3-.9 .4 .9 .3-.3 .4 .7 .4-.3 .3 .1 .4-.3 .4 .4 .3-.1 .4 0 .4-.3 .3 .5 .7-.6 .4 .1 .4-.3 .3 .3 .8 0 .3-.2 .7 .3 .4-.3 .4 .5 .3-.5 .4 .7 .4-.9 .3 .7 .4-.2 .4 .1 .3-.3 .4 .8 .3-.5 .4-.3 .7 .6 .4-.8 .4-.2 .3 .9 .4-.2 .4 .3 .3-.2 .7-.9 .4 1.1 .4-1 .3 .6 .4 .1 .4 0 .3-.3 .4 .3 .4-.1 .3 0 .7-.1 .4 .2 .4 .1 .3-.4 .4 .1 .4 .1 .3 .6 .4-.6 .3 .2 .4 .1 .4-.2 .3 .2 .4 .3 .7-.9 .4 .3 .4 .3 .3-.3 .4 .6 .3-1.1 .4 .1 .4 .4 .3-.1 .4 .3 .7-.1 .4 .1 .4-.4 .3 .6 .4-.6 .3 .5 .4-.4 .7-.5 .4 1.1 .7-1 .4 .5 .3-.5 .4 .7 .7-1 .4 .5 .4 0 .3 .3 .4 0 .4-.3 .3 .3 .4-.6 .3 .8 .4 .1 .4-.5 .3 .7 .4-.7 .7-.4 .4 1 .7-.7 .4 .4 .3-.3 .4 .7 .7-.7 .4 .4 .4-.4 .3 .1 .4 .2 .4 .2 .3-.3 .4-.1 .3 .2 .4-.3 .7 .6 .4-.4 .4-.4 .3 .2 .4 .3 .3 .3 .4-.5 .4 0 .3-.3 .4 .4 .7-.1 .4-.4 .4 .2 .3-.4 .4 .8 .3-.5 .4 .3 .4-.4 .3 .6 .4-.4 .4 0 .3 .6 .4-.3 .7 .1 .4 .1 .3 .2 .4-.6 .4 .1 .3 0 .4 .1 .4-.1 .3 .3 .4 .1 .4-.5 .3 .1 .4-.1 .7 .6 .4 0 .7-1 .4 .4 .3 .5 .4-.7 .7 .5 .4-.4 .7 .3 .4-.1 .3-.3 .4 .2 .4 .7 .3-.3 .4-.7 .3-.2 .4 1 .4-.7 .3 .9 .4-.9 .4 .4 .3-.4 .4 .2 .4 .4 .3 .1 .4 .1 .7 .6 .4-.7 .3-.4 .4 .2 .4-.3 .3 .3 .4-.3 .4 0 .3 .3 .4 .3 .3 .2 .4-.8 .4 .2 .3 .6 .4-.4 .4-.1 .3-.6 .4 .1 .3 .4 .4-.3 .4 .8 .7-.4 .4 .3 .3-.8 .4 .5 .4-.6 .3 1 .4-.8 .3 0 .4 .6 .4-.4 .3 0 .4-.1 .4 .3 .7 .2 .4-.4 .3 .3 .4-.2 .3 .8 .4-.7 .4 .5 .7-1.1 .4 .4 .3 .2 .4-.4 .3 1 .8-1.1 .3 .5 .4 .5 .4-.3 .7-.5 .4 .1 .3-.2 .4 .2 .3 0 .4-.3 .4 1 .3-1.5 .4 .7 .4-.6 .3 .7 .4-.4 .4 .3 .7 .1 .3 .1 .4-.5 .4 .2 .3-.3 .4 1 .4 .2 .7-1.2 .4 .9 .7 0 .3-.3 .4-.4 .4 .4 .3-.1 .4 .6 .4 .1 .7-.7 .3 .3 .4-.3 .4 0 .3-.1 .4 .4 .4-.2 .3-.6 .4 .8 .4-.1 .3 .1 .4-.5 .3 .6 .4 .1 .4-.2 .3 .2 .8-1 .3 .4 .4 0 .4 0 .7 .7 .3-.2 .4-.6 .4 .7 .3-1 .4 .9 .4-.2 .3 .2 .4 .1 .4-.3 .3-.1 .4 .1 .3-.3 .4 .1 .4-.4 .3 .6 .4 .2 .4-.1 .3-.2 .4-.4 .3 .3 .4 .2 .4-.2 .3 .5 .4-.3 .4 .1 .3 .1 .4-.5 .4 .5 .3-.1 .4 .2 .3-.5 .4 .4 .4-1 .3 1 .4-.6 .4 .1 .3-.1 .8 .6 .3-1 .4 .6 .3 .4 .4-.8 .4 .5 .3 .2 .4-.4 .4 .1 .3-.1 .4 .2 .4-.4 .3 .2 .4 .3 .3-.1 .4-.4 .4 .4 .3 .2 .8-.4 .3 0 .4 .6 .3-.1 .4-.2 .4-.4 .3 .2 .8-.4 .3 .2 .8 .3 .3 .3 .4-.4 .3 .4 .4-.6 .4 .8 .3-.9 .8 .6 .3-.3 .8 .1 .3 .4 .4 .5 .3-1.2 .4 .3 .4-.3 .3 1.1 .4-.7 .4 .2 .3-.4 .4-.3 .3 .8 .4-.6 .4 0 .3 .9 .4-.7 .4 0 .3 .1 .8-.5 .3 .1 .4-.1 .3 .1 .4 .3 .7 .4 .4 .2 .4-.4 .3-.3 .4 .1 .4 0 .3-.3 .4 0 .3 .4 .4-.1 .4 .5 .3-.9 .4 .4 .4 .8 .3-.8 .4 0 .4-.3 .3 .3 .4-.2 .3 .4 .4-.5 .4 .6 .3-.3 .4-.1 .4 .2 .3-.4 .7 .2 .4 0 .7-.1 .4 .5 .4-.3 .3 .1 .4 0 .4-.1 .3 0 .4 .4 .3-.3 .4-.4 .7 .9 .4-.4 .4-.3 .3 .5 .4-.5 .4-.4 .3 .3 .4 .5 .3-.4 .4 .7 .4-.6 .3 .6 .4-.4 .4 .4 .3-.4 .4-.1 .4-.5 .3 .3 .4-.5 .3 .2 .4 .4 .4-.2 .3 .5 .4-.3 .7 .3 .4-.6 .3 .5 .4-.3 .4 .2 .3-.4 .4 .1 .4 .7 .3-.6 .4-.8 .4 .6 .3-.1 .4 .2 .3-.3 .4 .7 .4 0 .3-.1 .4 .3 .7-.8 .4 .6 .4 0 .3-.6 .4 .2 .3 .3 .4 .1 .7-.2 .4-.4 .7 .7 .4-.3 .4 .4 .3-.2 .4-.8 .3 1 .4-.3 .4-.4 .3 .2 .4 .2 .7 .2 .4-.6 .3 .3 .4-.1 .4-.1 .3 .7 .4 0 .7-.8 .4 .3 .4-.3 .3 .8 .4-.4 .7 .1 .4-.4 .3 1.1 .4-.8 .4-.5 .3 .5 .4 .3 .4-.5 .3 .5 .4-.7 .3 .5 .4-.7 .4 .4 .3 .5 .4-.4 .4 0 .3-.2 .4 .6 .3-.7 .4 .6 .4 .3 .3-.5 .4 .1 .4-.2 .3-.5 .4 .5 .4-.6 .3-.1 .4 0 .3 .6 .4-.4 .4 0 .7 .5 .4-.5 .7 .4 .4 .4 .3-.5 .4 0 .3 .6 .4 0 .4-.8 .3 .5 .4-.4 .4 .4 .3 .3 .4-.2 .4 .5 .3-.9 .4 .7 .3-1.2 .4 1 .4-.4 .7 .6 .4-.5 .3 .2 .4-1 .3 .9 .4 .7 .4-.8 .3 .3 .4-.1 .4 .1 .7 .2 .4-.6 .7 .1 .3 .1 .4-.6 .4 .7 .7-.8 .4 .5 .7 .4 .4-.2 .7-.1 .3-.5 .4 .9 .4-.5 .7-.1 .4 .3 .3 .1 .4-.3 .4-.1 .7 .3 .3-.6 .4 .6 .4-.1 .3-.5 .4 .5 .4 0 .3 .1 .4-.6 .3 .5 .4-.5 .4 .2 .3 .3 .4-.3 .4 .5 .3-.9 .4 .9 .4-.3 .3-.2 .4 .2 .3-.3 .4-.1 .4 .9 .3-.3 .4-.3 .4 .1 .3 .2 .4-.3 .4 .5 .7-.7 .3 .3 .4-.4 .4 1.2 .3-.3 .4 0 .4-.5 .3-.4 .4 1 .4-.5 .3-.5 .4 .8 .3-1.1 .4 1.2 .4-.1 .3 .3 .4-.8 .4 .8 .3-.6 .4 0 .3 .2 .8-.1 .3-.2 .8 .4 .3 .1 .4-.8 .4-.1 .7 1 .3-.5 .8-.3 .3 .3 .4 .3 .4-1 .3 .7 .4 .2 .4-.4 .3-.2 .4 .5 .3-.3 .8 .3 .3 0 .4-.2 .4 1.1 .3-1 .4 .4 .4 0 .3-.5 .4 .2 .3 0 .4-.1 .4 .6 .3-.1 .4-1 .4 .8 .3-.2 .4-.3 .3 .3 .4-.1 .4 .6 .3-.2 .4-.5 .4 0 .3-.3 .8 .6 .3-.2 .4 .2 .3-.4 .4 .4 .4-.4 .3 .1 .4-.4 .4 .8 .3-.3 .4 .5 .4-.8 .3 .4 .4 .1 .3 .2 .8-.3 .3 0 .4-.6 .4 .6 .3-.1 .4 .7 .3-.5 .4-.9 .4 .1 .3 1.3 .4-1.2 .4 .6 .3 .3 .8-.7 .3 .1 .4 0 .3-.3 .4 .5 .4-.2 .3-.7 .8 1.4 .3-1 .8 .9 .3-1 .7 .6 .4-.1 .4 .7 .3-.7 .4 .8 .4-.3 .3-.9 .8 1.1 .3-.4 .4-.5 .3 .4 .4-.1 .4 .1 .3 .3 .4-.8 .4 1 .3-.5 .4 .4 .3-.4 .4-.1 .4 .1 .3-.2 .4-.1 .4 .9 .3-.7 .8-.5 .3 .2 .4 .8 .3-.3 .4-.5 .4-.1 .3 .5 .4 0 .4-.3 .3-.2 .8 .7 .3 .3 .4-.4 .3 .3 .4-.2 .4-.7 .3 .3 .4 .3 .4-.5 .3 .8 .4-.7 .4 .4 .3-.3 .4-.3 .3 .8 .4-.6 .7 .3 .4 .5 .4-.6 .3 0 .4 0 .3 .1 .4 .3 .4-.9 .3 .6 .4-.5 .7 .7 .4-.7 .4 0 .3 .5 .7-.2 .4 .6 .4-.3 .3 .5 .4-1 .4 1 .3-.6 .4 .4 .4-.5 .3 .1 .4 .1 .3-.3 .4 .2 .4-.4 .3 .2 .4 .5 .7-.4 .4-.2 .4-.2 .3 .5 .4-.2 .3 .1 .4-.1 .4 .5 .3-.2 .4-.4 .4-.2 .3 .3 .4 .2 .3-.2 .4 .3 .4-.8 .3 1.1 .4-.6 .4-.3 .3 .5 .4 .2 .7-.4 .4-.3 .3 .4 .4-.1 .4-.1 .3 .1 .4-.1 .4 0 .3 0 .4 .5 .4-.1 .3 0 .4-.8 .3 .7 .4 0 .4-.5 .3 .2 .4 .3 .4-.5 .3 .7 .4 .1 .7-.8 .4 .4 .3-.4 .4 .8 .4 .2 .3-.7 .4 .2 .4 .5 .3-.7 .4-.6 .7 1.2 .4-.3 .3 .1 .4 .4 .4-.4 .3 .1 .4-.2 .4 0 .3-.2 .4-.2 .7 .2 .4 .3 .7-.4 .4-1 .3 1.2 .4-.2 .7-.1 .4 .9 .3-.6 .4 .4 .4-.8 .7 .9 .4-.3 .3-.9 .4 .3 .3 0 .4 .5 .4-.3 .3 .4 .4-.2 .4-.5 .7 .4 .4 .3 .3-.1 .4 .3 .3 .1 .4-.5 .4-.2 .7-.4 .4 .5 .3-.2 .4 .8 .4-.8 .3-.6 .4 .6 .3-.3 .4 .2 .4 0 .3-.1 .4 .8 .4-.3 .3-.6 .4 .7 .4-.6 .3 .6 .4-.1 .3 .2 .4-.6 .4 .2 .3 .8 .4-.3 .4 0 .3-.6 .4 .1 .3 .7 .4-.8 .4-.2 .3 .4 .4-.2 .4-1 .7 1.3 .4-.3 .7 .6 .3-.3 .4 .3 .4-1 .3 1 .4-1 .4 .8 .3 .3 .4-.4 .4-.6 .3 .4 .4-.4 .3 .2 .4 .2 .4 .3 .3-.5 .4 .2 .4 .3 .7-.4 .4 .1 .7-.7 .3 .6 .4-.1 .4 0 .7 .3 .4 .2 .3-.1 .4 .2 .3-.5 .4 .6 .4-.4 .3 .3 .4 0 .4-.5 .3 .1 .4-.2 .4 .6 .7-.3 .3-.2 .4 0 .4-.3 .3 .9 .4-.4 .4 .2 .3-.8 .4 1.1 .4-.2 .3-.7 .4 .7 .3 .3 .4-1.1 .4 .2 .3 .5 .4 .1 .4-.2 .3 .2 .4-.1 .4-.5 .3 .6 .4-.2 .3 .1 .4-.5 .4 .3 .3-.4 .4 .8 .4-.2 .7-.2 .3 .1 .4-.8 .4 .9 .3-.1 .4 .3 .4-.3 .3-.8 .4 .6 .4 .4 .3-.6 .4 .4 .3-.3 .4 .6 .4-.2 .3-.7 .4 .5 .4-.1 .3-.1 .4-.1 .4 .5 .3 .2 .4-.4 .3-.3 .4 .4 .4-.5 .3 .9 .4-.3 .4 .1 .3 .4 .4-1.4 .3 .7 .4-.7 .4 .5 .3 .6 .4-.8 .4 .2 .3-.5 .8 .8 .3-.3 .4 .3 .3 .3 .8-.8 .3 .7 .8-.7 .3 .3 .4 .2 .4-.4 .3 .5 .4-.5 .3 .1 .8 .4 .3 .1 .4-.3 .4 .4 .3-.4 .4-.1 .4 .2 .3-.3 .4-.1 .3 .7 .4-.4 .4 .3 .3-.1 .8-.5 .3-.1 .4 .6 .3-.2 .4 .1 .4 0 .3-.6 .8 1.1 .3-.7 .4-.1 .4 .6 .3-.9 .4 .2 .3-.3 .4 1 .4-.3 .3 .2 .8-.1 .3 .3 .4-.5 .4 .5 .3-.8 .7 1.1 .4-.5 .4-.4 .3-.8 .4 1 .4-.6 .3-.2 .8 1.1 .3 0 .4 .2 .3-.7 .4 0 .4 .4 .3-.8 .4 .7 .4-.2 .3-.3 .7 .1 .4 0 .4 .1 .3-.3 .4 0 .4 .7 .3-.5 .8 .3 .3-.6 .4 .4 .3 0 .4-.3 .4 .7 .3-.1 .4-.1 .4 .2 .3-.4 .4 .4 .4-.4 .3 .1 .4 0 .3-.2 .4 .3 .4-.3 .3 .3 .4-.1 .4 0 .3-.3 .8 .6 .3-1 .7 .7 .4-.2 .4 .5 .3-.6 .4 .5 .4-.4 .3 .1 .4 .4 .3-.5 .4 .2 .4 .1 .3-.1 .4-.3 .7 .4 .4 0 .4-.1 .3 .5 .7-.4 .4 .5 .4-1.2 .3 .6 .4-.5 .4 .6 .3-.1 .4 0 .4 .6 .3-.2 .4-.6 .3 .3 .4-.2 .7 .5 .4 0 .4-.1 .3 .3 .4-.2 .3-.4 .4-.4 .4 0 .3 .2 .4 .4 .4 .1 .3-.8 .4 .4 .7 .4 .4-1 .3 .5 .4 .1 .7 .2 .4-.4 .4 .1 .3-.3 .4 1.1 .4-.8 .3 .1 .4-.2 .3 .1 .4 .9 .7-1.2 .4 .3 .7 .8 .4-1 .4 .4 .3-.2 .4 .5 .3-.7 .4 .5 .4 0 .3 .3 .4-.4 .4-.1 .3 .4 .4-.1 .3-.4 .4 .6 .4-.5 .3-.2 .4 .3 .4 .5 .3-.5 .4-.4 .7 .8 .4-.7 .3 .2 .4-.4 .4 0 .3 .3 .4 .3 .4 .6 .3 0 .4-.6 .4 .1 .3-.2 .4 .3 .7-.6 .4 .2 .3 .1" stroke="#1668dc" stroke-width="7"/>
<g fill="#00f" stroke="none"><path d="M417.6 85.3L440.1 123.8L395.1 123.8Z"/><path d="M600.5 1433.5L623.0 1472.0L578.0 1472.0Z"/><path d="M782.2 1438.6L804.7 1477.1L759.7 1477.1Z"/><path d="M963.9 1438.9L986.4 1477.4L941.4 1477.4Z"/><path d="M1145.6 1439.3L1168.1 1477.8L1123.1 1477.8Z"/><path d="M1327.3 1439.3L1349.8 1477.8L1304.8 1477.8Z"/><path d="M1509.0 1439.8L1531.5 1478.3L1486.5 1478.3Z"/><path d="M1690.7 1439.8L1713.2 1478.3L1668.2 1478.3Z"/><path d="M1872.4 1439.8L1894.9 1478.3L1849.9 1478.3Z"/><path d="M2054.1 1440.3L2076.6 1478.8L2031.6 1478.8Z"/><path d="M2235.8 1440.3L2258.3 1478.8L2213.3 1478.8Z"/></g>
</g>
<rect x="305.0" y="24.2" width="1926.0" height="1553.8" fill="none" stroke="#000" stroke-width="5.5"/>
<path d="M305.0 1466.9h30 M305.0 1244.9h30 M305.0 1022.9h30 M305.0 801.0h30 M305.0 579.0h30 M305.0 357.0h30 M305.0 135.0h30 M305.0 1355.9h15 M305.0 1133.9h15 M305.0 912.0h15 M305.0 690.0h15 M305.0 468.0h15 M305.0 246.0h15 M414.0 1578.0v-30 M777.4 1578.0v-30 M1140.8 1578.0v-30 M1504.2 1578.0v-30 M1867.6 1578.0v-30 M2231.0 1578.0v-30 M595.7 1578.0v-15 M959.1 1578.0v-15 M1322.5 1578.0v-15 M1685.9 1578.0v-15 M2049.3 1578.0v-15" stroke="#000" stroke-width="5" fill="none"/>
<g font-family="'Liberation Serif',serif" font-size="81" fill="#000"><text transform="translate(300.6 1487.6) scale(1 1.025)" text-anchor="end">0</text><text transform="translate(300.6 1265.6) scale(1 1.025)" text-anchor="end">20</text><text transform="translate(300.6 1043.6) scale(1 1.025)" text-anchor="end">40</text><text transform="translate(300.6 821.7) scale(1 1.025)" text-anchor="end">60</text><text transform="translate(300.6 599.7) scale(1 1.025)" text-anchor="end">80</text><text transform="translate(300.6 377.7) scale(1 1.025)" text-anchor="end">100</text><text transform="translate(300.6 155.7) scale(1 1.025)" text-anchor="end">120</text><text transform="translate(414.0 1674.2) scale(1 1.025)" text-anchor="middle">0</text><text transform="translate(777.4 1674.2) scale(1 1.025)" text-anchor="middle">1000</text><text transform="translate(1140.8 1674.2) scale(1 1.025)" text-anchor="middle">2000</text><text transform="translate(1504.2 1674.2) scale(1 1.025)" text-anchor="middle">3000</text><text transform="translate(1867.6 1674.2) scale(1 1.025)" text-anchor="middle">4000</text><text transform="translate(2231.0 1674.2) scale(1 1.025)" text-anchor="middle">5000</text></g>
<text font-family="'Liberation Serif',serif" font-size="114.2" x="1269" y="1835.3" text-anchor="middle">epoch</text>
<text font-family="'Liberation Serif',serif" font-size="114.6" transform="translate(109 800.2) rotate(-90)" text-anchor="middle">Training loss</text>
<rect x="758.6" y="46.7" width="1438.8000000000002" height="366.2" fill="#fff" stroke="#828282" stroke-width="3.4"/>
<path d="M767 112.3H987.5" stroke="#ec3030" stroke-width="6.3"/>
<g fill="#f00"><circle cx="877.5" cy="111.8" r="18.5"/></g>
<text font-family="'Liberation Serif',serif" font-size="95.5" x="1007" y="145.8">3-segmented nanorings</text>
<path d="M767 230.7H987.5" stroke="#1668dc" stroke-width="6.3"/>
<g fill="#00f"><path d="M877.5 204.7L900.0 243.7L855.0 243.7Z"/></g>
<text font-family="'Liberation Serif',serif" font-size="95.5" x="1007" y="264.7">4-segmented nanorings</text>
<path d="M767 347.8H987.5" stroke="#4b4b4b" stroke-width="7"/>
<g fill="#000"><rect x="860.2" y="330.6" width="34.5" height="34.5"/></g>
<text font-family="'Liberation Serif',serif" font-size="95.5" x="1007" y="381.8">Cross-arranged nanowire-pairs</text>
<rect x="969.0" y="477.0" width="1157.8000000000002" height="636.2" fill="#fff" stroke="none"/>
<g clip-path="url(#ci)" fill="none" stroke-linejoin="round" stroke-linecap="round">
<path d="M969 526.7l1.3 4.6 1.3-.5 1.3-1.3 1.2 2.3 1.3 2.8 1.3 3 1.3 1 1.3 1.6 1.3-.4 1.3 2.3 1.3 4 1.2-2.9 1.3-2.1 1.3 4.9 1.3 2.7 1.3-2.3 1.3-.1 1.3 1 1.2 .2 1.3 5.2 1.3-2.8 1.3 2.6 1.3-4.8 1.3 5.8 1.3 1.4 1.2 2.9 1.3 3.6 1.3-1.2 1.3 4.4 1.3-2.4 1.3 4.5 1.3 1 1.3 2.6 1.2-5.9 1.3 11.4 1.3-1.9 1.3 1.3 1.3 2.4 1.3-.7 1.3 7.7 1.2-1.3 1.3 0 1.3-6.5 1.3 7.3 1.3 3.5 1.3 3 1.3 1 1.2-1.2 1.3 4.2 1.3 3.9 1.3 3.7 1.3-3.6 1.3 5.3 1.3 1.4 1.3 .1 1.2 2.5 1.3 4.5 1.3 .5 1.3 1.3 1.3 7.5 1.3-.4 1.3 2 1.2 5.8 1.3 .8 1.3-1 1.3 4.7 1.3-.1 1.3 5.4 1.3 2.3 1.3 5.5 1.2 5 1.3 .9 1.3 4.1 1.3 2.8 1.3 5.8 1.3 .6 1.3 3.4 1.2 2.6 1.3 8.9 1.3-.4 1.3 5.9 1.3 1.2 1.3 7.7 1.3 3.6 1.2-4.6 1.3 14.4 1.3 2.1 1.3 2 1.3 3.9 1.3 2.8 1.3 3.3 1.3 10.6 1.2-1.2 1.3 4.3 1.3 6.6 1.3 2.4 1.3 4.4 1.3-.9 1.3 8.8 1.2 3.8 1.3 1.9 1.3 7.9 1.3 2.4 1.3 9.9 1.3 .1 1.3 8.8 1.2 4 1.3 7.3 1.3 6.6 1.3-1.7 1.3 4.9 1.3 7 1.3 .7 1.3 2.8 1.2 5.3 1.3 3.5 1.3 3 1.3 1.3 1.3 2.6 1.3 4.1 1.3 3.2 1.2 3.3 1.3 1.4 1.3-2.4 1.3 3.3 1.3 1.8 1.3 .7 1.3 1.6 1.3 3 1.2 2 1.3 6.4 1.3-2.6 1.3 2.7 1.3-3.2 1.3 4.6 1.3 5 1.2-1.8 1.3 1 1.3 4.3 1.3-3.4 1.3 2.3 1.3 6.4 1.3 .8 1.2 1.4 1.3 2 1.3-.3 1.3 1.6 1.3 1.7 1.3 .5 1.3 5.2 1.3-1 1.2 1.6 1.3 4 1.3-5.4 1.3 .6 1.3 3.4 1.3 1.1 1.3 2.8 1.2-1 1.3-.1 1.3-.6 1.3 4.8 1.3 1.4 1.3-1.3 1.3 .5 1.2 1.8 1.3 2.7 1.3-.1 1.3-.5 1.3-.5 1.3-.3 1.3 2 1.3 .6 1.2 1.1 1.3-.9 1.3 2.8 1.3 .7 1.3-1.9 1.3 4.6 1.3-3.5 1.2-13.5 1.3 16.9 1.3-5.2 1.3 5.2 1.3-1 1.3-.7 1.3 3 1.3-2.6 1.2 2.1 1.3 .8 1.3 1.4 1.3-2.3 1.3 1.3 1.3 1.8 1.3 0 1.2-.9 1.3 2.8 1.3-2.6 1.3 1.9 1.3 .7 1.3-1.8 1.3 2.7 1.2 .4 1.3-2.8 1.3-7.9 1.3 13.4 1.3-2.7 1.3-.8 1.3 4 1.3-13.9 1.2 12.4 1.3-.1 1.3-10.9 1.3 12.5 1.3 .9 1.3-2.4 1.3 2.6 1.2-.6 1.3 .5 1.3 .2 1.3 1.6 1.3-2 1.3 3.3 1.3-1.9 1.2 .5 1.3-.3 1.3 3.3 1.3-1.6 1.3 .6 1.3-1.4 1.3-.1 1.3 1.8 1.2-.6 1.3-.7 1.3 4.6 1.3-.7 1.3-1.5 1.3 .2 1.3 .6 1.2 .3 1.3-.4 1.3 1.9 1.3 1.1 1.3-2.5 1.3 1.7 1.3 1.1 1.3-1.2 1.2-1.5 1.3 3 1.3 1.2 1.3-1 1.3 2 1.3 .2 1.3-8.7 1.2 8.2 1.3-.2 1.3 .6 1.3-1 1.3 1.2 1.3 1.8 1.3-2.7 1.2 3.6 1.3-2.3 1.3-.7 1.3 2 1.3 1.3 1.3 3.5 1.3-3.2 1.3-.5 1.2 .6 1.3 1.2 1.3-2.3 1.3 .9 1.3 1.3 1.3-1.5 1.3 3.4 1.2-2.6 1.3 2.2 1.3-1.5 1.3 2.3 1.3 0 1.3-1.3 1.3 .5 1.3-7.5 1.2 9.6 1.3 1.5 1.3-.3 1.3-2.5 1.3 .6 1.3 .6 1.3 1.7 1.2 .4 1.3-2.6 1.3 .6 1.3 .7 1.3 4.1 1.3-3.2 1.3-3.4 1.2 3.5 1.3 2.3 1.3 .6 1.3-1.6 1.3 2 1.3-1.8 1.3 .8 1.3 .6 1.2 .3 1.3-1.1 1.3 .7 1.3 .1 1.3 1.4 1.3-1.8 1.3 1.6 1.2 .3 1.3-1 1.3 1.3 1.3 .1 1.3 .8 1.3-.2 1.3 .3 1.2-1.5 1.3 1 1.3 1.9 1.3-.2 1.3-.4 1.3 2.7 1.3-.9 1.3-.6 1.2-1.5 1.3 4.4 1.3-2.5 1.3 0 1.3 1.4 1.3 1.1 1.3-1.4 1.2 1.1 1.3-1 1.3-1.6 1.3 .9 1.3 2.7 1.3-1.4 1.3-.9 1.3 3.3 1.2-1.3 1.3 1.3 1.3-1.8 1.3 .2 1.3 1.4 1.3-1 1.3 1.2 1.2-.1 1.3 .4 1.3-19.8 1.3 20.4 1.3-6 1.3 6.8 1.3-.8 1.2 .2 1.3-.6 1.3 1.5 1.3-.9 1.3 .5 1.3 .5 1.3-1.5 1.3 1.4 1.2 .3 1.3-.1 1.3 1.3 1.3-1 1.3 1.9 1.3 1 1.3-1.9 1.2 2.1 1.3-2.4 1.3-2.1 1.3 .4 1.3 3.1 1.3 .6 1.3-.2 1.2 2.7 1.3-4.4 1.3 6.1 1.3-3 1.3 1.1 1.3-1.8 1.3 1.6 1.3 1 1.2-.9 1.3-.6 1.3-4.1 1.3 5.7 1.3-2.7 1.3 1.7 1.3-1.5 1.2 1.5 1.3 .5 1.3-1.8 1.3 2.9 1.3-9.8 1.3 8.1 1.3 1.9 1.3-.5 1.2 2.1 1.3-3.4 1.3 .6 1.3 1.9 1.3-9.5 1.3 7.5 1.3 4.5 1.2-3 1.3-.8 1.3 1.5 1.3-1.8 1.3 .1 1.3 5 1.3-20.8 1.2 17.1 1.3-10.7 1.3 12.4 1.3 1.8 1.3-.5 1.3-3.6 1.3 2.5 1.3 .4 1.2 1.8 1.3 .2 1.3-8 1.3 7.3 1.3-3 1.3 1.7 1.3 .4 1.2-1 1.3 1.7 1.3-.9 1.3-2.1 1.3 1.6 1.3 3.2 1.3-1.7 1.2 3.8 1.3-3 1.3-2.5 1.3-20.1 1.3 22 1.3 .9 1.3-2.8 1.3 2.4 1.2 .2 1.3-.4 1.3-3.5 1.3 4.9 1.3-1.1 1.3 .1 1.3-2.1 1.2 1.4 1.3 1.5 1.3 0 1.3-5.9 1.3 5.5 1.3-1.5 1.3 4.3 1.3-1.9 1.2-2.9 1.3 3.7 1.3-2.1 1.3 3.6 1.3-2.5 1.3-1.5 1.3-1.1 1.2 .8 1.3 4.1 1.3-1.8 1.3 .2 1.3 .6 1.3-7.6 1.3 5.7 1.2-3.3 1.3 1.4 1.3 4.4 1.3 .3 1.3-23.1 1.3 21.3 1.3-1.8 1.3-16 1.2 18 1.3-3.4 1.3 2.4 1.3 3.3 1.3-1.2 1.3-.6 1.3-1.8 1.2-17.2 1.3 17.6 1.3 1.9 1.3-1 1.3-2.1 1.3 1.2 1.3 2.8 1.2-8.7 1.3-1.1 1.3 5.1 1.3 5.6 1.3-2.2 1.3-.8 1.3 1.2 1.3-.1 1.2-8 1.3 7.9 1.3-1.1 1.3 .8 1.3-2 1.3 2.4 1.3-1.7 1.2 1 1.3 1.2 1.3-5.1 1.3 3.8 1.3 .9 1.3 2.5 1.3-5.8 1.3 1.5 1.2 .9 1.3-1 1.3-9.8 1.3 10.8 1.3-.2 1.3 .2 1.3-19.1 1.2 21.9 1.3-2.5 1.3 .1 1.3-19.2 1.3 20 1.3-.7 1.3-.1 1.2-.5 1.3-6.7 1.3 7.7 1.3-14.2 1.3 14.4 1.3-.4 1.3 2.5 1.3-1.4 1.2-.1 1.3-.4 1.3-4.8 1.3 7.5 1.3-3 1.3 1.8 1.3 .3 1.2-1.6 1.3-.6 1.3 .8 1.3-.2 1.3 .2 1.3-.2 1.3 .8 1.2 1.6 1.3-1.5 1.3 1 1.3-1.3 1.3-4.8 1.3 1 1.3 6.9 1.3-4.8 1.2 7 1.3-3.1 1.3-2.2 1.3 1.3 1.3-.3 1.3 0 1.3-.6 1.2 3 1.3-.8 1.3-2.2 1.3-1 1.3 1.5 1.3-1.9 1.3-3.1 1.3 5.4 1.2-.3 1.3-.9 1.3 3.9 1.3-1.4 1.3 1.5 1.3-19.9 1.3 18.7 1.2-10.5 1.3 9.9 1.3-.1 1.3-1.8 1.3 3.9 1.3-4.3 1.3 2.9 1.2-1.1 1.3-14.7 1.3 15.5 1.3 1.5 1.3-1.9 1.3-.4 1.3-.7 1.3 4 1.2-1 1.3-1.6 1.3-.2 1.3-9.9 1.3 12.1 1.3-5.5 1.3 2.4 1.2 1 1.3-17.1 1.3 20.3 1.3-1.6 1.3 .5 1.3 0 1.3-1.9 1.2 1.3 1.3-.8 1.3 .6 1.3-.1 1.3-.6 1.3-3.8 1.3 4.7 1.3-3.9 1.2 4.7 1.3 1.3 1.3-22 1.3 21.7 1.3-1.5 1.3-.6 1.3 0 1.2-20.2 1.3 2.8 1.3 16.8 1.3-8.7 1.3 11.8 1.3-10.1 1.3-3 1.3 10.6 1.2-7.6 1.3 6.7 1.3 3.2 1.3-21.4 1.3 18.7 1.3 1.6 1.3-.1 1.2-.9 1.3-1.1 1.3-.8 1.3 1 1.3 3.4 1.3-3.9 1.3-15.6 1.2 11.2 1.3 6.7 1.3-17.8 1.3 18 1.3-8.5 1.3 4.8 1.3 4.9 1.3-1 1.2-.2 1.3-.4 1.3-2.8 1.3 .7 1.3 2 1.3-.8 1.3-17.6 1.2 20 1.3 .1 1.3-.9 1.3 3.1 1.3-2 1.3-4.4 1.3 4.7 1.3-1.8 1.2-14.1 1.3 15.5 1.3-1.7 1.3-.1 1.3-.3 1.3 .7 1.3 .8 1.2 .1 1.3-.2 1.3-10.4 1.3 13.2 1.3-4.1 1.3 1.9 1.3-3.8 1.2 1.6 1.3 .9 1.3-2.7 1.3 1.8 1.3 2.2 1.3-7.6 1.3 4.6 1.3 1.2 1.2-.1 1.3 2.5 1.3 1.2 1.3-6.7 1.3 2.7 1.3-11.5 1.3 12 1.2-.1 1.3-1.1 1.3 3.1 1.3-1 1.3 .5 1.3-6.2 1.3 6.7 1.2 0 1.3-3 1.3 1.5 1.3-.3 1.3 .8 1.3-1.8 1.3-14.9 1.3 17 1.2 .6 1.3-2.5 1.3 2 1.3 2.5 1.3-13.9 1.3-7.5 1.3 20 1.2-3.2 1.3-12.1 1.3 13.9 1.3-3.4 1.3 3 1.3 1.5 1.3-1.6 1.3-1.1 1.2-11.1 1.3 12.4 1.3 1.6 1.3-3.4 1.3 1 1.3 1.1 1.3-19.7 1.2 16.7 1.3 2.9 1.3-16.8 1.3 15 1.3 1.9 1.3-.3 1.3-4.6 1.2 5.9 1.3-.7 1.3 0 1.3-.3 1.3 1.5 1.3-.9 1.3 .1 1.3-2.3 1.2 1.6 1.3-10.5 1.3 4.7 1.3 7.2 1.3-.7 1.3-1.3 1.3-.2 1.2 1.8 1.3-3.1 1.3 2.1 1.3 1.2 1.3-2.4 1.3-4.3 1.3-9.4 1.2 16.1 1.3 .1 1.3-11.1 1.3-3.9 1.3 12.4 1.3 5.1 1.3-2.6 1.3-.7 1.2-3.1 1.3-4.8 1.3 2.8 1.3-9.4 1.3 14.1 1.3-.8 1.3-12.3 1.2 13.8 1.3-1.1 1.3 2 1.3-17 1.3 18 1.3-3.3 1.3 2.1 1.3-16.4 1.2 13 1.3 1 1.3-.7 1.3 3.9 1.3 .7 1.3-2.8 1.3 .5 1.2 .6 1.3 .1 1.3-1.9 1.3 .6 1.3-1.8 1.3-12.9 1.3 15 1.2-1.7 1.3 .1 1.3-16.1 1.3 17.8 1.3-8.2 1.3-11.4 1.3 17.5 1.3-16.8 1.2 18.5 1.3-.4 1.3-19.1 1.3 19.7 1.3-1.5 1.3 1.3 1.3-.4 1.2-1.3 1.3 3.1 1.3-15.6 1.3 14.2 1.3-.2 1.3 1.4 1.3-1.3 1.2 1.2 1.3 .1 1.3-.7 1.3-9.6 1.3 9.5 1.3-3 1.3-17.4 1.3 19.6 1.2-8.1 1.3 8.3 1.3 .7 1.3 .5 1.3-17.4 1.3 14.5 1.3 1.5 1.2 1.7 1.3-11.1 1.3 8.7 1.3-7.1 1.3 6 1.3 1.5 1.3 0 1.3 .7 1.2-.2 1.3-.4 1.3 2.4 1.3-18.2 1.3 14.1 1.3 3.7 1.3-1.8 1.2 3.2 1.3-2.7 1.3 1.5 1.3-.6 1.3-14.3 1.3 15.4 1.3-3.5 1.2 2.4 1.3-13.8 1.3 11.6 1.3-4.4 1.3 4.4 1.3 1.6 1.3-1 1.3-6.6 1.2 7.1 1.3-2.2 1.3 3 1.3-1.1 1.3 4.2 1.3-2.4 1.3 2.3 1.2-1.1 1.3-.6 1.3-1.7 1.3 2.6 1.3-3.6 1.3 0 1.3-9.9 1.2 10.8 1.3 2.8 1.3-16.1 1.3 2.9 1.3-1.6 1.3 .6 1.3 15 1.3-4 1.2 1.8 1.3 .7 1.3-1.2 1.3-1.2" stroke="#4b4b4b" stroke-width="4.3"/>
<g fill="#000" stroke="none"><rect x="955.8" y="521.5" width="26.5" height="26.5"/><rect x="1084.4" y="763.4" width="26.5" height="26.5"/><rect x="1213.0" y="909.4" width="26.5" height="26.5"/><rect x="1341.7" y="945.2" width="26.5" height="26.5"/><rect x="1470.3" y="948.2" width="26.5" height="26.5"/><rect x="1599.0" y="964.5" width="26.5" height="26.5"/><rect x="1727.6" y="974.9" width="26.5" height="26.5"/><rect x="1856.3" y="970.0" width="26.5" height="26.5"/><rect x="1984.9" y="979.5" width="26.5" height="26.5"/><rect x="2113.6" y="968.3" width="26.5" height="26.5"/></g>
<path d="M969 612.3l1.3 6.4 1.3 4.6 1.3-.7 1.2 .5 1.3 8.3 1.3 6.3 1.3-.6 1.3 7.9 1.3-.6 1.3 3.2 1.3 3.6 1.2-4.7 1.3 15.5 1.3-2.4 1.3 2.7 1.3 4.4 1.3 1.5 1.3-.3 1.2 4.7 1.3-.4 1.3 6.7 1.3 .9 1.3 2.1 1.3-.4 1.3 3.8 1.2 2.4 1.3 2.3 1.3 3.4 1.3 1.3 1.3 .2 1.3 1.4 1.3 5.8 1.3-1.6 1.2 3.1 1.3 1.8 1.3 2.9 1.3 1.3 1.3 2.2 1.3 2.8 1.3 .4 1.2 2.2 1.3 2.2 1.3-1.8 1.3 3.9 1.3 2.8 1.3 1.8 1.3-6.2 1.2 8.1 1.3 2.6 1.3 .2 1.3 2.4 1.3 .5 1.3-.2 1.3 1.4 1.3-1 1.2 4.9 1.3 4 1.3 0 1.3 2.9 1.3-.8 1.3 .2 1.3 .7 1.2 5.3 1.3-2 1.3 3.9 1.3 .1 1.3 3.7 1.3-.8 1.3-.9 1.3 4.8 1.2-.8 1.3-.5 1.3-1.5 1.3 3.8 1.3 5.7 1.3-1.1 1.3 .8 1.2 2.6 1.3 2 1.3 1.7 1.3 .8 1.3 .9 1.3-1.6 1.3 2.9 1.2 2.2 1.3 .5 1.3 1.2 1.3-.1 1.3 4.2 1.3 2.2 1.3-.3 1.3 .7 1.2 2.5 1.3 3.2 1.3 2.2 1.3-3.3 1.3 2.4 1.3 .2 1.3 1.8 1.2 .3 1.3 .1 1.3 1.5 1.3 2.4 1.3-.3 1.3 2.9 1.3 .6 1.2-.9 1.3 .8 1.3 2.1 1.3 2.4 1.3-2.1 1.3 2.7 1.3 .7 1.3-.6 1.2 .9 1.3 1.7 1.3 2 1.3-2.6 1.3 2 1.3-1.4 1.3 3.7 1.2-.3 1.3 6.3 1.3-4.6 1.3 2.5 1.3 1.6 1.3-.7 1.3 0 1.3 2.3 1.2-.9 1.3 .8 1.3 .8 1.3 1.3 1.3 2.3 1.3 .2 1.3 1 1.2 1.1 1.3-.4 1.3-.2 1.3 0 1.3 3.5 1.3 1.3 1.3-1.6 1.2 2.1 1.3-2.4 1.3 4.9 1.3 0 1.3-2.2 1.3 4 1.3-2 1.3 1.1 1.2-2 1.3-1.7 1.3 6.2 1.3-.1 1.3 3.7 1.3-1.3 1.3-.5 1.2 2.6 1.3-1.8 1.3 3.7 1.3-4.3 1.3 3.2 1.3-.2 1.3-1.3 1.2 .1 1.3 5.8 1.3-.3 1.3 .4 1.3 1.7 1.3-2.7 1.3-.6 1.3 4.9 1.2-4 1.3 4.2 1.3-.7 1.3-1 1.3 2.8 1.3-1.9 1.3 2.7 1.2 1.2 1.3-.3 1.3 .6 1.3 1 1.3-2.6 1.3 4.2 1.3-.7 1.3 3.9 1.2-.9 1.3 .1 1.3 2.5 1.3-1.6 1.3 4.1 1.3-1.5 1.3 1.4 1.2 .4 1.3 1.8 1.3 1.8 1.3-6.4 1.3 5.5 1.3 .5 1.3 1 1.2 2.5 1.3-1.3 1.3-.8 1.3 3.9 1.3-10.5 1.3 10 1.3 .2 1.3 1.9 1.2 1.7 1.3-2.4 1.3 2.6 1.3 2.1 1.3-.9 1.3 2.6 1.3 .5 1.2-4 1.3 4.3 1.3 .4 1.3 3.3 1.3-2.3 1.3 2.7 1.3-5.4 1.2 3.9 1.3 2.6 1.3-.2 1.3 1.1 1.3 2.8 1.3-1.9 1.3 .8 1.3-2 1.2 2.6 1.3 1.1 1.3 0 1.3-.8 1.3 4.8 1.3-.6 1.3-.6 1.2 2 1.3-.6 1.3 1.7 1.3-5.6 1.3 8.2 1.3-.5 1.3-.5 1.3-1.9 1.2 5.1 1.3-4 1.3 3.5 1.3 1.5 1.3-.4 1.3 3 1.3-1.8 1.2-.8 1.3-4.4 1.3 7.8 1.3-1.2 1.3-7.9 1.3 9.8 1.3-5 1.2 4.8 1.3 3.3 1.3-2.5 1.3 3.3 1.3-2.3 1.3 1.9 1.3-5.6 1.3 5 1.2-6.7 1.3 9.5 1.3-2.4 1.3-.4 1.3 5.7 1.3-3.5 1.3-3.7 1.2 4.1 1.3-1.5 1.3 .8 1.3 5.1 1.3-2.9 1.3-.7 1.3 2.9 1.3-5.1 1.2 5.1 1.3-.7 1.3 1.3 1.3-1.6 1.3 3.5 1.3 .5 1.3-2.4 1.2 4.8 1.3-3.4 1.3-3 1.3 4.7 1.3-3.6 1.3 2.3 1.3 1 1.2 1.2 1.3 .5 1.3-3.7 1.3 3.4 1.3 4.2 1.3-.9 1.3-1.4 1.3 1.4 1.2-.3 1.3 3.1 1.3-.6 1.3-4.1 1.3-.6 1.3 5.6 1.3 4.3 1.2-8.9 1.3 5.7 1.3 2 1.3-2.3 1.3-.3 1.3 2.7 1.3-2.1 1.2-3.9 1.3 7.1 1.3-2.1 1.3 3.5 1.3-.4 1.3 .4 1.3 3.3 1.3-1.3 1.2-.3 1.3-5.5 1.3 4.1 1.3 5.8 1.3-.8 1.3-3.4 1.3 4.2 1.2-3.1 1.3-.1 1.3 1.1 1.3-.1 1.3 3.3 1.3 .5 1.3-.2 1.3-.6 1.2 1.2 1.3-.8 1.3-5.2 1.3 7.1 1.3-2.1 1.3-3.4 1.3 5.9 1.2 3 1.3-4.2 1.3 2.9 1.3 .3 1.3 4.3 1.3-2.4 1.3-2.6 1.2 3.7 1.3-.1 1.3-.4 1.3-2.5 1.3 2.9 1.3-.4 1.3-3.5 1.3-2.3 1.2 4.9 1.3 4.3 1.3-.3 1.3-2.4 1.3 1.8 1.3 1.1 1.3-.5 1.2-2.2 1.3-2 1.3 1.2 1.3 4.5 1.3-1.5 1.3 2.9 1.3-2 1.2 1.8 1.3-4.8 1.3 5.6 1.3-.8 1.3 .1 1.3 .5 1.3-7.2 1.3 6.4 1.2 .3 1.3 2.7 1.3-.9 1.3-.4 1.3 2.7 1.3-2 1.3-.1 1.2 .4 1.3 .6 1.3 .3 1.3 .3 1.3-.4 1.3-.5 1.3 1.6 1.3-4.2 1.2 4.4 1.3-2.7 1.3 5.1 1.3-9 1.3 4.6 1.3 3.3 1.3-8.4 1.2 10.3 1.3-1.5 1.3 1.4 1.3 .3 1.3 1.7 1.3-2.2 1.3 1.3 1.2-2.7 1.3 4.4 1.3-1 1.3 .9 1.3-.5 1.3-.2 1.3 2.5 1.3 2.5 1.2-1.9 1.3 1.1 1.3-9.1 1.3 9.4 1.3-3.7 1.3 4.4 1.3-1.5 1.2-3.1 1.3 4.8 1.3 0 1.3 1.9 1.3 .2 1.3-4.2 1.3-4.9 1.2 2.1 1.3 1.6 1.3 5.2 1.3-.1 1.3-6.5 1.3 5.6 1.3 .7 1.3 .8 1.2 .1 1.3-.2 1.3-1.3 1.3 0 1.3-7.5 1.3 4.5 1.3 7.5 1.2-1.1 1.3 2.5 1.3-3.3 1.3 .8 1.3 0 1.3 .9 1.3-2.2 1.3 3 1.2-2.1 1.3 2.1 1.3 .6 1.3-.2 1.3 0 1.3-7.6 1.3 6.6 1.2 .3 1.3-2.6 1.3 4.3 1.3-.4 1.3-6.3 1.3 5.9 1.3 1.1 1.2-6.8 1.3 9.1 1.3-2.7 1.3 2.5 1.3-.2 1.3-1.1 1.3-.3 1.3 1.2 1.2-4.8 1.3 6.9 1.3-.5 1.3 1 1.3-2.6 1.3 1.6 1.3-.7 1.2 4.1 1.3-1.7 1.3-1.6 1.3-.7 1.3 3.9 1.3-3.7 1.3 3.3 1.2-.6 1.3-.6 1.3-2 1.3 3.1 1.3 .8 1.3-3.5 1.3-.3 1.3 3.6 1.2-1.8 1.3 1 1.3-6.9 1.3 8.5 1.3 .3 1.3 1.9 1.3-1.2 1.2 2 1.3-1.5 1.3-4 1.3 3.5 1.3-2.4 1.3 2.3 1.3 1.7 1.3-3.9 1.2 5.6 1.3-.9 1.3 1.8 1.3-1.5 1.3 1.8 1.3-1 1.3-1.7 1.2 .2 1.3 2.1 1.3 .4 1.3-3.6 1.3 4.6 1.3-4.3 1.3 2.9 1.2-.5 1.3 2.1 1.3-1.9 1.3 .4 1.3 .8 1.3 1.6 1.3-3.2 1.3 1.6 1.2 .1 1.3-9.8 1.3 11.9 1.3-1.3 1.3-3.6 1.3-1 1.3 5.9 1.2-3.5 1.3 6.2 1.3-3.9 1.3 .8 1.3 3.2 1.3-1.9 1.3-2.8 1.2-.3 1.3 3.7 1.3-.7 1.3-.7 1.3 1.9 1.3 2.4 1.3-1 1.3-4.3 1.2 .8 1.3-6 1.3 8.1 1.3-5 1.3 3.6 1.3-2.2 1.3 3 1.2-3.1 1.3 4.8 1.3-6.2 1.3 6.2 1.3 2.7 1.3-2.1 1.3 3 1.3-1.6 1.2 .8 1.3 0 1.3-1.9 1.3 3.7 1.3-7.5 1.3 .4 1.3 3.6 1.2-1.6 1.3-3.6 1.3 2.6 1.3 2.7 1.3 1.5 1.3-.7 1.3-1.1 1.2 3.6 1.3-2.5 1.3-4.3 1.3 4.7 1.3 1.4 1.3-2.1 1.3-.2 1.3-3.9 1.2 5.6 1.3-.6 1.3 0 1.3-3.4 1.3-4.2 1.3 10.5 1.3-4.5 1.2 3.6 1.3 1.7 1.3 .5 1.3-2 1.3 0 1.3-.1 1.3 3.6 1.2-3.5 1.3-1.2 1.3 1.6 1.3-3.7 1.3 6.2 1.3-2.5 1.3 4.4 1.3-3 1.2 3.9 1.3-2.5 1.3 1 1.3-6.9 1.3 6.9 1.3 .2 1.3-1.6 1.2 .9 1.3 .9 1.3 .4 1.3 1 1.3 2.6 1.3-2 1.3-3.5 1.3 5.7 1.2-8.2 1.3 6.1 1.3-1 1.3 .8 1.3-3.6 1.3 2.5 1.3 2.2 1.2 1.4 1.3-3.2 1.3-.1 1.3-.7 1.3 .5 1.3 1.8 1.3-.3 1.2 1.8 1.3-.7 1.3-3 1.3 3.1 1.3 2.2 1.3-1.6 1.3-.2 1.3 1.2 1.2 .9 1.3-8.2 1.3 7.4 1.3-.4 1.3-1.6 1.3 .8 1.3 2.8 1.2 0 1.3-3.2 1.3 2.4 1.3-2.8 1.3-2.3 1.3 6.4 1.3-1.5 1.3 1.7 1.2-3.4 1.3-1.1 1.3-1.9 1.3 3.8 1.3 1.2 1.3-4 1.3 4 1.2 .3 1.3 2.8 1.3-.9 1.3-3.4 1.3-1.7 1.3 6.1 1.3-2 1.2-.4 1.3-4.4 1.3 2.9 1.3 3.1 1.3 .7 1.3-2.6 1.3 2.2 1.3 2.8 1.2-2.8 1.3-2.3 1.3 1.8 1.3-1 1.3 3.3 1.3-4.3 1.3 3 1.2-.3 1.3 1.2 1.3-1.5 1.3-1 1.3-.9 1.3 4 1.3-7 1.2 7.3 1.3-1.1 1.3 2.2 1.3-2.7 1.3-1.4 1.3 3.5 1.3-9.6 1.3 5.8 1.2-.2 1.3-4.4 1.3 8.8 1.3-1 1.3-5.7 1.3 7.1 1.3-9.9 1.2 8.6 1.3 1 1.3-.5 1.3-.6 1.3-.1 1.3 4.8 1.3-6.4 1.3 2.3 1.2 2.7 1.3-3.7 1.3 .6 1.3-.7 1.3-1.1 1.3 .9 1.3 4.2 1.2-.6 1.3 1 1.3-.1 1.3-.4 1.3 .5 1.3-.2 1.3-1 1.2 1.5 1.3 1.3 1.3-4.3 1.3 4.3 1.3 2.8 1.3-4 1.3 .6 1.3-.6 1.2 1.6 1.3-1.8 1.3-5.6 1.3 9.8 1.3-1.1 1.3-.5 1.3-.7 1.2 .9 1.3-3.1 1.3 2.3 1.3 1.4 1.3-3.1 1.3-4.4 1.3 5.1 1.2-2.1 1.3 3.7 1.3-2.7 1.3-1.2 1.3 4.1 1.3 .9 1.3 .5 1.3-3.5 1.2 1.9 1.3-.3 1.3-1.8 1.3 .8 1.3 1.2 1.3 3.6 1.3-4.2 1.2-4.1 1.3 6.3 1.3-.1 1.3 .9 1.3-1.6 1.3-.9 1.3 3.8 1.3-6.9 1.2 3.7 1.3 2.9 1.3-1.9 1.3 1.3 1.3-1.5 1.3 1.5 1.3 .1 1.2 1.2 1.3 1.3 1.3-2.3 1.3 1.3 1.3-4 1.3-1.1 1.3 .7 1.2 4.6 1.3-3 1.3 1.8 1.3 1.7 1.3-1.6 1.3 2.5 1.3-2.3 1.3-1.7 1.2 1.2 1.3-1 1.3-.5 1.3-.2 1.3-3.4 1.3 5.6 1.3-7.3 1.2 11.7 1.3-3.6 1.3 .4 1.3 .1 1.3 .1 1.3-2 1.3-.6 1.2 3.8 1.3-2.7 1.3 2.6 1.3-.6 1.3 .1 1.3 .9 1.3-1.7 1.3-.9 1.2 .6 1.3 2.3 1.3-.9 1.3 .3 1.3-1.7 1.3 .7 1.3 .7 1.2-.2 1.3-2.9 1.3 3.9 1.3-2.3 1.3-2.8 1.3 4.1 1.3 1.4 1.3-6.4 1.2 7.4 1.3-10.2 1.3 9.1 1.3 .7 1.3-2 1.3 1 1.3 2.4 1.2-3.9 1.3 3.2 1.3-3.7 1.3-4.7 1.3 5.6 1.3-7 1.3 9.9 1.2 .7 1.3-1.9 1.3-.9 1.3 5.2 1.3-6.2 1.3 6.6 1.3-8 1.3-3 1.2 6.9 1.3 1 1.3-1 1.3-2.9 1.3 3.9 1.3-.8 1.3 .7 1.2-2.5 1.3 1.9 1.3 1.6 1.3 2 1.3-6 1.3 4.1 1.3-2 1.2 2.3 1.3-.1 1.3-.7 1.3 0 1.3 1.6 1.3-3.1 1.3-6.6 1.3 9.4 1.2 .2 1.3-1.2 1.3 1.2 1.3-1.7" stroke="#ec3030" stroke-width="4.8"/>
<g fill="#f00" stroke="none"><circle cx="969.0" cy="617.6" r="14.3"/><circle cx="1097.6" cy="797.3" r="14.3"/><circle cx="1226.3" cy="868.2" r="14.3"/><circle cx="1354.9" cy="921.8" r="14.3"/><circle cx="1483.6" cy="957.7" r="14.3"/><circle cx="1612.2" cy="982.9" r="14.3"/><circle cx="1740.9" cy="997.6" r="14.3"/><circle cx="1869.5" cy="1013.4" r="14.3"/><circle cx="1998.2" cy="1024.3" r="14.3"/><circle cx="2126.8" cy="1033.2" r="14.3"/></g>
<path d="M969 864.2l1.3 1.2 1.3 3.5 1.3 3.7 1.2 3 1.3-.4 1.3 3.7 1.3 2.8 1.3 .7 1.3 2.1 1.3 1.9 1.3 1.8 1.2 4.7 1.3 .7 1.3 1.9 1.3 1.1 1.3 2.3 1.3 1.7 1.3 3.4 1.2 .5 1.3 1.9 1.3 1.3 1.3 2.3 1.3 4 1.3 .3 1.3 1.1 1.2 1.9 1.3 1.5 1.3 .2 1.3 4.2 1.3 .2 1.3 2.1 1.3 .5 1.3 4.8 1.2-.3 1.3 2.4 1.3-3.8 1.3 5.8 1.3 .4 1.3 3.5 1.3 .1 1.2 1.5 1.3-1.5 1.3 3 1.3 4.3 1.3 .9 1.3 1.5 1.3 1.1 1.2 1.4 1.3-.2 1.3 3.5 1.3 1.4 1.3 1.6 1.3 2.3 1.3-.1 1.3-.4 1.2 3.9 1.3 .4 1.3 .5 1.3 0 1.3 4 1.3-.6 1.3 .6 1.2 1.1 1.3 .5 1.3 3 1.3-1.6 1.3 3.7 1.3 .1 1.3 1.1 1.3 2.1 1.2-1.1 1.3 1.3 1.3 3.3 1.3-2.1 1.3 .6 1.3-.6 1.3-.3 1.2 3.5 1.3 .6 1.3 2.4 1.3-1.1 1.3 2.4 1.3-.6 1.3 1.2 1.2-1 1.3 .9 1.3 1.1 1.3 2.3 1.3-.6 1.3 .7 1.3-1.3 1.3 2.2 1.2 .8 1.3-5.5 1.3 6.4 1.3 2.8 1.3-2.6 1.3 5 1.3-2.7 1.2 1.5 1.3 1.1 1.3-3.1 1.3 1.2 1.3 3.5 1.3 2.6 1.3 .3 1.2-1.9 1.3 1.9 1.3 .3 1.3 .6 1.3-1.5 1.3 2.4 1.3 2.8 1.3 1.1 1.2-.7 1.3 1 1.3 1 1.3-2.1 1.3 1.8 1.3 2.1 1.3-.4 1.2 1.2 1.3 1 1.3 .4 1.3-2.5 1.3 2.3 1.3-3.7 1.3 4.3 1.3 1.6 1.2-1.6 1.3 .5 1.3 .1 1.3 4.1 1.3-3 1.3 3 1.3-.5 1.2-.5 1.3 .9 1.3 .3 1.3 .5 1.3 .6 1.3-.6 1.3-.9 1.2 1.7 1.3 1.9 1.3-3.6 1.3 1.4 1.3 2.5 1.3-1 1.3 .9 1.3-3.2 1.2 4 1.3 1.8 1.3-1.1 1.3 1.1 1.3-1 1.3 1.3 1.3-.4 1.2 1.6 1.3-2 1.3 1.8 1.3 .5 1.3 .5 1.3-1.3 1.3-.1 1.2-.1 1.3-1.5 1.3 4.9 1.3-1.3 1.3 1.8 1.3-.6 1.3 2.1 1.3-2.4 1.2-3.3 1.3 5.6 1.3-.7 1.3-.3 1.3 .9 1.3-1.3 1.3-.2 1.2-2 1.3 4.9 1.3 .5 1.3-1 1.3 2.4 1.3-1.8 1.3 1.4 1.3 .8 1.2-.7 1.3 2.1 1.3-2.8 1.3 2 1.3-2.8 1.3 4.3 1.3-.4 1.2-.2 1.3 1.7 1.3-1.4 1.3 1.9 1.3-.5 1.3 .8 1.3-2.7 1.2 4.3 1.3-2.1 1.3 .9 1.3-1.1 1.3 .1 1.3 3.8 1.3-1.2 1.3-.6 1.2 .7 1.3 .9 1.3-1.7 1.3 .9 1.3 .8 1.3 0 1.3 .2 1.2 1.2 1.3-2.2 1.3 1.2 1.3-.2 1.3 1.3 1.3-.4 1.3 1.7 1.2 .1 1.3-.5 1.3 1.3 1.3-1.8 1.3 .1 1.3 2.5 1.3-.8 1.3 .3 1.2-.4 1.3 .4 1.3 1.6 1.3-.5 1.3-1.9 1.3 1.3 1.3 .9 1.2 1.3 1.3-3.3 1.3 2.9 1.3-.6 1.3-.1 1.3 .9 1.3-.2 1.3-1.8 1.2 2.4 1.3 2.1 1.3-2.2 1.3 2.4 1.3-2.9 1.3 0 1.3 2.8 1.2-1.5 1.3 1.4 1.3 .1 1.3 .4 1.3-4.3 1.3 3.1 1.3 .8 1.2 1.3 1.3-.8 1.3 .4 1.3 .7 1.3-3.4 1.3 2.7 1.3-.1 1.3 .3 1.2-.1 1.3 .8 1.3-.3 1.3-.1 1.3-1 1.3 1.9 1.3 .6 1.2 .7 1.3 .3 1.3-1.3 1.3 2.2 1.3-1.2 1.3 1.2 1.3-2.1 1.3 1 1.2-4.7 1.3 4.9 1.3-.1 1.3 .9 1.3-1.3 1.3 2.8 1.3-4.1 1.2 3.6 1.3-1.6 1.3-1.1 1.3 2.6 1.3 1.4 1.3-1.5 1.3-.2 1.2-.8 1.3 .7 1.3-4.3 1.3 4.7 1.3 1.4 1.3-.8 1.3-.8 1.3-.4 1.2-.5 1.3 2.2 1.3-.3 1.3-.2 1.3-4.6 1.3 7 1.3-1.3 1.2-.5 1.3-3.1 1.3 4.5 1.3-5 1.3 4.8 1.3-1.3 1.3 1.6 1.2-4.4 1.3 4.7 1.3-2.3 1.3 1.8 1.3-3.5 1.3 3.5 1.3 .2 1.3-.9 1.2 .9 1.3 .5 1.3-.6 1.3 1.1 1.3-1 1.3 1.8 1.3-1.2 1.2 .3 1.3-.4 1.3 .1 1.3 1 1.3-6.2 1.3 3.7 1.3 1.4 1.3 1 1.2-.3 1.3 1.2 1.3-1.1 1.3-4.1 1.3 3.7 1.3 .7 1.3-1.1 1.2 1.8 1.3-1.2 1.3 1.3 1.3 0 1.3-.4 1.3 3 1.3-2.5 1.2-.6 1.3-2 1.3 2 1.3 1.4 1.3-1.8 1.3 2.2 1.3-.5 1.3-.2 1.2 1.3 1.3 .1 1.3-1.4 1.3 1.4 1.3-.9 1.3-3.3 1.3 3.6 1.2 1.3 1.3-1.2 1.3-1.5 1.3 .7 1.3-.3 1.3 0 1.3 1.9 1.2-.4 1.3-1.1 1.3 .3 1.3-.1 1.3-3.2 1.3 6.3 1.3-2.7 1.3 .2 1.2 2.1 1.3-.8 1.3-2.2 1.3-1.9 1.3-.3 1.3 .8 1.3 4.4 1.2-.5 1.3-.5 1.3 .4 1.3 .2 1.3 .8 1.3-1 1.3-.3 1.3-2.5 1.2 4.1 1.3-2.1 1.3 1.4 1.3 .7 1.3 .7 1.3-1.6 1.3 .3 1.2 2.1 1.3-.1 1.3-.7 1.3-2.2 1.3-.5 1.3 1.6 1.3 1.5 1.2-1.5 1.3-1 1.3 1.9 1.3-.3 1.3-3.9 1.3 3.8 1.3 .6 1.3 1 1.2-1.6 1.3-3.9 1.3 3.6 1.3-.9 1.3 3.6 1.3-4 1.3 3.6 1.2-.3 1.3-1.3 1.3 1.1 1.3 .3 1.3-.3 1.3-.4 1.3-.6 1.2 .8 1.3 1.8 1.3-3.3 1.3 1.7 1.3 .6 1.3-2.2 1.3 .2 1.3 3.5 1.2-2.1 1.3 1.1 1.3-.4 1.3-1.6 1.3 .9 1.3 1.6 1.3-1.1 1.2 .1 1.3 .6 1.3-2.7 1.3 2.9 1.3 .6 1.3-1.1 1.3 1.3 1.3-1 1.2 1 1.3 0 1.3-5.9 1.3 2 1.3 2.4 1.3 1.5 1.3-1.6 1.2 1.1 1.3-.9 1.3 1.5 1.3-.7 1.3-.4 1.3-3.2 1.3 2.1 1.2 0 1.3 1.8 1.3 1.3 1.3-2.2 1.3 0 1.3 1.6 1.3-3.5 1.3 3.2 1.2 1.1 1.3-.9 1.3-.1 1.3 .7 1.3-.2 1.3-1.4 1.3 1.4 1.2-2.1 1.3 1.4 1.3 1.3 1.3-1 1.3-4.1 1.3 3.2 1.3 .6 1.2-.7 1.3 2.1 1.3-3.1 1.3 1 1.3 2 1.3-.3 1.3 .9 1.3-.7 1.2-.8 1.3 .3 1.3 1.6 1.3-1.1 1.3-1.2 1.3 .8 1.3 .7 1.2 0 1.3 .1 1.3 .8 1.3-1.3 1.3-1.6 1.3 2.2 1.3 .4 1.3-1.1 1.2 1.6 1.3-3.1 1.3 2.4 1.3 .7 1.3 .6 1.3-2.3 1.3 1.6 1.2 .2 1.3-1 1.3 0 1.3-2.7 1.3 4.3 1.3-1.8 1.3 .1 1.2-.4 1.3 1.1 1.3-.9 1.3 0 1.3 .6 1.3-.4 1.3 1.5 1.3-.9 1.2-.5 1.3 .1 1.3 .1 1.3 1.1 1.3 .1 1.3-.7 1.3-1.4 1.2 .2 1.3-.3 1.3 .5 1.3 1.8 1.3 .2 1.3-4.7 1.3 3.7 1.2 .8 1.3-3 1.3 3.3 1.3 0 1.3-3.4 1.3 .3 1.3 2.2 1.3 1.5 1.2-6.4 1.3 5.2 1.3 .4 1.3-4.1 1.3 5.2 1.3-.4 1.3-2.3 1.2 2.1 1.3-.9 1.3 .7 1.3-5.4 1.3 5.3 1.3 .1 1.3-2 1.3 3.8 1.2-1.8 1.3-1 1.3 0 1.3-1.3 1.3 3.2 1.3-1.2 1.3 .4 1.2 .2 1.3-1.4 1.3-.1 1.3 .6 1.3-1 1.3 .9 1.3 .7 1.2-.5 1.3 .1 1.3-.6 1.3 1.4 1.3 .9 1.3-1.5 1.3-.5 1.3-.2 1.2 1.1 1.3 1.1 1.3 .4 1.3-3.6 1.3 1.8 1.3 .9 1.3 .2 1.2-1.4 1.3 1.9 1.3-3.3 1.3-4.3 1.3 6 1.3 1.6 1.3-2 1.2 1.5 1.3-.1 1.3-.6 1.3 .6 1.3 0 1.3 2.6 1.3-2.8 1.3-5.7 1.2 6.1 1.3 .4 1.3 .9 1.3-1.6 1.3 .4 1.3-.2 1.3-.1 1.2 0 1.3 .5 1.3-.3 1.3-2 1.3 3.2 1.3-2.7 1.3 2.4 1.3-1.2 1.2 .1 1.3 .9 1.3-.7 1.3-1 1.3-1.2 1.3 2.1 1.3-.1 1.2 1.6 1.3-6.2 1.3 6.5 1.3-2.5 1.3-1 1.3 2.4 1.3-1.4 1.2 .6 1.3 1.5 1.3-1.2 1.3-.9 1.3 .7 1.3 .2 1.3-.9 1.3 3.1 1.2-2.5 1.3 .7 1.3 1.1 1.3-.6 1.3 1.2 1.3-2.1 1.3 .2 1.2 1.6 1.3-2.2 1.3 1.6 1.3-.7 1.3-1.3 1.3-3.5 1.3 4.8 1.3 .3 1.2-.2 1.3 2.3 1.3-2.3 1.3-1.3 1.3 1.6 1.3-1.7 1.3 2 1.2 .3 1.3 .2 1.3 .2 1.3-.5 1.3 .3 1.3-.4 1.3 .7 1.2-.9 1.3-.2 1.3-.2 1.3 .8 1.3-2.5 1.3 2.6 1.3-.3 1.3-1.7 1.2 .8 1.3-1.3 1.3 2.9 1.3-1.4 1.3 1.2 1.3-.9 1.3 .4 1.2-1.2 1.3 .3 1.3-.9 1.3 1.6 1.3 1.4 1.3-1.4 1.3 .1 1.2 .2 1.3 .7 1.3-1.4 1.3 2.2 1.3-4.7 1.3 1.5 1.3 4.2 1.3-2.2 1.2-1.9 1.3 1.6 1.3 1.4 1.3 .7 1.3-1.9 1.3-.5 1.3 2.2 1.2-2.6 1.3 3.3 1.3-3.1 1.3 1.3 1.3-2.1 1.3 2 1.3-1.2 1.3 1.9 1.2-.6 1.3-.1 1.3-2.3 1.3 1.1 1.3 3.1 1.3 0 1.3-5.7 1.2 2.8 1.3 1.1 1.3 1.1 1.3-5.8 1.3 4 1.3-3.1 1.3 3.7 1.2-1.5 1.3 .3 1.3-1.1 1.3 2.5 1.3 .4 1.3-1.7 1.3 1.7 1.3-1.1 1.2-1.2 1.3 2.4 1.3-.3 1.3 1.9 1.3-4.1 1.3 2.5 1.3-.2 1.2-.3 1.3 .2 1.3 1.1 1.3-2.8 1.3 .6 1.3 1.2 1.3-.9 1.2 .4 1.3 1.1 1.3-1.1 1.3 1.3 1.3-2.4 1.3 1.9 1.3 1.4 1.3-3.7 1.2 2.9 1.3-.7 1.3-2.7 1.3 4.3 1.3-1.6 1.3 .3 1.3-1.6 1.2 3.5 1.3-3 1.3 1.1 1.3-2.1 1.3 1.9 1.3 .9 1.3-.8 1.3-4.6 1.2 2.5 1.3-2 1.3 5.1 1.3-1.7 1.3 1.3 1.3 .3 1.3-.6 1.2-.8 1.3-.2 1.3 2.3 1.3-2.1 1.3 .8 1.3-1.2 1.3 2.5 1.2-1.4 1.3-.8 1.3-1.5 1.3 1.3 1.3 2.2 1.3-2.1 1.3-.2 1.3 1.3 1.2-1.2 1.3-2.2 1.3 .6 1.3 2.8 1.3 .7 1.3-4.7 1.3 2.6 1.2 1 1.3 .7 1.3-3 1.3 3.6 1.3-.5 1.3 1.1 1.3-.8 1.2-1.5 1.3-.9 1.3 1.9 1.3-.3 1.3-.2 1.3 .1 1.3 1.2 1.3-5.5 1.2 4.1 1.3 1.1 1.3-.4 1.3 .9 1.3-1.9 1.3 1.2 1.3-1.1 1.2 1.6 1.3-2.6 1.3 2.1 1.3-1.8 1.3 2 1.3-.8 1.3-1 1.3 1 1.2 1.8 1.3-.3 1.3-2.1 1.3 3 1.3-4.6 1.3 3.8 1.3-2.5 1.2 3.4 1.3-4.2 1.3 .8 1.3 1.6 1.3-1.9 1.3 2.6 1.3-1.1 1.2-.8 1.3 2.7 1.3-4.6 1.3 2.8 1.3-.4 1.3 .1 1.3-.3 1.3 3 1.2-1.9 1.3 .2 1.3-5.7 1.3 8.4 1.3-2.8 1.3 .4 1.3-.8 1.2 0 1.3 .3 1.3 .3 1.3-.2 1.3 .3 1.3 .1 1.3-.9 1.2 .6 1.3-3.6 1.3 2.3 1.3 2.2 1.3-1.1 1.3-3.1 1.3 2.4 1.3 .6 1.2-.4 1.3-1.2 1.3 2.9 1.3-3.2" stroke="#1668dc" stroke-width="4.5"/>
<g fill="#00f" stroke="none"><path d="M969.0 841.2L986.2 870.7L951.8 870.7Z"/><path d="M1097.6 978.2L1114.9 1007.7L1080.4 1007.7Z"/><path d="M1226.3 1018.2L1243.5 1047.7L1209.0 1047.7Z"/><path d="M1354.9 1037.8L1372.2 1067.3L1337.7 1067.3Z"/><path d="M1483.6 1048.1L1500.8 1077.6L1466.3 1077.6Z"/><path d="M1612.2 1052.0L1629.5 1081.5L1595.0 1081.5Z"/><path d="M1740.9 1054.7L1758.1 1084.2L1723.6 1084.2Z"/><path d="M1869.5 1059.0L1886.8 1088.5L1852.3 1088.5Z"/><path d="M1998.2 1059.0L2015.4 1088.5L1980.9 1088.5Z"/><path d="M2126.8 1061.1L2144.1 1090.6L2109.6 1090.6Z"/></g>
</g>
<rect x="969.0" y="477.0" width="1157.8000000000002" height="636.2" fill="none" stroke="#505050" stroke-width="3.5"/>
<path d="M969.0 1086.5h13 M969.0 814.7h13 M969.0 542.9h13 M969.0 950.6h7 M969.0 678.8h7 M1547.9 1113.2v-7" stroke="#222" stroke-width="3" fill="none"/>
<g font-family="'Liberation Serif',serif" font-size="81" fill="#000"><text transform="translate(953.3 1110.5) scale(1 1.025)" text-anchor="end">0</text><text transform="translate(953.3 838.7) scale(1 1.025)" text-anchor="end">10</text><text transform="translate(953.3 566.9) scale(1 1.025)" text-anchor="end">20</text><text transform="translate(972.0 1192) scale(1 1.025)" text-anchor="middle">100</text><text transform="translate(2129.8 1192) scale(1 1.025)" text-anchor="middle">1000</text></g>
<g fill="none" stroke="#ff0000" stroke-width="8.5" stroke-linecap="round" stroke-linejoin="round">
<rect x="455.6" y="1231.9" width="319.8" height="265.7" stroke-linecap="butt" stroke-linejoin="miter"/>
<path d="M775.4 1231.9L893 1173.5"/>
<path d="M857 1170.2L894 1173L875 1204.5" stroke-linejoin="miter" stroke-miterlimit="10"/>
</g>
</svg></body></html>
